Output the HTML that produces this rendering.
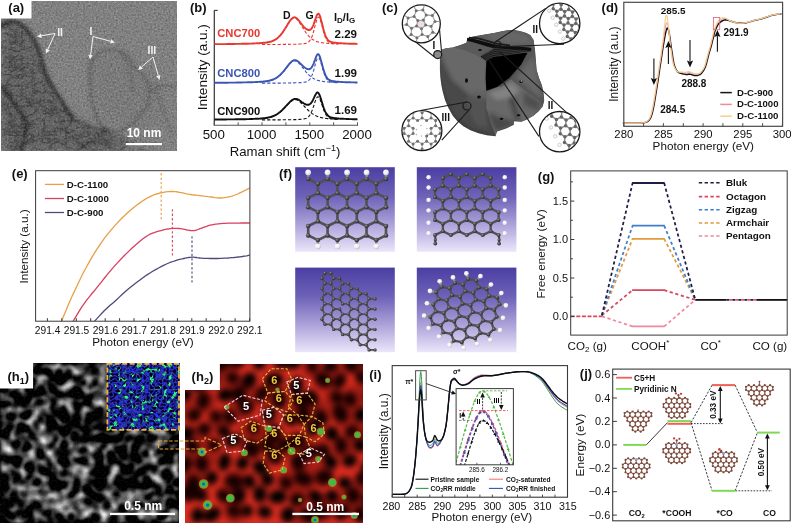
<!DOCTYPE html>
<html lang="en"><head><meta charset="utf-8"><title>Figure</title>
<style>
html,body{margin:0;padding:0;background:#fff;}
body{width:792px;height:525px;overflow:hidden;}
svg{display:block;font-family:"Liberation Sans",Arial,sans-serif;}
</style></head><body>
<svg width="792" height="525" viewBox="0 0 792 525">
<rect width="792" height="525" fill="#fff"/>
<g id="a"><defs><clipPath id="ca"><rect x="1" y="1" width="176" height="150"/></clipPath><filter id="na" x="0" y="0" width="100%" height="100%"><feTurbulence type="fractalNoise" baseFrequency="0.55" numOctaves="2" seed="3" result="t"/><feColorMatrix in="t" type="matrix" values="0 0 0 0 0  0 0 0 0 0  0 0 0 0 0  0.5 0 0 0 -0.17"/></filter><filter id="nw" x="0" y="0" width="100%" height="100%"><feTurbulence type="fractalNoise" baseFrequency="0.55" numOctaves="2" seed="11" result="t"/><feColorMatrix in="t" type="matrix" values="0 0 0 0 1  0 0 0 0 1  0 0 0 0 1  0.42 0 0 0 -0.15"/></filter><filter id="ba" x="-20%" y="-20%" width="140%" height="140%"><feGaussianBlur stdDeviation="1.6"/></filter><filter id="ba2" x="-20%" y="-20%" width="140%" height="140%"><feGaussianBlur stdDeviation="4"/></filter><filter id="ba3" x="-20%" y="-20%" width="140%" height="140%"><feGaussianBlur stdDeviation="0.8"/></filter><filter id="nsw" x="0" y="0" width="100%" height="100%"><feTurbulence type="turbulence" baseFrequency="0.09 0.14" numOctaves="2" seed="8" result="t"/><feColorMatrix in="t" type="matrix" values="0 0 0 0 0  0 0 0 0 0  0 0 0 0 0  -2.2 0 0 0 0.62"/></filter><mask id="msw"><path d="M1,20 L12,20 L26,30 L36,48 L45,76 L60,102 L72,116 L95,128 L112,134 L140,138 L160,151 L1,151 Z" fill="#fff" filter="url(#ba2)"/></mask></defs>
<g clip-path="url(#ca)">
<rect x="1" y="1" width="176" height="150" fill="#848484"/>
<path d="M1,18 L12,20 L26,30 L36,48 L45,76 L60,102 L72,116 L95,128 L108,133 L125,140 L135,151 L1,151 Z" fill="#5c5c5c" opacity="0.8" filter="url(#ba2)"/>
<path d="M88,60 L100,50 L128,52 L140,70 L160,72 L170,95 L165,125 L120,130 L95,115 Z" fill="#7a7a7a" opacity="0.6" filter="url(#ba2)"/>
<circle cx="105" cy="131" r="3.5" fill="#333" opacity="0.6" filter="url(#ba)"/>
<polyline points="1.5,26 2.1,25.7 2.9,25.1 3.8,24.6 4.9,24 6,23.4 7,23 8.1,22.7 9.2,22.4 10.3,22.2 11.5,22 12.6,21.9 13.7,22 14.8,22.2 15.8,22.5 16.9,22.9 17.9,23.4 19,23.9 20,24.5 21,25.1 22,25.7 23.1,26.4 24,27.2 25,28.1 26,29 27,30.1 27.9,31.2 28.8,32.5 29.7,33.8 30.6,35.1 31.5,36.5 32.4,37.9 33.3,39.4 34.2,41 35,42.6 35.9,44.1 36.6,45.7 37.3,47.2 37.9,48.7 38.5,50.3 39,51.8 39.5,53.4 40,55 40.5,56.7 40.9,58.4 41.4,60.2 41.8,62 42.2,63.8 42.7,65.5 43.2,67.1 43.7,68.8 44.2,70.4 44.8,71.9 45.4,73.5 46,75 46.6,76.5 47.3,78 48,79.4 48.8,80.9 49.5,82.3 50.3,83.8 51.1,85.3 52,86.7 52.8,88.2 53.7,89.6 54.6,91.1 55.5,92.5 56.4,93.9 57.3,95.2 58.3,96.6 59.2,97.9 60.1,99.2 61,100.6 61.9,102 62.7,103.4 63.5,104.8 64.3,106.2 65.1,107.6 66,109 67,110.5 68,112.1 69.1,113.7 70.1,115.2 71,116.5 71.6,117.4" fill="none" stroke="#3a3a3a" stroke-width="5" opacity="0.75" stroke-linecap="round" stroke-linejoin="round" filter="url(#ba)"/>
<polyline points="1.5,26 2.1,25.7 2.9,25.1 3.8,24.6 4.9,24 6,23.4 7,23 8.1,22.7 9.2,22.4 10.3,22.2 11.5,22 12.6,21.9 13.7,22 14.8,22.2 15.8,22.5 16.9,22.9 17.9,23.4 19,23.9 20,24.5 21,25.1 22,25.7 23.1,26.4 24,27.2 25,28.1 26,29 27,30.1 27.9,31.2 28.8,32.5 29.7,33.8 30.6,35.1 31.5,36.5 32.4,37.9 33.3,39.4 34.2,41 35,42.6 35.9,44.1 36.6,45.7 37.3,47.2 37.9,48.7 38.5,50.3 39,51.8 39.5,53.4 40,55 40.5,56.7 40.9,58.4 41.4,60.2 41.8,62 42.2,63.8 42.7,65.5 43.2,67.1 43.7,68.8 44.2,70.4 44.8,71.9 45.4,73.5 46,75 46.6,76.5 47.3,78 48,79.4 48.8,80.9 49.5,82.3 50.3,83.8 51.1,85.3 52,86.7 52.8,88.2 53.7,89.6 54.6,91.1 55.5,92.5 56.4,93.9 57.3,95.2 58.3,96.6 59.2,97.9 60.1,99.2 61,100.6 61.9,102 62.7,103.4 63.5,104.8 64.3,106.2 65.1,107.6 66,109 67,110.5 68,112.1 69.1,113.7 70.1,115.2 71,116.5 71.6,117.4" fill="none" stroke="#2a2a2a" stroke-width="1.6" opacity="0.75" stroke-linecap="round" stroke-linejoin="round" filter="url(#ba3)"/>
<polyline points="71.6,117.4 72.5,118 73.6,118.9 75,119.9 76.6,121 78.3,122 80,123 81.8,123.9 83.7,124.8 85.7,125.7 87.8,126.5 89.9,127.3 92,128 94.3,128.7 96.8,129.3 99.3,129.8 101.7,130.3 103.8,130.7 105.2,131" fill="none" stroke="#404040" stroke-width="3.2" opacity="0.65" stroke-linecap="round" stroke-linejoin="round" filter="url(#ba)"/>
<polyline points="1.5,87 2.7,88.5 4.3,90.5 6.2,92.8 8.2,95.4 10.3,98.1 12.2,100.6 14.1,103.1 16.1,105.6 18,108.2 19.9,110.8 21.6,113.3 22.9,115.9 23.9,118.4 24.8,120.8 25.4,123.3 25.7,125.7 25.9,128.3 25.9,131 25.5,134.1 24.8,137.6 23.8,141.1 22.8,144.5 21.9,147.4 21.3,149.4" fill="none" stroke="#353535" stroke-width="5" opacity="0.8" stroke-linecap="round" stroke-linejoin="round" filter="url(#ba)"/>
<polyline points="1,100 1.9,101.3 3.1,103 4.6,105.1 6.2,107.4 7.7,109.7 9,112 10.2,114.2 11.3,116.5 12.4,118.9 13.4,121.3 14.3,123.6 15,126 15.6,128.4 16.1,130.8 16.6,133.2 16.9,135.6 17,137.8 17,140 16.8,142.1 16.3,144.3 15.6,146.4 15,148.3 14.4,149.8 14,151" fill="none" stroke="#404040" stroke-width="3.5" opacity="0.6" stroke-linecap="round" stroke-linejoin="round" filter="url(#ba)"/>
<polyline points="29,105 30.1,104.4 31.7,103.5 33.5,102.5 35.6,101.6 37.6,100.9 39.6,100.6 41.6,100.7 43.7,101.1 45.8,101.8 47.9,102.6 49.9,103.7 51.8,105 53.6,106.6 55.3,108.5 56.9,110.6 58.4,112.9 59.8,115.2 61,117.4 61.9,119.6 62.4,121.8 62.8,124.1 63.3,126.4 64.1,128.7 65.5,131 67.6,133.4 70.4,135.9 73.4,138.5 76.6,140.9 79.6,143 82.3,144.8 84.7,146.2 87.2,147.2 89.4,148 91.5,148.5 93.2,149 94.5,149.4" fill="none" stroke="#454545" stroke-width="2.8" opacity="0.6" stroke-linecap="round" stroke-linejoin="round" filter="url(#ba)"/>
<polyline points="18,30 17.1,31.5 15.9,33.6 14.4,36 12.9,38.7 11.7,41.4 11,44 10.7,46.6 10.7,49.4 11,52.2 11.5,55 12.2,57.7 13,60 14.1,62.1 15.4,64.1 16.9,65.9 18.6,67.5 20.3,68.9 22,70 23.8,70.9 25.7,71.6 27.6,72.1 29.6,72.4 31.4,72.3 33,72 34.5,71.2 35.9,69.8 37.2,68.1 38.3,66.4 39.3,65 40,64" fill="none" stroke="#505050" stroke-width="2.8" opacity="0.5" stroke-linecap="round" stroke-linejoin="round" filter="url(#ba)"/>
<polyline points="91.5,61 91.3,63 91,65.6 90.7,68.8 90.3,72.3 90.1,75.9 90,79.3 90,82.7 90.1,86.3 90.3,89.9 90.5,93.6 90.9,97.2 91.5,100.6 92.2,103.9 93.1,107.2 94.2,110.3 95.3,113.4 96.4,116.2 97.6,118.9 98.9,121.4 100.3,123.8 101.8,126.1 103.2,128.1 104.4,129.8 105.2,131" fill="none" stroke="#484848" stroke-width="3.4" opacity="0.45" stroke-linecap="round" stroke-linejoin="round" filter="url(#ba)"/>
<polyline points="91.5,61 92.4,59.9 93.6,58.3 95.1,56.5 96.8,54.6 98.6,53 100.6,51.8 102.8,51 105.4,50.4 108.1,50.1 110.8,50 113.5,50 115.9,50.3 118.2,50.8 120.4,51.6 122.5,52.6 124.5,53.8 126.4,55 128,56.4 129.4,58 130.7,60 131.8,62.1 132.7,64.1 133.4,65.8 134,67" fill="none" stroke="#4c4c4c" stroke-width="3.4" opacity="0.4" stroke-linecap="round" stroke-linejoin="round" filter="url(#ba)"/>
<polyline points="134,67 135,67.9 136.5,69.2 138.3,70.6 140.1,72.3 141.8,74.2 143.3,76.2 144.6,78.4 145.9,80.9 147.1,83.5 148.2,86.2 149,88.9 149.4,91.5 149.5,94 149.4,96.6 149,99.1 148.4,101.6 147.5,104.2 146.3,106.7 144.8,109.3 143,112 140.9,114.7 138.6,117.4 136.3,119.8 134,122 131.6,124 129.1,125.8 126.5,127.5 123.9,128.9 121.4,130.1 118.9,131 116.4,131.5 113.7,131.7 111.1,131.6 108.7,131.3 106.7,131.1 105.2,131" fill="none" stroke="#484848" stroke-width="3.2" opacity="0.42" stroke-linecap="round" stroke-linejoin="round" filter="url(#ba)"/>
<polyline points="120,52 120.8,53 121.9,54.4 123.2,56.1 124.6,58 125.9,60 127,62 127.9,64.1 128.6,66.3 129.3,68.6 129.9,71 130.5,73.5 131,76 131.5,78.7 131.9,81.8 132.2,84.9 132.6,87.8 132.8,90.2 133,92" fill="none" stroke="#555" stroke-width="2.6" opacity="0.45" stroke-linecap="round" stroke-linejoin="round" filter="url(#ba)"/>
<polyline points="149.4,91.5 150.7,90.7 152.5,89.6 154.6,88.4 157,87.1 159.3,86 161.6,85.4 164,85.2 166.6,85.4 169.2,85.8 171.7,86.2 173.8,86.6 175.3,86.9" fill="none" stroke="#505050" stroke-width="2.4" opacity="0.5" stroke-linecap="round" stroke-linejoin="round" filter="url(#ba)"/>
<polyline points="157,87 157.3,88.4 157.7,90.2 158.1,92.4 158.7,94.8 159.3,97.4 160,100 160.8,102.7 161.8,105.7 162.8,108.8 163.9,111.9 165,115 166,118 167.1,121.1 168.2,124.4 169.4,127.6 170.4,130.6 171.3,133.2 172,135" fill="none" stroke="#555" stroke-width="2.2" opacity="0.4" stroke-linecap="round" stroke-linejoin="round" filter="url(#ba)"/>
<polyline points="105.2,131 103.7,132 101.6,133.4 99.1,135 96.5,136.8 93.9,138.6 91.5,140.2 89.2,141.8 86.9,143.6 84.5,145.4 82.4,147 80.6,148.4 79.3,149.4" fill="none" stroke="#3c3c3c" stroke-width="3.2" opacity="0.7" stroke-linecap="round" stroke-linejoin="round" filter="url(#ba)"/>
<polyline points="105.2,131 106,132 107.1,133.3 108.4,134.8 109.7,136.5 111,138.3 112,140 112.9,141.8 113.7,143.9 114.4,146.1 115.1,148.1 115.6,149.8 116,151" fill="none" stroke="#4a4a4a" stroke-width="2.4" opacity="0.5" stroke-linecap="round" stroke-linejoin="round" filter="url(#ba)"/>
<g mask="url(#msw)"><rect x="1" y="1" width="176" height="150" fill="#2a2a2a" filter="url(#nsw)" opacity="0.55"/></g>
<rect x="1" y="1" width="176" height="150" fill="#000" filter="url(#na)"/>
<rect x="1" y="1" width="176" height="150" filter="url(#nw)" opacity="0.9"/>
</g>
<rect x="0" y="0" width="31.5" height="18.5" fill="#fff"/>
<text x="8.3" y="11.7" font-size="13" font-weight="bold" text-anchor="start" fill="#111" >(a)</text>
<line x1="55" y1="33.5" x2="41.4" y2="35.8" stroke="#f2f2f2" stroke-width="1" /><polygon points="37,36.5 41.1,33.6 41.8,37.9" fill="#f2f2f2"/>
<line x1="55" y1="33.5" x2="47.8" y2="49.4" stroke="#f2f2f2" stroke-width="1" /><polygon points="46,53.5 45.8,48.5 49.9,50.3" fill="#f2f2f2"/>
<text x="57.2" y="35.9" font-size="10.5" font-weight="bold" text-anchor="start" fill="#f2f2f2" >II</text>
<line x1="93" y1="36.5" x2="110.7" y2="41.3" stroke="#f2f2f2" stroke-width="1" /><polygon points="115,42.5 110.1,43.4 111.2,39.2" fill="#f2f2f2"/>
<line x1="93" y1="36.5" x2="90.6" y2="55" stroke="#f2f2f2" stroke-width="1" /><polygon points="90,59.5 88.4,54.8 92.8,55.3" fill="#f2f2f2"/>
<text x="89.5" y="35" font-size="10.5" font-weight="bold" text-anchor="start" fill="#f2f2f2" >I</text>
<line x1="153" y1="57" x2="141.4" y2="67.1" stroke="#f2f2f2" stroke-width="1" /><polygon points="138,70 140,65.4 142.8,68.7" fill="#f2f2f2"/>
<line x1="153" y1="57" x2="158.3" y2="75.7" stroke="#f2f2f2" stroke-width="1" /><polygon points="159.5,80 156.2,76.3 160.4,75.1" fill="#f2f2f2"/>
<text x="147.5" y="54" font-size="10.5" font-weight="bold" text-anchor="start" fill="#f2f2f2" >III</text>
<rect x="125.8" y="143" width="36.2" height="2.2" fill="#fff"/>
<text x="144" y="136.8" font-size="12" font-weight="bold" text-anchor="middle" fill="#fff" >10 nm</text></g>
<g id="b"><line x1="214.3" y1="10.3" x2="214.3" y2="125.3" stroke="#333" stroke-width="1.2" />
<line x1="213.7" y1="125.3" x2="358" y2="125.3" stroke="#555" stroke-width="1.1" />
<line x1="214.3" y1="10.4" x2="217.7" y2="10.4" stroke="#333" stroke-width="1.1" />
<line x1="214.3" y1="125.3" x2="214.3" y2="122.3" stroke="#555" stroke-width="1.0" />
<line x1="238.2" y1="125.3" x2="238.2" y2="122.3" stroke="#555" stroke-width="1.0" />
<line x1="262" y1="125.3" x2="262" y2="122.3" stroke="#555" stroke-width="1.0" />
<line x1="285.9" y1="125.3" x2="285.9" y2="122.3" stroke="#555" stroke-width="1.0" />
<line x1="309.8" y1="125.3" x2="309.8" y2="122.3" stroke="#555" stroke-width="1.0" />
<line x1="333.6" y1="125.3" x2="333.6" y2="122.3" stroke="#555" stroke-width="1.0" />
<line x1="357.5" y1="125.3" x2="357.5" y2="122.3" stroke="#555" stroke-width="1.0" />
<text x="213.8" y="139.4" font-size="13.3" text-anchor="middle" fill="#111" >500</text>
<text x="261.5" y="139.4" font-size="13.3" text-anchor="middle" fill="#111" >1000</text>
<text x="309.3" y="139.4" font-size="13.3" text-anchor="middle" fill="#111" >1500</text>
<text x="357" y="139.4" font-size="13.3" text-anchor="middle" fill="#111" >2000</text>
<text x="285.1" y="156.2" font-size="13.2" text-anchor="middle" fill="#111" >Raman shift (cm<tspan font-size="9" dy="-4.8">−1</tspan><tspan dy="4.8">)</tspan></text>
<text transform="translate(206.6,67.2) rotate(-90)" font-size="13.6" text-anchor="middle" fill="#111">Intensity (a.u.)</text>
<polyline points="260.1,43.4 260.6,43.4 261.1,43.3 261.6,43.3 262,43.3 262.5,43.2 263,43.2 263.5,43.1 263.9,43.1 264.4,43 264.9,43 265.4,42.9 265.9,42.9 266.3,42.8 266.8,42.7 267.3,42.6 267.8,42.6 268.2,42.5 268.7,42.4 269.2,42.3 269.7,42.2 270.1,42 270.6,41.9 271.1,41.8 271.6,41.6 272.1,41.4 272.5,41.3 273,41.1 273.5,40.9 274,40.6 274.4,40.4 274.9,40.1 275.4,39.9 275.9,39.6 276.4,39.2 276.8,38.9 277.3,38.5 277.8,38.1 278.3,37.7 278.7,37.3 279.2,36.8 279.7,36.3 280.2,35.8 280.6,35.2 281.1,34.7 281.6,34.1 282.1,33.5 282.6,32.8 283,32.1 283.5,31.4 284,30.7 284.5,30 284.9,29.2 285.4,28.5 285.9,27.7 286.4,26.9 286.9,26.1 287.3,25.4 287.8,24.6 288.3,23.8 288.8,23.1 289.2,22.3 289.7,21.7 290.2,21 290.7,20.4 291.2,19.8 291.6,19.3 292.1,18.9 292.6,18.6 293.1,18.3 293.5,18.1 294,18 294.5,18 295,18.1 295.4,18.3 295.9,18.5 296.4,18.8 296.9,19.3 297.4,19.7 297.8,20.3 298.3,20.9 298.8,21.5 299.3,22.2 299.7,22.9 300.2,23.7 300.7,24.4 301.2,25.2 301.7,26 302.1,26.8 302.6,27.6 303.1,28.3 303.6,29.1 304,29.8 304.5,30.6 305,31.3 305.5,32 305.9,32.7 306.4,33.3 306.9,34 307.4,34.6 307.9,35.1 308.3,35.7 308.8,36.2 309.3,36.7 309.8,37.2 310.2,37.6 310.7,38 311.2,38.4 311.7,38.8 312.2,39.2 312.6,39.5 313.1,39.8 313.6,40.1 314.1,40.3 314.5,40.6 315,40.8 315.5,41 316,41.2 316.4,41.4 316.9,41.6 317.4,41.7 317.9,41.9 318.4,42 318.8,42.1 319.3,42.2 319.8,42.4 320.3,42.4 320.7,42.5 321.2,42.6 321.7,42.7 322.2,42.8 322.7,42.8 323.1,42.9 323.6,43 324.1,43 324.6,43.1 325,43.1 325.5,43.2 326,43.2 326.5,43.3 327,43.3 327.4,43.3 327.9,43.4 328.4,43.4 328.9,43.4 329.3,43.5 329.8,43.5 330.3,43.5 330.8,43.5 331.2,43.6 331.7,43.6 332.2,43.6 332.7,43.6 333.2,43.7 333.6,43.7 334.1,43.7 334.6,43.7 335.1,43.7 335.5,43.8 336,43.8 336.5,43.8 337,43.8 337.5,43.8 337.9,43.8 338.4,43.9" fill="none" stroke="#e8382f" stroke-width="1.1" stroke-dasharray="3.2 2" />
<polyline points="262,44.5 262.5,44.5 263,44.5 263.5,44.5 263.9,44.5 264.4,44.5 264.9,44.5 265.4,44.5 265.9,44.5 266.3,44.5 266.8,44.5 267.3,44.5 267.8,44.5 268.2,44.5 268.7,44.5 269.2,44.5 269.7,44.5 270.1,44.5 270.6,44.5 271.1,44.5 271.6,44.5 272.1,44.5 272.5,44.5 273,44.5 273.5,44.5 274,44.5 274.4,44.5 274.9,44.5 275.4,44.5 275.9,44.5 276.4,44.5 276.8,44.5 277.3,44.5 277.8,44.5 278.3,44.5 278.7,44.5 279.2,44.5 279.7,44.5 280.2,44.5 280.6,44.4 281.1,44.4 281.6,44.4 282.1,44.4 282.6,44.4 283,44.4 283.5,44.4 284,44.4 284.5,44.4 284.9,44.4 285.4,44.4 285.9,44.4 286.4,44.4 286.9,44.4 287.3,44.4 287.8,44.4 288.3,44.4 288.8,44.4 289.2,44.4 289.7,44.3 290.2,44.3 290.7,44.3 291.2,44.3 291.6,44.3 292.1,44.3 292.6,44.3 293.1,44.3 293.5,44.3 294,44.2 294.5,44.2 295,44.2 295.4,44.2 295.9,44.2 296.4,44.2 296.9,44.2 297.4,44.1 297.8,44.1 298.3,44.1 298.8,44.1 299.3,44 299.7,44 300.2,44 300.7,44 301.2,43.9 301.7,43.9 302.1,43.8 302.6,43.8 303.1,43.8 303.6,43.7 304,43.6 304.5,43.6 305,43.5 305.5,43.4 305.9,43.2 306.4,43.1 306.9,42.9 307.4,42.7 307.9,42.4 308.3,42.1 308.8,41.7 309.3,41.3 309.8,40.7 310.2,40 310.7,39.2 311.2,38.3 311.7,37.2 312.2,36 312.6,34.6 313.1,33.2 313.6,31.5 314.1,29.8 314.5,28 315,26.2 315.5,24.3 316,22.5 316.4,20.9 316.9,19.5 317.4,18.3 317.9,17.5 318.4,17.1 318.8,17.2 319.3,17.7 319.8,18.5 320.3,19.7 320.7,21.2 321.2,22.9 321.7,24.7 322.2,26.5 322.7,28.4 323.1,30.2 323.6,31.9 324.1,33.5 324.6,34.9 325,36.3 325.5,37.4 326,38.5 326.5,39.4 327,40.2 327.4,40.8 327.9,41.4 328.4,41.8 328.9,42.2 329.3,42.5 329.8,42.8 330.3,43 330.8,43.1 331.2,43.3 331.7,43.4 332.2,43.5 332.7,43.6 333.2,43.6 333.6,43.7 334.1,43.8 334.6,43.8 335.1,43.9 335.5,43.9 336,43.9 336.5,44 337,44 337.5,44 337.9,44 338.4,44.1" fill="none" stroke="#e8382f" stroke-width="1.1" stroke-dasharray="3.2 2" />
<polyline points="214.3,44.1 214.8,44.1 215.3,44.1 215.7,44.1 216.2,44.1 216.7,44.1 217.2,44.1 217.6,44.1 218.1,44.1 218.6,44.1 219.1,44.1 219.6,44.1 220,44.1 220.5,44.1 221,44.1 221.5,44.1 221.9,44.1 222.4,44.1 222.9,44.1 223.4,44.1 223.8,44.1 224.3,44.1 224.8,44.1 225.3,44.1 225.8,44.1 226.2,44.1 226.7,44 227.2,44 227.7,44 228.1,44 228.6,44 229.1,44 229.6,44 230.1,44 230.5,44 231,44 231.5,44 232,44 232.4,44 232.9,44 233.4,44 233.9,44 234.3,44 234.8,43.9 235.3,43.9 235.8,43.9 236.3,43.9 236.7,43.9 237.2,43.9 237.7,43.9 238.2,43.9 238.6,43.9 239.1,43.9 239.6,43.9 240.1,43.9 240.6,43.9 241,43.8 241.5,43.8 242,43.8 242.5,43.8 242.9,43.8 243.4,43.8 243.9,43.8 244.4,43.8 244.8,43.8 245.3,43.7 245.8,43.7 246.3,43.7 246.8,43.7 247.2,43.7 247.7,43.7 248.2,43.7 248.7,43.7 249.1,43.6 249.6,43.6 250.1,43.6 250.6,43.6 251.1,43.6 251.5,43.6 252,43.5 252.5,43.5 253,43.5 253.4,43.5 253.9,43.5 254.4,43.4 254.9,43.4 255.4,43.4 255.8,43.4 256.3,43.4 256.8,43.3 257.3,43.3 257.7,43.3 258.2,43.3 258.7,43.2 259.2,43.2 259.6,43.2 260.1,43.1 260.6,43.1 261.1,43.1 261.6,43 262,43 262.5,42.9 263,42.9 263.5,42.8 263.9,42.8 264.4,42.7 264.9,42.7 265.4,42.6 265.9,42.6 266.3,42.5 266.8,42.4 267.3,42.3 267.8,42.3 268.2,42.2 268.7,42.1 269.2,42 269.7,41.9 270.1,41.7 270.6,41.6 271.1,41.5 271.6,41.3 272.1,41.1 272.5,40.9 273,40.7 273.5,40.5 274,40.3 274.4,40.1 274.9,39.8 275.4,39.5 275.9,39.2 276.4,38.9 276.8,38.5 277.3,38.2 277.8,37.8 278.3,37.4 278.7,36.9 279.2,36.4 279.7,35.9 280.2,35.4 280.6,34.9 281.1,34.3 281.6,33.7 282.1,33.1 282.6,32.4 283,31.7 283.5,31 284,30.3 284.5,29.6 284.9,28.8 285.4,28.1 285.9,27.3 286.4,26.5 286.9,25.7 287.3,24.9 287.8,24.1 288.3,23.3 288.8,22.6 289.2,21.9 289.7,21.1 290.2,20.5 290.7,19.9 291.2,19.3 291.6,18.8 292.1,18.4 292.6,18 293.1,17.7 293.5,17.5 294,17.4 294.5,17.3 295,17.4 295.4,17.5 295.9,17.8 296.4,18.1 296.9,18.4 297.4,18.9 297.8,19.3 298.3,19.9 298.8,20.5 299.3,21.1 299.7,21.7 300.2,22.3 300.7,23 301.2,23.6 301.7,24.2 302.1,24.8 302.6,25.4 303.1,26 303.6,26.6 304,27.1 304.5,27.6 305,28 305.5,28.4 305.9,28.8 306.4,29.1 306.9,29.4 307.4,29.7 307.9,29.8 308.3,30 308.8,30 309.3,30 309.8,29.9 310.2,29.7 310.7,29.3 311.2,28.9 311.7,28.3 312.2,27.6 312.6,26.7 313.1,25.7 313.6,24.5 314.1,23.2 314.5,21.8 315,20.4 315.5,18.9 316,17.5 316.4,16.2 316.9,15.1 317.4,14.3 317.9,13.8 318.4,13.6 318.8,13.9 319.3,14.6 319.8,15.6 320.3,17 320.7,18.6 321.2,20.4 321.7,22.3 322.2,24.3 322.7,26.2 323.1,28.1 323.6,29.9 324.1,31.6 324.6,33.1 325,34.5 325.5,35.7 326,36.8 326.5,37.8 327,38.6 327.4,39.3 327.9,39.9 328.4,40.4 328.9,40.8 329.3,41.1 329.8,41.4 330.3,41.6 330.8,41.8 331.2,42 331.7,42.1 332.2,42.3 332.7,42.4 333.2,42.5 333.6,42.6 334.1,42.6 334.6,42.7 335.1,42.8 335.5,42.8 336,42.9 336.5,42.9 337,43 337.5,43 337.9,43.1 338.4,43.1 338.9,43.2 339.4,43.2 339.8,43.2 340.3,43.3 340.8,43.3 341.3,43.3 341.7,43.3 342.2,43.4 342.7,43.4 343.2,43.4 343.7,43.5 344.1,43.5 344.6,43.5 345.1,43.5 345.6,43.5 346,43.6 346.5,43.6 347,43.6 347.5,43.6 348,43.6 348.4,43.6 348.9,43.7 349.4,43.7 349.9,43.7 350.3,43.7 350.8,43.7 351.3,43.7 351.8,43.7 352.2,43.8 352.7,43.8 353.2,43.8 353.7,43.8 354.2,43.8 354.6,43.8 355.1,43.8 355.6,43.8 356.1,43.9 356.5,43.9 357,43.9 357.5,43.9" fill="none" stroke="#e8382f" stroke-width="1.9" stroke-linejoin="round"/>
<text x="217.2" y="36.9" font-size="10.5" font-weight="bold" text-anchor="start" fill="#e8382f" textLength="43" lengthAdjust="spacingAndGlyphs">CNC700</text>
<text x="334.5" y="37.8" font-size="11" font-weight="bold" text-anchor="start" fill="#111" textLength="22.5" lengthAdjust="spacingAndGlyphs">2.29</text>
<polyline points="260.1,82.1 260.6,82 261.1,82 261.6,82 262,81.9 262.5,81.9 263,81.9 263.5,81.8 263.9,81.8 264.4,81.7 264.9,81.7 265.4,81.6 265.9,81.5 266.3,81.5 266.8,81.4 267.3,81.3 267.8,81.2 268.2,81.2 268.7,81.1 269.2,81 269.7,80.8 270.1,80.7 270.6,80.6 271.1,80.5 271.6,80.3 272.1,80.2 272.5,80 273,79.8 273.5,79.6 274,79.4 274.4,79.2 274.9,79 275.4,78.7 275.9,78.4 276.4,78.2 276.8,77.9 277.3,77.5 277.8,77.2 278.3,76.8 278.7,76.5 279.2,76.1 279.7,75.7 280.2,75.2 280.6,74.8 281.1,74.3 281.6,73.8 282.1,73.3 282.6,72.8 283,72.2 283.5,71.7 284,71.1 284.5,70.5 284.9,69.9 285.4,69.3 285.9,68.7 286.4,68.1 286.9,67.5 287.3,66.8 287.8,66.2 288.3,65.6 288.8,65.1 289.2,64.5 289.7,63.9 290.2,63.4 290.7,62.9 291.2,62.5 291.6,62.1 292.1,61.7 292.6,61.4 293.1,61.2 293.5,61 294,60.9 294.5,60.8 295,60.8 295.4,60.9 295.9,61 296.4,61.2 296.9,61.5 297.4,61.8 297.8,62.2 298.3,62.6 298.8,63 299.3,63.5 299.7,64 300.2,64.6 300.7,65.2 301.2,65.8 301.7,66.4 302.1,67 302.6,67.6 303.1,68.2 303.6,68.8 304,69.4 304.5,70 305,70.6 305.5,71.2 305.9,71.8 306.4,72.3 306.9,72.9 307.4,73.4 307.9,73.9 308.3,74.4 308.8,74.9 309.3,75.3 309.8,75.7 310.2,76.1 310.7,76.5 311.2,76.9 311.7,77.3 312.2,77.6 312.6,77.9 313.1,78.2 313.6,78.5 314.1,78.8 314.5,79 315,79.2 315.5,79.5 316,79.7 316.4,79.9 316.9,80 317.4,80.2 317.9,80.4 318.4,80.5 318.8,80.6 319.3,80.8 319.8,80.9 320.3,81 320.7,81.1 321.2,81.2 321.7,81.3 322.2,81.3 322.7,81.4 323.1,81.5 323.6,81.5 324.1,81.6 324.6,81.7 325,81.7 325.5,81.8 326,81.8 326.5,81.9 327,81.9 327.4,81.9 327.9,82 328.4,82 328.9,82 329.3,82.1 329.8,82.1 330.3,82.1 330.8,82.2 331.2,82.2 331.7,82.2 332.2,82.2 332.7,82.3 333.2,82.3 333.6,82.3 334.1,82.3 334.6,82.3 335.1,82.4 335.5,82.4 336,82.4 336.5,82.4 337,82.4 337.5,82.4 337.9,82.5 338.4,82.5" fill="none" stroke="#3b55b5" stroke-width="1.1" stroke-dasharray="3.2 2" />
<polyline points="262,83.1 262.5,83.1 263,83.1 263.5,83.1 263.9,83.1 264.4,83.1 264.9,83.1 265.4,83.1 265.9,83.1 266.3,83.1 266.8,83.1 267.3,83.1 267.8,83.1 268.2,83.1 268.7,83.1 269.2,83.1 269.7,83.1 270.1,83.1 270.6,83.1 271.1,83.1 271.6,83.1 272.1,83.1 272.5,83.1 273,83.1 273.5,83.1 274,83.1 274.4,83.1 274.9,83.1 275.4,83.1 275.9,83.1 276.4,83.1 276.8,83.1 277.3,83.1 277.8,83.1 278.3,83.1 278.7,83.1 279.2,83.1 279.7,83.1 280.2,83.1 280.6,83.1 281.1,83.1 281.6,83.1 282.1,83 282.6,83 283,83 283.5,83 284,83 284.5,83 284.9,83 285.4,83 285.9,83 286.4,83 286.9,83 287.3,83 287.8,83 288.3,83 288.8,83 289.2,83 289.7,83 290.2,83 290.7,82.9 291.2,82.9 291.6,82.9 292.1,82.9 292.6,82.9 293.1,82.9 293.5,82.9 294,82.9 294.5,82.9 295,82.8 295.4,82.8 295.9,82.8 296.4,82.8 296.9,82.8 297.4,82.8 297.8,82.7 298.3,82.7 298.8,82.7 299.3,82.7 299.7,82.6 300.2,82.6 300.7,82.6 301.2,82.6 301.7,82.5 302.1,82.5 302.6,82.4 303.1,82.4 303.6,82.3 304,82.3 304.5,82.2 305,82.1 305.5,82 305.9,81.9 306.4,81.8 306.9,81.6 307.4,81.4 307.9,81.1 308.3,80.8 308.8,80.4 309.3,79.9 309.8,79.3 310.2,78.7 310.7,77.9 311.2,77 311.7,75.9 312.2,74.7 312.6,73.4 313.1,72 313.6,70.5 314.1,68.8 314.5,67.1 315,65.4 315.5,63.7 316,62.1 316.4,60.7 316.9,59.4 317.4,58.5 317.9,57.9 318.4,57.7 318.8,57.9 319.3,58.5 319.8,59.4 320.3,60.7 320.7,62.1 321.2,63.7 321.7,65.4 322.2,67.1 322.7,68.8 323.1,70.5 323.6,72 324.1,73.4 324.6,74.7 325,75.9 325.5,77 326,77.9 326.5,78.7 327,79.3 327.4,79.9 327.9,80.4 328.4,80.8 328.9,81.1 329.3,81.4 329.8,81.6 330.3,81.8 330.8,81.9 331.2,82 331.7,82.1 332.2,82.2 332.7,82.3 333.2,82.3 333.6,82.4 334.1,82.4 334.6,82.5 335.1,82.5 335.5,82.6 336,82.6 336.5,82.6 337,82.6 337.5,82.7 337.9,82.7 338.4,82.7" fill="none" stroke="#3b55b5" stroke-width="1.1" stroke-dasharray="3.2 2" />
<polyline points="214.3,82.8 214.8,82.8 215.3,82.8 215.7,82.7 216.2,82.7 216.7,82.7 217.2,82.7 217.6,82.7 218.1,82.7 218.6,82.7 219.1,82.7 219.6,82.7 220,82.7 220.5,82.7 221,82.7 221.5,82.7 221.9,82.7 222.4,82.7 222.9,82.7 223.4,82.7 223.8,82.7 224.3,82.7 224.8,82.7 225.3,82.7 225.8,82.7 226.2,82.7 226.7,82.7 227.2,82.7 227.7,82.7 228.1,82.7 228.6,82.6 229.1,82.6 229.6,82.6 230.1,82.6 230.5,82.6 231,82.6 231.5,82.6 232,82.6 232.4,82.6 232.9,82.6 233.4,82.6 233.9,82.6 234.3,82.6 234.8,82.6 235.3,82.6 235.8,82.6 236.3,82.6 236.7,82.5 237.2,82.5 237.7,82.5 238.2,82.5 238.6,82.5 239.1,82.5 239.6,82.5 240.1,82.5 240.6,82.5 241,82.5 241.5,82.5 242,82.5 242.5,82.4 242.9,82.4 243.4,82.4 243.9,82.4 244.4,82.4 244.8,82.4 245.3,82.4 245.8,82.4 246.3,82.4 246.8,82.4 247.2,82.3 247.7,82.3 248.2,82.3 248.7,82.3 249.1,82.3 249.6,82.3 250.1,82.3 250.6,82.2 251.1,82.2 251.5,82.2 252,82.2 252.5,82.2 253,82.2 253.4,82.1 253.9,82.1 254.4,82.1 254.9,82.1 255.4,82.1 255.8,82 256.3,82 256.8,82 257.3,82 257.7,81.9 258.2,81.9 258.7,81.9 259.2,81.9 259.6,81.8 260.1,81.8 260.6,81.8 261.1,81.7 261.6,81.7 262,81.7 262.5,81.6 263,81.6 263.5,81.5 263.9,81.5 264.4,81.4 264.9,81.4 265.4,81.3 265.9,81.3 266.3,81.2 266.8,81.1 267.3,81 267.8,81 268.2,80.9 268.7,80.8 269.2,80.7 269.7,80.6 270.1,80.4 270.6,80.3 271.1,80.2 271.6,80 272.1,79.9 272.5,79.7 273,79.5 273.5,79.3 274,79.1 274.4,78.9 274.9,78.6 275.4,78.4 275.9,78.1 276.4,77.8 276.8,77.5 277.3,77.2 277.8,76.9 278.3,76.5 278.7,76.1 279.2,75.7 279.7,75.3 280.2,74.9 280.6,74.4 281.1,73.9 281.6,73.4 282.1,72.9 282.6,72.4 283,71.8 283.5,71.3 284,70.7 284.5,70.1 284.9,69.5 285.4,68.9 285.9,68.3 286.4,67.7 286.9,67 287.3,66.4 287.8,65.8 288.3,65.2 288.8,64.6 289.2,64 289.7,63.5 290.2,62.9 290.7,62.4 291.2,62 291.6,61.6 292.1,61.2 292.6,60.9 293.1,60.6 293.5,60.4 294,60.3 294.5,60.2 295,60.2 295.4,60.2 295.9,60.3 296.4,60.5 296.9,60.7 297.4,61 297.8,61.3 298.3,61.7 298.8,62 299.3,62.5 299.7,62.9 300.2,63.4 300.7,63.8 301.2,64.3 301.7,64.8 302.1,65.2 302.6,65.7 303.1,66.1 303.6,66.6 304,67 304.5,67.3 305,67.7 305.5,68 305.9,68.3 306.4,68.6 306.9,68.8 307.4,69 307.9,69.1 308.3,69.2 308.8,69.2 309.3,69.1 309.8,69 310.2,68.7 310.7,68.4 311.2,67.9 311.7,67.3 312.2,66.6 312.6,65.7 313.1,64.7 313.6,63.6 314.1,62.4 314.5,61.1 315,59.8 315.5,58.4 316,57.2 316.4,56.1 316.9,55.1 317.4,54.5 317.9,54.1 318.4,54.2 318.8,54.6 319.3,55.4 319.8,56.5 320.3,57.9 320.7,59.5 321.2,61.3 321.7,63.1 322.2,64.9 322.7,66.7 323.1,68.4 323.6,70 324.1,71.5 324.6,72.9 325,74.2 325.5,75.3 326,76.2 326.5,77.1 327,77.8 327.4,78.4 327.9,78.9 328.4,79.3 328.9,79.7 329.3,80 329.8,80.2 330.3,80.4 330.8,80.6 331.2,80.8 331.7,80.9 332.2,81 332.7,81.1 333.2,81.2 333.6,81.3 334.1,81.3 334.6,81.4 335.1,81.5 335.5,81.5 336,81.6 336.5,81.6 337,81.7 337.5,81.7 337.9,81.7 338.4,81.8 338.9,81.8 339.4,81.9 339.8,81.9 340.3,81.9 340.8,81.9 341.3,82 341.7,82 342.2,82 342.7,82.1 343.2,82.1 343.7,82.1 344.1,82.1 344.6,82.1 345.1,82.2 345.6,82.2 346,82.2 346.5,82.2 347,82.2 347.5,82.3 348,82.3 348.4,82.3 348.9,82.3 349.4,82.3 349.9,82.3 350.3,82.3 350.8,82.4 351.3,82.4 351.8,82.4 352.2,82.4 352.7,82.4 353.2,82.4 353.7,82.4 354.2,82.4 354.6,82.4 355.1,82.5 355.6,82.5 356.1,82.5 356.5,82.5 357,82.5 357.5,82.5" fill="none" stroke="#3b55b5" stroke-width="1.9" stroke-linejoin="round"/>
<text x="217.2" y="77" font-size="10.5" font-weight="bold" text-anchor="start" fill="#3b55b5" textLength="43" lengthAdjust="spacingAndGlyphs">CNC800</text>
<text x="334.5" y="76.9" font-size="11" font-weight="bold" text-anchor="start" fill="#111" textLength="22.5" lengthAdjust="spacingAndGlyphs">1.99</text>
<polyline points="260.1,118.8 260.6,118.8 261.1,118.8 261.6,118.7 262,118.7 262.5,118.6 263,118.6 263.5,118.5 263.9,118.5 264.4,118.4 264.9,118.4 265.4,118.3 265.9,118.2 266.3,118.2 266.8,118.1 267.3,118 267.8,117.9 268.2,117.8 268.7,117.7 269.2,117.6 269.7,117.5 270.1,117.4 270.6,117.3 271.1,117.1 271.6,117 272.1,116.8 272.5,116.7 273,116.5 273.5,116.3 274,116.1 274.4,115.9 274.9,115.6 275.4,115.4 275.9,115.2 276.4,114.9 276.8,114.6 277.3,114.3 277.8,114 278.3,113.7 278.7,113.3 279.2,113 279.7,112.6 280.2,112.2 280.6,111.8 281.1,111.4 281.6,111 282.1,110.5 282.6,110.1 283,109.6 283.5,109.1 284,108.6 284.5,108.1 284.9,107.6 285.4,107.1 285.9,106.6 286.4,106.1 286.9,105.6 287.3,105.1 287.8,104.6 288.3,104 288.8,103.6 289.2,103.1 289.7,102.6 290.2,102.2 290.7,101.7 291.2,101.4 291.6,101 292.1,100.7 292.6,100.4 293.1,100.1 293.5,99.9 294,99.8 294.5,99.7 295,99.6 295.4,99.6 295.9,99.6 296.4,99.7 296.9,99.9 297.4,100.1 297.8,100.3 298.3,100.6 298.8,100.9 299.3,101.3 299.7,101.7 300.2,102.1 300.7,102.5 301.2,103 301.7,103.5 302.1,103.9 302.6,104.5 303.1,105 303.6,105.5 304,106 304.5,106.5 305,107 305.5,107.5 305.9,108 306.4,108.5 306.9,109 307.4,109.5 307.9,110 308.3,110.4 308.8,110.9 309.3,111.3 309.8,111.7 310.2,112.1 310.7,112.5 311.2,112.9 311.7,113.3 312.2,113.6 312.6,113.9 313.1,114.2 313.6,114.5 314.1,114.8 314.5,115.1 315,115.4 315.5,115.6 316,115.8 316.4,116 316.9,116.2 317.4,116.4 317.9,116.6 318.4,116.8 318.8,117 319.3,117.1 319.8,117.2 320.3,117.4 320.7,117.5 321.2,117.6 321.7,117.7 322.2,117.8 322.7,117.9 323.1,118 323.6,118.1 324.1,118.2 324.6,118.2 325,118.3 325.5,118.4 326,118.4 326.5,118.5 327,118.5 327.4,118.6 327.9,118.6 328.4,118.7 328.9,118.7 329.3,118.8 329.8,118.8 330.3,118.8 330.8,118.9 331.2,118.9 331.7,118.9 332.2,118.9 332.7,119 333.2,119 333.6,119 334.1,119 334.6,119.1 335.1,119.1 335.5,119.1 336,119.1 336.5,119.1 337,119.2 337.5,119.2 337.9,119.2 338.4,119.2" fill="none" stroke="#111111" stroke-width="1.1" stroke-dasharray="3.2 2" />
<polyline points="262,119.9 262.5,119.9 263,119.9 263.5,119.9 263.9,119.9 264.4,119.9 264.9,119.9 265.4,119.9 265.9,119.9 266.3,119.9 266.8,119.9 267.3,119.9 267.8,119.9 268.2,119.9 268.7,119.9 269.2,119.9 269.7,119.9 270.1,119.9 270.6,119.9 271.1,119.9 271.6,119.9 272.1,119.9 272.5,119.9 273,119.9 273.5,119.9 274,119.9 274.4,119.9 274.9,119.9 275.4,119.9 275.9,119.9 276.4,119.9 276.8,119.9 277.3,119.9 277.8,119.9 278.3,119.9 278.7,119.9 279.2,119.9 279.7,119.9 280.2,119.9 280.6,119.8 281.1,119.8 281.6,119.8 282.1,119.8 282.6,119.8 283,119.8 283.5,119.8 284,119.8 284.5,119.8 284.9,119.8 285.4,119.8 285.9,119.8 286.4,119.8 286.9,119.8 287.3,119.8 287.8,119.8 288.3,119.8 288.8,119.8 289.2,119.7 289.7,119.7 290.2,119.7 290.7,119.7 291.2,119.7 291.6,119.7 292.1,119.7 292.6,119.7 293.1,119.7 293.5,119.7 294,119.6 294.5,119.6 295,119.6 295.4,119.6 295.9,119.6 296.4,119.6 296.9,119.5 297.4,119.5 297.8,119.5 298.3,119.5 298.8,119.5 299.3,119.4 299.7,119.4 300.2,119.4 300.7,119.3 301.2,119.3 301.7,119.2 302.1,119.2 302.6,119.1 303.1,119.1 303.6,119 304,118.9 304.5,118.8 305,118.7 305.5,118.6 305.9,118.4 306.4,118.2 306.9,117.9 307.4,117.6 307.9,117.3 308.3,116.9 308.8,116.4 309.3,115.8 309.8,115.1 310.2,114.3 310.7,113.5 311.2,112.5 311.7,111.4 312.2,110.2 312.6,108.9 313.1,107.6 313.6,106.2 314.1,104.7 314.5,103.3 315,101.9 315.5,100.6 316,99.4 316.4,98.3 316.9,97.6 317.4,97 317.9,96.8 318.4,96.9 318.8,97.3 319.3,98 319.8,98.9 320.3,100.1 320.7,101.4 321.2,102.7 321.7,104.2 322.2,105.6 322.7,107 323.1,108.4 323.6,109.7 324.1,110.9 324.6,112.1 325,113.1 325.5,114 326,114.8 326.5,115.5 327,116.1 327.4,116.7 327.9,117.1 328.4,117.5 328.9,117.8 329.3,118.1 329.8,118.3 330.3,118.5 330.8,118.7 331.2,118.8 331.7,118.9 332.2,119 332.7,119.1 333.2,119.1 333.6,119.2 334.1,119.2 334.6,119.3 335.1,119.3 335.5,119.4 336,119.4 336.5,119.4 337,119.4 337.5,119.5 337.9,119.5 338.4,119.5" fill="none" stroke="#111111" stroke-width="1.1" stroke-dasharray="3.2 2" />
<polyline points="214.3,119.5 214.8,119.5 215.3,119.5 215.7,119.5 216.2,119.5 216.7,119.5 217.2,119.5 217.6,119.5 218.1,119.5 218.6,119.5 219.1,119.5 219.6,119.5 220,119.5 220.5,119.5 221,119.5 221.5,119.5 221.9,119.5 222.4,119.5 222.9,119.5 223.4,119.5 223.8,119.5 224.3,119.5 224.8,119.5 225.3,119.5 225.8,119.5 226.2,119.5 226.7,119.4 227.2,119.4 227.7,119.4 228.1,119.4 228.6,119.4 229.1,119.4 229.6,119.4 230.1,119.4 230.5,119.4 231,119.4 231.5,119.4 232,119.4 232.4,119.4 232.9,119.4 233.4,119.4 233.9,119.4 234.3,119.4 234.8,119.4 235.3,119.3 235.8,119.3 236.3,119.3 236.7,119.3 237.2,119.3 237.7,119.3 238.2,119.3 238.6,119.3 239.1,119.3 239.6,119.3 240.1,119.3 240.6,119.3 241,119.3 241.5,119.2 242,119.2 242.5,119.2 242.9,119.2 243.4,119.2 243.9,119.2 244.4,119.2 244.8,119.2 245.3,119.2 245.8,119.2 246.3,119.1 246.8,119.1 247.2,119.1 247.7,119.1 248.2,119.1 248.7,119.1 249.1,119.1 249.6,119 250.1,119 250.6,119 251.1,119 251.5,119 252,119 252.5,119 253,118.9 253.4,118.9 253.9,118.9 254.4,118.9 254.9,118.9 255.4,118.8 255.8,118.8 256.3,118.8 256.8,118.8 257.3,118.7 257.7,118.7 258.2,118.7 258.7,118.7 259.2,118.6 259.6,118.6 260.1,118.6 260.6,118.5 261.1,118.5 261.6,118.4 262,118.4 262.5,118.4 263,118.3 263.5,118.3 263.9,118.2 264.4,118.2 264.9,118.1 265.4,118 265.9,118 266.3,117.9 266.8,117.8 267.3,117.7 267.8,117.6 268.2,117.5 268.7,117.4 269.2,117.3 269.7,117.2 270.1,117.1 270.6,117 271.1,116.8 271.6,116.7 272.1,116.5 272.5,116.3 273,116.2 273.5,116 274,115.8 274.4,115.5 274.9,115.3 275.4,115.1 275.9,114.8 276.4,114.5 276.8,114.3 277.3,114 277.8,113.6 278.3,113.3 278.7,113 279.2,112.6 279.7,112.2 280.2,111.9 280.6,111.4 281.1,111 281.6,110.6 282.1,110.1 282.6,109.7 283,109.2 283.5,108.7 284,108.2 284.5,107.7 284.9,107.2 285.4,106.7 285.9,106.2 286.4,105.7 286.9,105.1 287.3,104.6 287.8,104.1 288.3,103.6 288.8,103.1 289.2,102.6 289.7,102.1 290.2,101.7 290.7,101.2 291.2,100.8 291.6,100.4 292.1,100.1 292.6,99.8 293.1,99.5 293.5,99.3 294,99.1 294.5,99 295,98.9 295.4,98.9 295.9,98.9 296.4,99 296.9,99.1 297.4,99.2 297.8,99.4 298.3,99.7 298.8,99.9 299.3,100.2 299.7,100.5 300.2,100.8 300.7,101.2 301.2,101.5 301.7,101.9 302.1,102.2 302.6,102.5 303.1,102.9 303.6,103.2 304,103.5 304.5,103.8 305,104 305.5,104.3 305.9,104.5 306.4,104.6 306.9,104.7 307.4,104.8 307.9,104.8 308.3,104.8 308.8,104.7 309.3,104.5 309.8,104.2 310.2,103.8 310.7,103.4 311.2,102.8 311.7,102.2 312.2,101.5 312.6,100.6 313.1,99.7 313.6,98.7 314.1,97.7 314.5,96.7 315,95.7 315.5,94.7 316,93.9 316.4,93.2 316.9,92.7 317.4,92.5 317.9,92.6 318.4,92.9 318.8,93.6 319.3,94.5 319.8,95.6 320.3,96.9 320.7,98.4 321.2,99.9 321.7,101.5 322.2,103.1 322.7,104.6 323.1,106.1 323.6,107.5 324.1,108.8 324.6,110 325,111.1 325.5,112.1 326,113 326.5,113.7 327,114.4 327.4,115 327.9,115.5 328.4,115.9 328.9,116.3 329.3,116.6 329.8,116.9 330.3,117.1 330.8,117.3 331.2,117.4 331.7,117.6 332.2,117.7 332.7,117.8 333.2,117.9 333.6,118 334.1,118 334.6,118.1 335.1,118.2 335.5,118.2 336,118.3 336.5,118.3 337,118.4 337.5,118.4 337.9,118.5 338.4,118.5 338.9,118.6 339.4,118.6 339.8,118.6 340.3,118.7 340.8,118.7 341.3,118.7 341.7,118.7 342.2,118.8 342.7,118.8 343.2,118.8 343.7,118.8 344.1,118.9 344.6,118.9 345.1,118.9 345.6,118.9 346,118.9 346.5,119 347,119 347.5,119 348,119 348.4,119 348.9,119.1 349.4,119.1 349.9,119.1 350.3,119.1 350.8,119.1 351.3,119.1 351.8,119.1 352.2,119.1 352.7,119.2 353.2,119.2 353.7,119.2 354.2,119.2 354.6,119.2 355.1,119.2 355.6,119.2 356.1,119.2 356.5,119.2 357,119.3 357.5,119.3" fill="none" stroke="#111111" stroke-width="1.9" stroke-linejoin="round"/>
<text x="217.2" y="114.5" font-size="10.5" font-weight="bold" text-anchor="start" fill="#111111" textLength="43" lengthAdjust="spacingAndGlyphs">CNC900</text>
<text x="334.5" y="114.3" font-size="11" font-weight="bold" text-anchor="start" fill="#111" textLength="22.5" lengthAdjust="spacingAndGlyphs">1.69</text>
<text x="283" y="18.6" font-size="10.5" font-weight="bold" text-anchor="start" fill="#111" >D</text>
<text x="305.5" y="18.6" font-size="10.5" font-weight="bold" text-anchor="start" fill="#111" >G</text>
<text x="334" y="20.8" font-size="11" font-weight="bold" text-anchor="start" fill="#111" >I<tspan font-size="8" dy="2.6">D</tspan><tspan dy="-2.6">/I</tspan><tspan font-size="8" dy="2.6">G</tspan></text>
<text x="190" y="11.8" font-size="13" font-weight="bold" text-anchor="start" fill="#111" >(b)</text></g>
<g id="c"><defs><linearGradient id="cg1" x1="0" y1="0" x2="1" y2="1"><stop offset="0" stop-color="#6e6e6e"/><stop offset="0.35" stop-color="#555"/><stop offset="1" stop-color="#2e2e2e"/></linearGradient><linearGradient id="cg2" x1="0" y1="0" x2="1" y2="0"><stop offset="0" stop-color="#4a4a4a"/><stop offset="1" stop-color="#6a6a6a"/></linearGradient><linearGradient id="cg3" x1="0" y1="0" x2="0" y2="1"><stop offset="0" stop-color="#5c5c5c"/><stop offset="1" stop-color="#3a3a3a"/></linearGradient><filter id="bc" x="-10%" y="-10%" width="120%" height="120%"><feGaussianBlur stdDeviation="0.5"/></filter><filter id="bc2" x="-10%" y="-10%" width="120%" height="120%"><feGaussianBlur stdDeviation="2.2"/></filter></defs>
<text x="382" y="11.8" font-size="13" font-weight="bold" text-anchor="start" fill="#111" >(c)</text>
<g filter="url(#bc)">
<polygon points="441.4,49.7 446,48.3 452.8,47.4 460,45.3 466.5,42.8 467.3,38.3 473,36.6 480.3,35.2 494,32.9 502,31.2 509.2,29.9 516,30.2 521.4,31.4 526.5,33 530.5,35.2 533.5,39.8 535,49.7 535.8,60 536.6,70 539,78 541.9,85.2 543.6,93 544.2,100.5 542.7,106.5 538.5,111.5 533.5,115.7 527,119.5 521.4,121.8 514,121.2 513.8,124.8 506,128.5 497,131.5 495.5,136.2 487,135.2 478.7,133.2 470.5,130.2 463.5,126.3 457.5,121.2 452.8,115.7 448.5,108 445.2,100.5 442.8,92 441.4,85.2 440.3,77 439.9,70 439.9,60 440.3,54" fill="#484848"/>
<clipPath id="cbody"><polygon points="441.4,49.7 446,48.3 452.8,47.4 460,45.3 466.5,42.8 467.3,38.3 473,36.6 480.3,35.2 494,32.9 502,31.2 509.2,29.9 516,30.2 521.4,31.4 526.5,33 530.5,35.2 533.5,39.8 535,49.7 535.8,60 536.6,70 539,78 541.9,85.2 543.6,93 544.2,100.5 542.7,106.5 538.5,111.5 533.5,115.7 527,119.5 521.4,121.8 514,121.2 513.8,124.8 506,128.5 497,131.5 495.5,136.2 487,135.2 478.7,133.2 470.5,130.2 463.5,126.3 457.5,121.2 452.8,115.7 448.5,108 445.2,100.5 442.8,92 441.4,85.2 440.3,77 439.9,70 439.9,60 440.3,54"/></clipPath>
<g clip-path="url(#cbody)">
<path d="M436,45 L470,40 L488,60 L488,100 L470,96 L452,80 L444,64 Z" fill="#707070" opacity="0.8" filter="url(#bc2)"/>
<path d="M436,70 L442,95 L452,116 L470,131 L496,138 L496,142 L430,142 Z" fill="#262626" opacity="0.8" filter="url(#bc2)"/>
<path d="M464,100 L476,92 L486,96 L488,128 L476,126 Z" fill="#5c5c5c" opacity="0.6" filter="url(#bc2)"/>
<polygon points="452.8,47.4 466.5,42.8 467.3,38.3 480.3,35.2 494,32.9 509.2,29.9 521.4,31.4 530.5,35.2 534,41 534.5,50 527.5,52.7 494,56.5 486.3,61.1 476,55 464,50" fill="#5a5a5a"/>
<path d="M484,34 L509,30 L528,34 L532,44 L510,45 L492,41 Z" fill="#6a6a6a" opacity="0.8" filter="url(#bc2)"/>
<polygon points="527.5,52.7 534.8,48 536.6,70 541.9,85.2 544.2,100.5 542.7,106.5 539.6,100.5 524.4,89.8 510.7,79 521.4,64.2" fill="#555"/>
<path d="M524,66 L534,56 L540,84 L542,100 L528,88 L516,78 Z" fill="#6c6c6c" opacity="0.8" filter="url(#bc2)"/>
<polygon points="486.3,92 497,87 501.6,86.8 510.7,79 524.4,89.8 539.6,100.5 542.7,106.5 533.5,115.7 521.4,121.8 513.8,120.3 513.8,124.8 497,130.9 495.5,135.5 490.9,123.3 486.3,108" fill="#676767"/>
<path d="M488,93 L503,88 L511,82 L520,90 L512,98 L496,100 Z" fill="#868686" opacity="0.9" filter="url(#bc2)"/>
<path d="M509,98 L516,120 L520,121 L513,97 Z" fill="#2e2e2e" opacity="0.7" filter="url(#bc2)"/>
<path d="M524,92 L541,103 L538,111 L524,104 Z" fill="#444" opacity="0.7" filter="url(#bc2)"/>
<path d="M488,112 L494,128 L497,131 L514,125 L514,121 L500,118 Z" fill="#3c3c3c" opacity="0.7" filter="url(#bc2)"/>
</g>
<polygon points="486.3,61.1 494,56.5 510,54 527.5,52.7 521.4,64.2 509.2,77.9 497,87 486.3,90.8 485.6,77.9" fill="#050505"/>
<path d="M467.3,38.6 C474,38.5 485,42 494,44.4 C505,47 520,47.2 531.5,48.6 L531,51.5 C520,53 505,54 494,56.5 L486.3,61.1 L480.3,56.5 C488,52 492,50 494,48.5 C486,46.5 476,43 467.3,40.5 Z" fill="#1c1c1c"/>
<polyline points="481.5,55 482.4,54.4 483.6,53.5 485.1,52.5 486.6,51.5 488,50.7 489.3,50.1 490.5,49.7 491.7,49.3 493.2,49 495,48.7 497.2,48.4 499.7,48.2 502.4,48.1 505.2,47.9 508,47.7 510.8,47.5 513.8,47.3 516.7,47.1 519.5,46.9 522,46.7 524.2,46.5 526.2,46.4 528,46.3 529.4,46.2 530.5,46.1" fill="none" stroke="#4a4a4a" stroke-width="0.6" />
<polyline points="482.6,56.5 483.3,55.9 484.3,55.1 485.5,54.2 486.7,53.3 488,52.6 489.2,52.1 490.4,51.6 491.7,51.2 493.2,50.9 495,50.6 497.2,50.3 499.7,50.1 502.4,49.9 505.2,49.7 508,49.5 510.8,49.2 513.8,48.9 516.7,48.7 519.5,48.4 522,48.2 524.2,48 526.2,47.8 528,47.6 529.4,47.4 530.5,47.3" fill="none" stroke="#4a4a4a" stroke-width="0.6" />
<polyline points="483.7,58 484.2,57.5 485,56.8 485.9,56 486.9,55.2 488,54.5 489.1,54 490.3,53.6 491.6,53.2 493.2,52.8 495,52.5 497.2,52.2 499.7,51.9 502.4,51.7 505.2,51.5 508,51.2 510.8,50.9 513.8,50.6 516.7,50.3 519.5,50 522,49.7 524.2,49.4 526.2,49.1 528,48.9 529.4,48.7 530.5,48.5" fill="none" stroke="#4a4a4a" stroke-width="0.6" />
<polyline points="484.8,59.5 485.2,59.1 485.7,58.4 486.3,57.7 487.1,57 488,56.4 489.1,55.9 490.2,55.5 491.6,55.1 493.2,54.7 495,54.4 497.2,54.1 499.7,53.8 502.4,53.5 505.2,53.3 508,53 510.8,52.6 513.8,52.3 516.7,51.9 519.5,51.5 522,51.2 524.2,50.9 526.2,50.5 528,50.2 529.4,49.9 530.5,49.7" fill="none" stroke="#4a4a4a" stroke-width="0.6" />
<polyline points="485.9,61 486.1,60.6 486.4,60.1 486.7,59.5 487.2,58.8 488,58.3 489,57.8 490.2,57.4 491.5,57 493.1,56.7 495,56.3 497.2,56 499.7,55.7 502.4,55.3 505.2,55 508,54.7 510.8,54.3 513.8,53.9 516.7,53.5 519.5,53.1 522,52.7 524.2,52.3 526.2,51.9 528,51.5 529.4,51.1 530.5,50.9" fill="none" stroke="#4a4a4a" stroke-width="0.6" />
<polyline points="467.3,39.3 468.5,39.5 470.1,39.9 472,40.3 474,40.7 476,41.2 477.9,41.7 480,42.3 482.1,42.9 484.1,43.5 486,44 487.6,44.5 489.1,44.9 490.5,45.3 492,45.6 494,46 496.4,46.4 499.2,46.7 502.2,47.1 505.2,47.4 508,47.6 510.7,47.8 513.4,47.9 516.1,48 518.6,48.1 521,48.2 523.4,48.4 525.7,48.7 527.9,49 529.7,49.3 531,49.5" fill="none" stroke="#0e0e0e" stroke-width="3.0" />
<polyline points="469,37.6 470.2,37.7 471.9,37.8 473.9,37.9 476,38.1 478,38.4 480,38.8 482,39.4 484,40 486,40.6 488,41.2 489.8,41.7 491.5,42.2 493.2,42.7 495,43.2 497,43.6 499.6,44 502.5,44.4 505.5,44.8 508.2,45.2 510,45.4" fill="none" stroke="#1a1a1a" stroke-width="1.8" />
</g>
<ellipse cx="480" cy="50" rx="1.8" ry="0.9" fill="#0c0c0c"/>
<ellipse cx="466.5" cy="80.5" rx="1.5" ry="2.2" fill="#0c0c0c"/>
<ellipse cx="479" cy="97" rx="1.9" ry="1.6" fill="#0c0c0c"/>
<ellipse cx="501.5" cy="118.8" rx="1.9" ry="1.1" fill="#0c0c0c"/>
<ellipse cx="518.5" cy="115.2" rx="1.8" ry="1" fill="#0c0c0c"/>
<ellipse cx="521" cy="81.5" rx="1.6" ry="1.5" fill="#0c0c0c"/>
<circle cx="521.3" cy="81" r="0.8" fill="#d0d0d0"/>
<line x1="404.5" y1="33" x2="434.5" y2="57" stroke="#1a1a1a" stroke-width="1.1" />
<line x1="439.5" y1="29" x2="441.5" y2="51.5" stroke="#1a1a1a" stroke-width="1.1" />
<line x1="496" y1="41.5" x2="545.7" y2="8.4" stroke="#1a1a1a" stroke-width="1.1" />
<line x1="499" y1="46.8" x2="564" y2="44.2" stroke="#1a1a1a" stroke-width="1.1" />
<line x1="420.5" y1="110.5" x2="467" y2="102" stroke="#1a1a1a" stroke-width="1.1" />
<line x1="441.8" y1="140.2" x2="469" y2="110" stroke="#1a1a1a" stroke-width="1.1" />
<line x1="489" y1="60" x2="538.9" y2="136.4" stroke="#1a1a1a" stroke-width="1.1" />
<line x1="500" y1="52" x2="567" y2="112.8" stroke="#1a1a1a" stroke-width="1.1" />
<circle cx="437.7" cy="54.6" r="4" fill="#8a8a8a" stroke="#1a1a1a" stroke-width="1.2"/>
<circle cx="497.5" cy="44" r="3" fill="none" stroke="#1a1a1a" stroke-width="1.1"/>
<circle cx="467" cy="106" r="4" fill="none" stroke="#1a1a1a" stroke-width="1.2"/>
<clipPath id="cc0"><circle cx="421.3" cy="23.8" r="18.3"/></clipPath>
<circle cx="421.3" cy="23.8" r="19" fill="#fff" stroke="#1a1a1a" stroke-width="1.3"/>
<g clip-path="url(#cc0)">
<polygon points="423.4,20 425.7,25.1 421.5,28.8 416.6,26 417.8,20.6" fill="#ecdede"/>
<line x1="423.4" y1="20" x2="425.7" y2="25.1" stroke="#9a9a9a" stroke-width="1.1" />
<line x1="423.4" y1="20" x2="426.2" y2="15.1" stroke="#9a9a9a" stroke-width="1.1" />
<line x1="426.2" y1="15.1" x2="432.3" y2="15.4" stroke="#9a9a9a" stroke-width="1.1" />
<line x1="432.3" y1="15.4" x2="435" y2="21.5" stroke="#9a9a9a" stroke-width="1.1" />
<line x1="435" y1="21.5" x2="431.1" y2="26.3" stroke="#9a9a9a" stroke-width="1.1" />
<line x1="432.3" y1="15.4" x2="440.2" y2="6.8" stroke="#9a9a9a" stroke-width="1.1" />
<line x1="435" y1="21.5" x2="446.7" y2="21.4" stroke="#9a9a9a" stroke-width="1.1" />
<line x1="425.7" y1="25.1" x2="421.5" y2="28.8" stroke="#9a9a9a" stroke-width="1.1" />
<line x1="425.7" y1="25.1" x2="431.1" y2="26.3" stroke="#9a9a9a" stroke-width="1.1" />
<line x1="431.1" y1="26.3" x2="432.8" y2="32.2" stroke="#9a9a9a" stroke-width="1.1" />
<line x1="432.8" y1="32.2" x2="427.8" y2="36.6" stroke="#9a9a9a" stroke-width="1.1" />
<line x1="427.8" y1="36.6" x2="422.1" y2="34.4" stroke="#9a9a9a" stroke-width="1.1" />
<line x1="432.8" y1="32.2" x2="443.4" y2="37" stroke="#9a9a9a" stroke-width="1.1" />
<line x1="427.8" y1="36.6" x2="431.5" y2="47.7" stroke="#9a9a9a" stroke-width="1.1" />
<line x1="421.5" y1="28.8" x2="416.6" y2="26" stroke="#9a9a9a" stroke-width="1.1" />
<line x1="421.5" y1="28.8" x2="422.1" y2="34.4" stroke="#9a9a9a" stroke-width="1.1" />
<line x1="422.1" y1="34.4" x2="416.9" y2="37.8" stroke="#9a9a9a" stroke-width="1.1" />
<line x1="416.9" y1="37.8" x2="411.2" y2="34.4" stroke="#9a9a9a" stroke-width="1.1" />
<line x1="411.2" y1="34.4" x2="411.5" y2="28.3" stroke="#9a9a9a" stroke-width="1.1" />
<line x1="416.9" y1="37.8" x2="415.6" y2="49.4" stroke="#9a9a9a" stroke-width="1.1" />
<line x1="411.2" y1="34.4" x2="401.8" y2="41.4" stroke="#9a9a9a" stroke-width="1.1" />
<line x1="416.6" y1="26" x2="417.8" y2="20.6" stroke="#9a9a9a" stroke-width="1.1" />
<line x1="416.6" y1="26" x2="411.5" y2="28.3" stroke="#9a9a9a" stroke-width="1.1" />
<line x1="411.5" y1="28.3" x2="406.7" y2="24.5" stroke="#9a9a9a" stroke-width="1.1" />
<line x1="406.7" y1="24.5" x2="408.1" y2="18" stroke="#9a9a9a" stroke-width="1.1" />
<line x1="408.1" y1="18" x2="414.1" y2="16.4" stroke="#9a9a9a" stroke-width="1.1" />
<line x1="406.7" y1="24.5" x2="395.3" y2="26.8" stroke="#9a9a9a" stroke-width="1.1" />
<line x1="408.1" y1="18" x2="398.6" y2="11.2" stroke="#9a9a9a" stroke-width="1.1" />
<line x1="417.8" y1="20.6" x2="423.4" y2="20" stroke="#9a9a9a" stroke-width="1.1" />
<line x1="417.8" y1="20.6" x2="414.1" y2="16.4" stroke="#9a9a9a" stroke-width="1.1" />
<line x1="414.1" y1="16.4" x2="416.2" y2="10.7" stroke="#9a9a9a" stroke-width="1.1" />
<line x1="416.2" y1="10.7" x2="422.9" y2="10" stroke="#9a9a9a" stroke-width="1.1" />
<line x1="422.9" y1="10" x2="426.2" y2="15.1" stroke="#9a9a9a" stroke-width="1.1" />
<line x1="416.2" y1="10.7" x2="410.5" y2="0.5" stroke="#9a9a9a" stroke-width="1.1" />
<line x1="422.9" y1="10" x2="426.4" y2="-1.2" stroke="#9a9a9a" stroke-width="1.1" />
<circle cx="423.4" cy="20" r="1.5" fill="#707070"/>
<circle cx="425.7" cy="25.1" r="1.5" fill="#707070"/>
<circle cx="421.5" cy="28.8" r="1.5" fill="#707070"/>
<circle cx="416.6" cy="26" r="1.5" fill="#707070"/>
<circle cx="417.8" cy="20.6" r="1.5" fill="#707070"/>
<circle cx="426.2" cy="15.1" r="1.5" fill="#707070"/>
<circle cx="431.1" cy="26.3" r="1.5" fill="#707070"/>
<circle cx="422.1" cy="34.4" r="1.5" fill="#707070"/>
<circle cx="411.5" cy="28.3" r="1.5" fill="#707070"/>
<circle cx="414.1" cy="16.4" r="1.5" fill="#707070"/>
<circle cx="432.3" cy="15.4" r="1.5" fill="#707070"/>
<circle cx="432.8" cy="32.2" r="1.5" fill="#707070"/>
<circle cx="416.9" cy="37.8" r="1.5" fill="#707070"/>
<circle cx="406.7" cy="24.5" r="1.5" fill="#707070"/>
<circle cx="416.2" cy="10.7" r="1.5" fill="#707070"/>
<circle cx="435" cy="21.5" r="1.5" fill="#707070"/>
<circle cx="427.8" cy="36.6" r="1.5" fill="#707070"/>
<circle cx="411.2" cy="34.4" r="1.5" fill="#707070"/>
<circle cx="408.1" cy="18" r="1.5" fill="#707070"/>
<circle cx="422.9" cy="10" r="1.5" fill="#707070"/>
</g>
<clipPath id="cc1"><circle cx="559.7" cy="23.4" r="19.5"/></clipPath>
<circle cx="559.7" cy="23.4" r="20.2" fill="#fff" stroke="#1a1a1a" stroke-width="1.3"/>
<g clip-path="url(#cc1)">
<line x1="567.6" y1="32" x2="571.6" y2="30" stroke="#8c8c8c" stroke-width="1.5" />
<line x1="572.5" y1="12" x2="568.7" y2="9.6" stroke="#8c8c8c" stroke-width="1.5" />
<line x1="560.5" y1="18.2" x2="564.5" y2="16.1" stroke="#8c8c8c" stroke-width="1.5" />
<line x1="561.2" y1="4.7" x2="565.2" y2="2.6" stroke="#8c8c8c" stroke-width="1.5" />
<line x1="564.7" y1="11.6" x2="568.7" y2="9.6" stroke="#8c8c8c" stroke-width="1.5" />
<line x1="580.3" y1="12.4" x2="580.1" y2="16.9" stroke="#8c8c8c" stroke-width="1.5" />
<line x1="571.1" y1="39" x2="570.9" y2="43.5" stroke="#8c8c8c" stroke-width="1.5" />
<line x1="575.3" y1="32.4" x2="579.3" y2="30.4" stroke="#8c8c8c" stroke-width="1.5" />
<line x1="553.4" y1="4.3" x2="553.2" y2="8.8" stroke="#8c8c8c" stroke-width="1.5" />
<line x1="576.7" y1="5.5" x2="573" y2="3" stroke="#8c8c8c" stroke-width="1.5" />
<line x1="561.2" y1="4.7" x2="557.4" y2="2.2" stroke="#8c8c8c" stroke-width="1.5" />
<line x1="560.5" y1="18.2" x2="560.2" y2="22.6" stroke="#8c8c8c" stroke-width="1.5" />
<line x1="567.6" y1="32" x2="567.3" y2="36.5" stroke="#8c8c8c" stroke-width="1.5" />
<line x1="569" y1="5.1" x2="565.2" y2="2.6" stroke="#8c8c8c" stroke-width="1.5" />
<line x1="553.4" y1="4.3" x2="549.6" y2="1.8" stroke="#8c8c8c" stroke-width="1.5" />
<line x1="576.7" y1="5.5" x2="576.5" y2="10" stroke="#8c8c8c" stroke-width="1.5" />
<line x1="572.5" y1="12" x2="576.5" y2="10" stroke="#8c8c8c" stroke-width="1.5" />
<line x1="575.3" y1="32.4" x2="571.6" y2="30" stroke="#8c8c8c" stroke-width="1.5" />
<line x1="556.9" y1="11.2" x2="556.7" y2="15.7" stroke="#8c8c8c" stroke-width="1.5" />
<line x1="564" y1="25.1" x2="568" y2="23.1" stroke="#8c8c8c" stroke-width="1.5" />
<line x1="568.3" y1="18.6" x2="568" y2="23.1" stroke="#8c8c8c" stroke-width="1.5" />
<line x1="564.7" y1="11.6" x2="560.9" y2="9.2" stroke="#8c8c8c" stroke-width="1.5" />
<line x1="567.6" y1="32" x2="563.8" y2="29.6" stroke="#8c8c8c" stroke-width="1.5" />
<line x1="569" y1="5.1" x2="568.7" y2="9.6" stroke="#8c8c8c" stroke-width="1.5" />
<line x1="560.5" y1="18.2" x2="556.7" y2="15.7" stroke="#8c8c8c" stroke-width="1.5" />
<line x1="571.8" y1="25.5" x2="575.8" y2="23.5" stroke="#8c8c8c" stroke-width="1.5" />
<line x1="579.6" y1="25.9" x2="575.8" y2="23.5" stroke="#8c8c8c" stroke-width="1.5" />
<line x1="564.7" y1="11.6" x2="564.5" y2="16.1" stroke="#8c8c8c" stroke-width="1.5" />
<line x1="564" y1="25.1" x2="560.2" y2="22.6" stroke="#8c8c8c" stroke-width="1.5" />
<line x1="561.2" y1="4.7" x2="560.9" y2="9.2" stroke="#8c8c8c" stroke-width="1.5" />
<line x1="576" y1="19" x2="580.1" y2="16.9" stroke="#8c8c8c" stroke-width="1.5" />
<line x1="553.4" y1="4.3" x2="557.4" y2="2.2" stroke="#8c8c8c" stroke-width="1.5" />
<line x1="583.8" y1="19.4" x2="583.6" y2="23.9" stroke="#8c8c8c" stroke-width="1.5" />
<line x1="579.6" y1="25.9" x2="579.3" y2="30.4" stroke="#8c8c8c" stroke-width="1.5" />
<line x1="575.3" y1="32.4" x2="575.1" y2="36.9" stroke="#8c8c8c" stroke-width="1.5" />
<line x1="571.8" y1="25.5" x2="568" y2="23.1" stroke="#8c8c8c" stroke-width="1.5" />
<line x1="564" y1="25.1" x2="563.8" y2="29.6" stroke="#8c8c8c" stroke-width="1.5" />
<line x1="571.1" y1="39" x2="575.1" y2="36.9" stroke="#8c8c8c" stroke-width="1.5" />
<line x1="571.8" y1="25.5" x2="571.6" y2="30" stroke="#8c8c8c" stroke-width="1.5" />
<line x1="568.3" y1="18.6" x2="572.3" y2="16.5" stroke="#8c8c8c" stroke-width="1.5" />
<line x1="576" y1="19" x2="575.8" y2="23.5" stroke="#8c8c8c" stroke-width="1.5" />
<line x1="576" y1="19" x2="572.3" y2="16.5" stroke="#8c8c8c" stroke-width="1.5" />
<line x1="583.8" y1="19.4" x2="580.1" y2="16.9" stroke="#8c8c8c" stroke-width="1.5" />
<line x1="569" y1="5.1" x2="573" y2="3" stroke="#8c8c8c" stroke-width="1.5" />
<line x1="579.6" y1="25.9" x2="583.6" y2="23.9" stroke="#8c8c8c" stroke-width="1.5" />
<line x1="572.5" y1="12" x2="572.3" y2="16.5" stroke="#8c8c8c" stroke-width="1.5" />
<line x1="580.3" y1="12.4" x2="576.5" y2="10" stroke="#8c8c8c" stroke-width="1.5" />
<line x1="556.9" y1="11.2" x2="560.9" y2="9.2" stroke="#8c8c8c" stroke-width="1.5" />
<line x1="571.1" y1="39" x2="567.3" y2="36.5" stroke="#8c8c8c" stroke-width="1.5" />
<line x1="568.3" y1="18.6" x2="564.5" y2="16.1" stroke="#8c8c8c" stroke-width="1.5" />
<line x1="578.9" y1="39.4" x2="575.1" y2="36.9" stroke="#8c8c8c" stroke-width="1.5" />
<line x1="556.9" y1="11.2" x2="553.2" y2="8.8" stroke="#8c8c8c" stroke-width="1.5" />
<circle cx="549.6" cy="1.8" r="1.75" fill="#666"/>
<circle cx="545.6" cy="3.9" r="1.7" fill="#fbfbfb" stroke="#c4c4c4" stroke-width="0.8"/>
<circle cx="557.4" cy="2.2" r="1.75" fill="#666"/>
<circle cx="565.2" cy="2.6" r="1.75" fill="#666"/>
<circle cx="573" cy="3" r="1.75" fill="#666"/>
<circle cx="553.4" cy="4.3" r="1.75" fill="#666"/>
<circle cx="553.2" cy="8.8" r="1.75" fill="#666"/>
<circle cx="549.2" cy="10.8" r="1.7" fill="#fbfbfb" stroke="#c4c4c4" stroke-width="0.8"/>
<circle cx="561.2" cy="4.7" r="1.75" fill="#666"/>
<circle cx="560.9" cy="9.2" r="1.75" fill="#666"/>
<circle cx="569" cy="5.1" r="1.75" fill="#666"/>
<circle cx="568.7" cy="9.6" r="1.75" fill="#666"/>
<circle cx="576.7" cy="5.5" r="1.75" fill="#666"/>
<circle cx="576.5" cy="10" r="1.75" fill="#666"/>
<circle cx="556.9" cy="11.2" r="1.75" fill="#666"/>
<circle cx="556.7" cy="15.7" r="1.75" fill="#666"/>
<circle cx="552.7" cy="17.7" r="1.7" fill="#fbfbfb" stroke="#c4c4c4" stroke-width="0.8"/>
<circle cx="564.7" cy="11.6" r="1.75" fill="#666"/>
<circle cx="564.5" cy="16.1" r="1.75" fill="#666"/>
<circle cx="572.5" cy="12" r="1.75" fill="#666"/>
<circle cx="572.3" cy="16.5" r="1.75" fill="#666"/>
<circle cx="580.3" cy="12.4" r="1.75" fill="#666"/>
<circle cx="580.1" cy="16.9" r="1.75" fill="#666"/>
<circle cx="560.5" cy="18.2" r="1.75" fill="#666"/>
<circle cx="560.2" cy="22.6" r="1.75" fill="#666"/>
<circle cx="556.2" cy="24.7" r="1.7" fill="#fbfbfb" stroke="#c4c4c4" stroke-width="0.8"/>
<circle cx="568.3" cy="18.6" r="1.75" fill="#666"/>
<circle cx="568" cy="23.1" r="1.75" fill="#666"/>
<circle cx="576" cy="19" r="1.75" fill="#666"/>
<circle cx="575.8" cy="23.5" r="1.75" fill="#666"/>
<circle cx="583.8" cy="19.4" r="1.75" fill="#666"/>
<circle cx="583.6" cy="23.9" r="1.75" fill="#666"/>
<circle cx="564" cy="25.1" r="1.75" fill="#666"/>
<circle cx="563.8" cy="29.6" r="1.75" fill="#666"/>
<circle cx="559.8" cy="31.6" r="1.7" fill="#fbfbfb" stroke="#c4c4c4" stroke-width="0.8"/>
<circle cx="571.8" cy="25.5" r="1.75" fill="#666"/>
<circle cx="571.6" cy="30" r="1.75" fill="#666"/>
<circle cx="579.6" cy="25.9" r="1.75" fill="#666"/>
<circle cx="579.3" cy="30.4" r="1.75" fill="#666"/>
<circle cx="567.6" cy="32" r="1.75" fill="#666"/>
<circle cx="567.3" cy="36.5" r="1.75" fill="#666"/>
<circle cx="563.3" cy="38.6" r="1.7" fill="#fbfbfb" stroke="#c4c4c4" stroke-width="0.8"/>
<circle cx="575.3" cy="32.4" r="1.75" fill="#666"/>
<circle cx="575.1" cy="36.9" r="1.75" fill="#666"/>
<circle cx="571.1" cy="39" r="1.75" fill="#666"/>
<circle cx="570.9" cy="43.5" r="1.75" fill="#666"/>
<circle cx="566.8" cy="45.5" r="1.7" fill="#fbfbfb" stroke="#c4c4c4" stroke-width="0.8"/>
<circle cx="578.9" cy="39.4" r="1.75" fill="#666"/>
</g>
<clipPath id="cc2"><circle cx="421.9" cy="130.6" r="19.3"/></clipPath>
<circle cx="421.9" cy="130.6" r="20" fill="#fff" stroke="#1a1a1a" stroke-width="1.3"/>
<g clip-path="url(#cc2)">
<line x1="404.1" y1="128.3" x2="404.1" y2="133.5" stroke="#9a9a9a" stroke-width="1.0" />
<line x1="408.6" y1="136.1" x2="408.6" y2="141.3" stroke="#9a9a9a" stroke-width="1.0" />
<line x1="426.6" y1="136.1" x2="431.1" y2="133.5" stroke="#9a9a9a" stroke-width="1.0" />
<line x1="426.6" y1="151.7" x2="431.1" y2="149.1" stroke="#9a9a9a" stroke-width="1.0" />
<line x1="422.1" y1="112.7" x2="422.1" y2="117.9" stroke="#9a9a9a" stroke-width="1.0" />
<line x1="426.6" y1="151.7" x2="422.1" y2="149.1" stroke="#9a9a9a" stroke-width="1.0" />
<line x1="440.1" y1="143.9" x2="435.6" y2="141.3" stroke="#9a9a9a" stroke-width="1.0" />
<line x1="435.6" y1="136.1" x2="435.6" y2="141.3" stroke="#9a9a9a" stroke-width="1.0" />
<line x1="404.1" y1="128.3" x2="399.6" y2="125.7" stroke="#9a9a9a" stroke-width="1.0" />
<line x1="413.1" y1="143.9" x2="417.6" y2="141.3" stroke="#9a9a9a" stroke-width="1.0" />
<line x1="426.6" y1="136.1" x2="426.6" y2="141.3" stroke="#9a9a9a" stroke-width="1.0" />
<line x1="413.1" y1="128.3" x2="413.1" y2="133.5" stroke="#9a9a9a" stroke-width="1.0" />
<line x1="435.6" y1="120.5" x2="440.1" y2="117.9" stroke="#9a9a9a" stroke-width="1.0" />
<line x1="408.6" y1="120.5" x2="408.6" y2="125.7" stroke="#9a9a9a" stroke-width="1.0" />
<line x1="431.1" y1="143.9" x2="435.6" y2="141.3" stroke="#9a9a9a" stroke-width="1.0" />
<line x1="444.6" y1="136.1" x2="440.1" y2="133.5" stroke="#9a9a9a" stroke-width="1.0" />
<line x1="426.6" y1="120.5" x2="431.1" y2="117.9" stroke="#9a9a9a" stroke-width="1.0" />
<line x1="417.6" y1="151.7" x2="422.1" y2="149.1" stroke="#9a9a9a" stroke-width="1.0" />
<line x1="417.6" y1="120.5" x2="413.1" y2="117.9" stroke="#9a9a9a" stroke-width="1.0" />
<line x1="435.6" y1="120.5" x2="431.1" y2="117.9" stroke="#9a9a9a" stroke-width="1.0" />
<line x1="417.6" y1="120.5" x2="422.1" y2="117.9" stroke="#9a9a9a" stroke-width="1.0" />
<line x1="435.6" y1="120.5" x2="435.6" y2="125.7" stroke="#9a9a9a" stroke-width="1.0" />
<line x1="426.6" y1="120.5" x2="422.1" y2="117.9" stroke="#9a9a9a" stroke-width="1.0" />
<line x1="422.1" y1="112.7" x2="417.6" y2="110.1" stroke="#9a9a9a" stroke-width="1.0" />
<line x1="413.1" y1="128.3" x2="408.6" y2="125.7" stroke="#9a9a9a" stroke-width="1.0" />
<line x1="422.1" y1="112.7" x2="426.6" y2="110.1" stroke="#9a9a9a" stroke-width="1.0" />
<line x1="422.1" y1="143.9" x2="422.1" y2="149.1" stroke="#9a9a9a" stroke-width="1.0" />
<line x1="408.6" y1="120.5" x2="404.1" y2="117.9" stroke="#9a9a9a" stroke-width="1.0" />
<line x1="408.6" y1="120.5" x2="413.1" y2="117.9" stroke="#9a9a9a" stroke-width="1.0" />
<line x1="431.1" y1="112.7" x2="426.6" y2="110.1" stroke="#9a9a9a" stroke-width="1.0" />
<line x1="404.1" y1="128.3" x2="408.6" y2="125.7" stroke="#9a9a9a" stroke-width="1.0" />
<line x1="435.6" y1="136.1" x2="440.1" y2="133.5" stroke="#9a9a9a" stroke-width="1.0" />
<line x1="431.1" y1="112.7" x2="431.1" y2="117.9" stroke="#9a9a9a" stroke-width="1.0" />
<line x1="422.1" y1="143.9" x2="417.6" y2="141.3" stroke="#9a9a9a" stroke-width="1.0" />
<line x1="431.1" y1="128.3" x2="431.1" y2="133.5" stroke="#9a9a9a" stroke-width="1.0" />
<line x1="431.1" y1="143.9" x2="426.6" y2="141.3" stroke="#9a9a9a" stroke-width="1.0" />
<line x1="431.1" y1="143.9" x2="431.1" y2="149.1" stroke="#9a9a9a" stroke-width="1.0" />
<line x1="440.1" y1="128.3" x2="440.1" y2="133.5" stroke="#9a9a9a" stroke-width="1.0" />
<line x1="413.1" y1="143.9" x2="408.6" y2="141.3" stroke="#9a9a9a" stroke-width="1.0" />
<line x1="435.6" y1="136.1" x2="431.1" y2="133.5" stroke="#9a9a9a" stroke-width="1.0" />
<line x1="413.1" y1="112.7" x2="417.6" y2="110.1" stroke="#9a9a9a" stroke-width="1.0" />
<line x1="440.1" y1="128.3" x2="435.6" y2="125.7" stroke="#9a9a9a" stroke-width="1.0" />
<line x1="399.6" y1="136.1" x2="404.1" y2="133.5" stroke="#9a9a9a" stroke-width="1.0" />
<line x1="422.1" y1="143.9" x2="426.6" y2="141.3" stroke="#9a9a9a" stroke-width="1.0" />
<line x1="417.6" y1="151.7" x2="413.1" y2="149.1" stroke="#9a9a9a" stroke-width="1.0" />
<line x1="413.1" y1="143.9" x2="413.1" y2="149.1" stroke="#9a9a9a" stroke-width="1.0" />
<line x1="440.1" y1="128.3" x2="444.6" y2="125.7" stroke="#9a9a9a" stroke-width="1.0" />
<line x1="404.1" y1="143.9" x2="408.6" y2="141.3" stroke="#9a9a9a" stroke-width="1.0" />
<line x1="413.1" y1="112.7" x2="413.1" y2="117.9" stroke="#9a9a9a" stroke-width="1.0" />
<line x1="408.6" y1="136.1" x2="413.1" y2="133.5" stroke="#9a9a9a" stroke-width="1.0" />
<line x1="408.6" y1="136.1" x2="404.1" y2="133.5" stroke="#9a9a9a" stroke-width="1.0" />
<line x1="431.1" y1="128.3" x2="435.6" y2="125.7" stroke="#9a9a9a" stroke-width="1.0" />
<circle cx="399.6" cy="125.7" r="1.5" fill="#707070"/>
<circle cx="399.6" cy="136.1" r="1.5" fill="#707070"/>
<circle cx="404.1" cy="133.5" r="1.5" fill="#707070"/>
<circle cx="404.1" cy="143.9" r="1.5" fill="#707070"/>
<circle cx="408.6" cy="141.3" r="1.5" fill="#707070"/>
<circle cx="413.1" cy="149.1" r="1.5" fill="#707070"/>
<circle cx="404.1" cy="117.9" r="1.5" fill="#707070"/>
<circle cx="404.1" cy="128.3" r="1.5" fill="#707070"/>
<circle cx="408.6" cy="125.7" r="1.5" fill="#707070"/>
<circle cx="408.6" cy="136.1" r="1.5" fill="#707070"/>
<circle cx="413.1" cy="133.5" r="1.5" fill="#707070"/>
<circle cx="413.1" cy="143.9" r="1.5" fill="#707070"/>
<circle cx="417.6" cy="141.3" r="1.5" fill="#707070"/>
<circle cx="417.6" cy="151.7" r="1.5" fill="#707070"/>
<circle cx="422.1" cy="149.1" r="1.5" fill="#707070"/>
<circle cx="408.6" cy="120.5" r="1.5" fill="#707070"/>
<circle cx="413.1" cy="117.9" r="1.5" fill="#707070"/>
<circle cx="413.1" cy="128.3" r="1.5" fill="#707070"/>
<circle cx="422.1" cy="143.9" r="1.5" fill="#707070"/>
<circle cx="426.6" cy="141.3" r="1.5" fill="#707070"/>
<circle cx="426.6" cy="151.7" r="1.5" fill="#707070"/>
<circle cx="431.1" cy="149.1" r="1.5" fill="#707070"/>
<circle cx="413.1" cy="112.7" r="1.5" fill="#707070"/>
<circle cx="417.6" cy="110.1" r="1.5" fill="#707070"/>
<circle cx="417.6" cy="120.5" r="1.5" fill="#707070"/>
<circle cx="422.1" cy="117.9" r="1.5" fill="#707070"/>
<circle cx="426.6" cy="136.1" r="1.5" fill="#707070"/>
<circle cx="431.1" cy="133.5" r="1.5" fill="#707070"/>
<circle cx="431.1" cy="143.9" r="1.5" fill="#707070"/>
<circle cx="435.6" cy="141.3" r="1.5" fill="#707070"/>
<circle cx="422.1" cy="112.7" r="1.5" fill="#707070"/>
<circle cx="426.6" cy="110.1" r="1.5" fill="#707070"/>
<circle cx="426.6" cy="120.5" r="1.5" fill="#707070"/>
<circle cx="431.1" cy="117.9" r="1.5" fill="#707070"/>
<circle cx="431.1" cy="128.3" r="1.5" fill="#707070"/>
<circle cx="435.6" cy="125.7" r="1.5" fill="#707070"/>
<circle cx="435.6" cy="136.1" r="1.5" fill="#707070"/>
<circle cx="440.1" cy="133.5" r="1.5" fill="#707070"/>
<circle cx="440.1" cy="143.9" r="1.5" fill="#707070"/>
<circle cx="431.1" cy="112.7" r="1.5" fill="#707070"/>
<circle cx="435.6" cy="120.5" r="1.5" fill="#707070"/>
<circle cx="440.1" cy="117.9" r="1.5" fill="#707070"/>
<circle cx="440.1" cy="128.3" r="1.5" fill="#707070"/>
<circle cx="444.6" cy="125.7" r="1.5" fill="#707070"/>
<circle cx="444.6" cy="136.1" r="1.5" fill="#707070"/>
<circle cx="416.4" cy="129.6" r="0.8" fill="#b5b5b5"/>
<circle cx="420.9" cy="125.6" r="0.8" fill="#b5b5b5"/>
<circle cx="426.9" cy="128.6" r="0.8" fill="#b5b5b5"/>
<circle cx="427.4" cy="134.1" r="0.8" fill="#b5b5b5"/>
<circle cx="421.4" cy="136.1" r="0.8" fill="#b5b5b5"/>
<circle cx="416.4" cy="134.6" r="0.8" fill="#b5b5b5"/>
</g>
<clipPath id="cc3"><circle cx="559.7" cy="131.7" r="19.5"/></clipPath>
<circle cx="559.7" cy="131.7" r="20.2" fill="#fff" stroke="#1a1a1a" stroke-width="1.3"/>
<g clip-path="url(#cc3)">
<line x1="571.5" y1="112" x2="566.8" y2="108.9" stroke="#8c8c8c" stroke-width="1.5" />
<line x1="560.6" y1="128.1" x2="556" y2="125" stroke="#8c8c8c" stroke-width="1.5" />
<line x1="575.7" y1="120.8" x2="580.8" y2="118.3" stroke="#8c8c8c" stroke-width="1.5" />
<line x1="575.7" y1="120.8" x2="575.4" y2="126.4" stroke="#8c8c8c" stroke-width="1.5" />
<line x1="569.1" y1="145.6" x2="568.8" y2="151.2" stroke="#8c8c8c" stroke-width="1.5" />
<line x1="564.9" y1="136.8" x2="564.5" y2="142.4" stroke="#8c8c8c" stroke-width="1.5" />
<line x1="575.7" y1="120.8" x2="571.1" y2="117.6" stroke="#8c8c8c" stroke-width="1.5" />
<line x1="574.6" y1="137.5" x2="569.9" y2="134.4" stroke="#8c8c8c" stroke-width="1.5" />
<line x1="569.1" y1="145.6" x2="564.5" y2="142.4" stroke="#8c8c8c" stroke-width="1.5" />
<line x1="552.1" y1="110.7" x2="557.2" y2="108.2" stroke="#8c8c8c" stroke-width="1.5" />
<line x1="561.8" y1="111.4" x2="561.4" y2="117" stroke="#8c8c8c" stroke-width="1.5" />
<line x1="578.8" y1="146.2" x2="574.2" y2="143.1" stroke="#8c8c8c" stroke-width="1.5" />
<line x1="556.4" y1="119.4" x2="561.4" y2="117" stroke="#8c8c8c" stroke-width="1.5" />
<line x1="560.6" y1="128.1" x2="565.7" y2="125.7" stroke="#8c8c8c" stroke-width="1.5" />
<line x1="566.1" y1="120.1" x2="571.1" y2="117.6" stroke="#8c8c8c" stroke-width="1.5" />
<line x1="570.3" y1="128.8" x2="565.7" y2="125.7" stroke="#8c8c8c" stroke-width="1.5" />
<line x1="552.1" y1="110.7" x2="551.7" y2="116.3" stroke="#8c8c8c" stroke-width="1.5" />
<line x1="564.9" y1="136.8" x2="569.9" y2="134.4" stroke="#8c8c8c" stroke-width="1.5" />
<line x1="574.6" y1="137.5" x2="574.2" y2="143.1" stroke="#8c8c8c" stroke-width="1.5" />
<line x1="574.6" y1="137.5" x2="579.6" y2="135.1" stroke="#8c8c8c" stroke-width="1.5" />
<line x1="580" y1="129.5" x2="575.4" y2="126.4" stroke="#8c8c8c" stroke-width="1.5" />
<line x1="580" y1="129.5" x2="579.6" y2="135.1" stroke="#8c8c8c" stroke-width="1.5" />
<line x1="570.3" y1="128.8" x2="575.4" y2="126.4" stroke="#8c8c8c" stroke-width="1.5" />
<line x1="569.1" y1="145.6" x2="574.2" y2="143.1" stroke="#8c8c8c" stroke-width="1.5" />
<line x1="566.1" y1="120.1" x2="561.4" y2="117" stroke="#8c8c8c" stroke-width="1.5" />
<line x1="571.5" y1="112" x2="571.1" y2="117.6" stroke="#8c8c8c" stroke-width="1.5" />
<line x1="564.9" y1="136.8" x2="560.3" y2="133.7" stroke="#8c8c8c" stroke-width="1.5" />
<line x1="561.8" y1="111.4" x2="566.8" y2="108.9" stroke="#8c8c8c" stroke-width="1.5" />
<line x1="560.6" y1="128.1" x2="560.3" y2="133.7" stroke="#8c8c8c" stroke-width="1.5" />
<line x1="561.8" y1="111.4" x2="557.2" y2="108.2" stroke="#8c8c8c" stroke-width="1.5" />
<line x1="556.4" y1="119.4" x2="556" y2="125" stroke="#8c8c8c" stroke-width="1.5" />
<line x1="566.1" y1="120.1" x2="565.7" y2="125.7" stroke="#8c8c8c" stroke-width="1.5" />
<line x1="556.4" y1="119.4" x2="551.7" y2="116.3" stroke="#8c8c8c" stroke-width="1.5" />
<line x1="570.3" y1="128.8" x2="569.9" y2="134.4" stroke="#8c8c8c" stroke-width="1.5" />
<circle cx="557.2" cy="108.2" r="1.75" fill="#666"/>
<circle cx="566.8" cy="108.9" r="1.75" fill="#666"/>
<circle cx="552.1" cy="110.7" r="1.75" fill="#666"/>
<circle cx="551.7" cy="116.3" r="1.75" fill="#666"/>
<circle cx="546.7" cy="118.7" r="1.7" fill="#fbfbfb" stroke="#c4c4c4" stroke-width="0.8"/>
<circle cx="561.8" cy="111.4" r="1.75" fill="#666"/>
<circle cx="561.4" cy="117" r="1.75" fill="#666"/>
<circle cx="571.5" cy="112" r="1.75" fill="#666"/>
<circle cx="571.1" cy="117.6" r="1.75" fill="#666"/>
<circle cx="580.8" cy="118.3" r="1.75" fill="#666"/>
<circle cx="556.4" cy="119.4" r="1.75" fill="#666"/>
<circle cx="556" cy="125" r="1.75" fill="#666"/>
<circle cx="551" cy="127.5" r="1.7" fill="#fbfbfb" stroke="#c4c4c4" stroke-width="0.8"/>
<circle cx="566.1" cy="120.1" r="1.75" fill="#666"/>
<circle cx="565.7" cy="125.7" r="1.75" fill="#666"/>
<circle cx="575.7" cy="120.8" r="1.75" fill="#666"/>
<circle cx="575.4" cy="126.4" r="1.75" fill="#666"/>
<circle cx="560.6" cy="128.1" r="1.75" fill="#666"/>
<circle cx="560.3" cy="133.7" r="1.75" fill="#666"/>
<circle cx="555.2" cy="136.2" r="1.7" fill="#fbfbfb" stroke="#c4c4c4" stroke-width="0.8"/>
<circle cx="570.3" cy="128.8" r="1.75" fill="#666"/>
<circle cx="569.9" cy="134.4" r="1.75" fill="#666"/>
<circle cx="580" cy="129.5" r="1.75" fill="#666"/>
<circle cx="579.6" cy="135.1" r="1.75" fill="#666"/>
<circle cx="564.9" cy="136.8" r="1.75" fill="#666"/>
<circle cx="564.5" cy="142.4" r="1.75" fill="#666"/>
<circle cx="559.5" cy="144.9" r="1.7" fill="#fbfbfb" stroke="#c4c4c4" stroke-width="0.8"/>
<circle cx="574.6" cy="137.5" r="1.75" fill="#666"/>
<circle cx="574.2" cy="143.1" r="1.75" fill="#666"/>
<circle cx="569.1" cy="145.6" r="1.75" fill="#666"/>
<circle cx="568.8" cy="151.2" r="1.75" fill="#666"/>
<circle cx="563.7" cy="153.6" r="1.7" fill="#fbfbfb" stroke="#c4c4c4" stroke-width="0.8"/>
<circle cx="578.8" cy="146.2" r="1.75" fill="#666"/>
</g>
<text x="432.6" y="48.8" font-size="10" font-weight="bold" text-anchor="start" fill="#111" >I</text>
<text x="532.6" y="32.8" font-size="10" font-weight="bold" text-anchor="start" fill="#111" >II</text>
<text x="441.6" y="120.6" font-size="10" font-weight="bold" text-anchor="start" fill="#111" >III</text>
<text x="547.8" y="108.8" font-size="10" font-weight="bold" text-anchor="start" fill="#111" >II</text></g>
<g id="d"><polyline points="623,123.3 624.9,123.3 627.6,123.3 630.5,123.3 633,123.3 635,123.3 636.8,123.3 638.5,123.3 640,123.2 641.4,123.1 642.8,123 643.9,122.8 645,122.6 645.9,122.3 646.7,122 647.4,121.7 648,121.2 648.6,120.7 649.2,120.1 649.7,119.4 650.2,118.6 650.7,117.7 651.1,116.7 651.5,115.5 652,114 652.5,112.1 653,110 653.5,107.6 654,105 654.5,102.2 655,99.2 655.5,96.1 656,93 656.5,89.9 657,86.8 657.5,83.7 658,80.5 658.5,77.2 659,73.8 659.5,70.4 660,67 660.5,63.7 661,60.4 661.5,57.2 662,54 662.5,50.7 663,47.5 663.5,44.3 664,41.5 664.4,39 664.9,36.7 665.2,34.7 665.6,33 665.9,31.6 666.2,30.5 666.5,29.7 666.7,29 666.9,28.5 667.2,28.2 667.4,28.1 667.6,28.2 667.8,28.4 668,28.7 668.3,29.3 668.5,30 668.7,30.8 668.9,31.7 669.2,33 669.5,35 670,38.1 670.5,42.1 671.1,46.3 671.7,50.3 672.3,54 672.8,57.7 673.4,61.1 674,64 674.7,66.3 675.5,68.2 676.2,69.7 677,70.9 677.7,71.8 678.5,72.3 679.2,72.7 680,73 680.8,73.3 681.5,73.5 682.4,73.7 683.2,73.9 684.1,74.1 685.2,74.3 686.1,74.5 687,74.6 687.7,74.5 688.2,74.3 688.7,74.2 689.3,74.1 689.9,74.2 690.6,74.4 691.3,74.6 692,74.8 692.8,75 693.6,75.2 694.5,75.4 695.4,75.5 696.3,75.5 697.3,75.4 698.2,75.2 699,74.9 699.7,74.7 700.2,74.4 700.8,74 701.5,73.2 702.4,72.1 703.3,70.8 704.3,69.2 705.3,67 706.3,64 707.2,60.3 708.2,56.6 709,53.4 709.7,51.1 710.2,49.3 710.8,47.6 711.3,45.7 711.9,43.3 712.5,40.7 713.2,38.2 713.7,36 714.1,34.3 714.4,33 714.7,31.8 715.2,30.5 715.8,29 716.6,27.3 717.4,25.7 718.2,24.4 719.1,23.3 720.1,22.4 721,21.6 722,21 722.9,20.5 723.8,20.1 724.7,19.9 725.8,19.8 727,20 728.4,20.4 729.8,20.9 731.2,21.3 732.6,21.7 734.1,22.2 735.7,22.6 737.3,22.9 739.1,23.1 740.9,23.1 742.9,23.1 744.9,22.9 747.1,22.5 749.4,21.9 751.7,21.2 754,20.6 756.3,20 758.6,19.5 760.9,18.9 763.2,18.3 765.5,17.5 767.8,16.7 770,15.9 772.3,15.2 774.8,14.7 777.5,14.3 779.8,13.9 781.5,13.7" fill="none" stroke="#141414" stroke-width="1.5" />
<polyline points="622.5,123.3 624.4,123.3 627.1,123.3 630,123.3 632.5,123.3 634.5,123.3 636.3,123.3 638,123.3 639.5,123.2 640.9,123.1 642.2,123 643.4,122.8 644.5,122.6 645.4,122.3 646.2,122 646.9,121.7 647.5,121.2 648.1,120.7 648.7,120.1 649.2,119.4 649.7,118.6 650.2,117.7 650.6,116.7 651,115.5 651.5,114 652,112.1 652.5,110 653,107.6 653.5,105 654,102.2 654.5,99.2 655,96.1 655.5,93 656,89.9 656.5,86.8 657,83.7 657.5,80.5 658,77.2 658.5,73.8 659,70.4 659.5,67 660,63.7 660.5,60.5 661,57.2 661.5,53.9 662,50.5 662.5,47 663,43.6 663.5,40.4 663.9,37.3 664.4,34.4 664.7,31.7 665.1,29.4 665.4,27.5 665.7,26 666,24.7 666.2,23.8 666.4,23.1 666.7,22.7 666.9,22.6 667.1,22.7 667.3,23.1 667.5,23.6 667.8,24.5 668,25.5 668.2,26.7 668.4,28 668.7,29.7 669,32.3 669.5,36 670,40.6 670.6,45.5 671.2,49.9 671.8,53.8 672.3,57.5 672.9,60.9 673.5,63.8 674.2,66.1 675,67.9 675.7,69.3 676.5,70.5 677.2,71.3 678,71.7 678.7,72 679.5,72.2 680.3,72.4 681,72.5 681.9,72.6 682.7,72.7 683.6,72.8 684.7,72.9 685.6,72.9 686.5,72.9 687.2,72.8 687.7,72.6 688.2,72.4 688.8,72.3 689.4,72.4 690.1,72.6 690.8,72.8 691.5,73.1 692.3,73.3 693.1,73.6 694,73.9 694.9,74.1 695.8,74.2 696.8,74.2 697.7,74.1 698.5,74 699.2,73.8 699.7,73.6 700.3,73.3 701,72.6 701.9,71.6 702.8,70.4 703.8,68.8 704.8,66.7 705.8,63.8 706.7,60.1 707.7,56.4 708.5,53.3 709.2,51 709.7,49.1 710.3,47.4 710.8,45.5 711.4,43.1 712,40.4 712.7,37.8 713.2,35.5 713.6,33.8 713.9,32.5 714.2,31.2 714.7,29.8 715.3,28.1 716.1,26.3 716.9,24.6 717.7,23.1 718.6,21.8 719.6,20.8 720.5,19.9 721.5,19.2 722.4,18.7 723.3,18.4 724.2,18.3 725.3,18.5 726.5,18.9 727.9,19.6 729.3,20.3 730.7,21 732.1,21.5 733.6,22.1 735.2,22.6 736.8,22.9 738.6,23.1 740.4,23.2 742.4,23.1 744.4,22.9 746.6,22.5 748.9,21.9 751.2,21.2 753.5,20.6 755.8,20 758.1,19.5 760.4,18.9 762.7,18.3 765,17.5 767.3,16.7 769.5,15.9 771.8,15.2 774.3,14.7 777,14.3 779.3,13.9 781,13.7" fill="none" stroke="#e98d98" stroke-width="1.0" />
<polyline points="622.1,123.3 624,123.3 626.7,123.3 629.6,123.3 632.1,123.3 634.1,123.3 635.9,123.3 637.6,123.3 639.1,123.2 640.5,123.1 641.9,123 643,122.8 644.1,122.6 645,122.3 645.8,122 646.5,121.7 647.1,121.2 647.7,120.7 648.3,120.1 648.8,119.4 649.3,118.6 649.8,117.7 650.2,116.7 650.6,115.5 651.1,114 651.6,112.1 652.1,110 652.6,107.6 653.1,105 653.6,102.2 654.1,99.2 654.6,96.1 655.1,93 655.6,89.9 656.1,86.8 656.6,83.7 657.1,80.5 657.6,77.2 658.1,73.8 658.6,70.4 659.1,67 659.6,63.7 660.1,60.5 660.6,57.2 661.1,53.8 661.6,50.2 662.1,46.4 662.6,42.6 663.1,38.9 663.5,35.1 664,31.3 664.3,27.6 664.7,24.5 665,21.9 665.3,19.8 665.6,18 665.8,16.6 666,15.7 666.3,15.2 666.5,15.1 666.7,15.3 666.9,15.9 667.1,16.7 667.4,17.9 667.6,19.4 667.8,21.1 668,23 668.3,25.3 668.6,28.6 669.1,33.1 669.6,38.7 670.2,44.4 670.8,49.4 671.4,53.6 671.9,57.4 672.5,60.8 673.1,63.7 673.8,66 674.6,67.8 675.3,69.1 676.1,70.3 676.8,71 677.6,71.5 678.3,71.7 679.1,71.9 679.9,72 680.7,72.1 681.5,72.1 682.3,72.1 683.2,72.2 684.3,72.2 685.2,72.2 686.1,72.2 686.8,72 687.3,71.8 687.8,71.6 688.4,71.5 689,71.6 689.7,71.8 690.4,72 691.1,72.3 691.9,72.6 692.7,72.9 693.6,73.2 694.5,73.5 695.4,73.6 696.4,73.7 697.3,73.7 698.1,73.6 698.8,73.5 699.3,73.3 699.9,73 700.6,72.3 701.5,71.4 702.4,70.2 703.4,68.7 704.4,66.6 705.4,63.7 706.3,60 707.3,56.3 708.1,53.2 708.8,50.9 709.3,49.1 709.9,47.4 710.4,45.4 711,42.9 711.7,40.2 712.3,37.6 712.8,35.3 713.2,33.6 713.5,32.2 713.8,30.9 714.3,29.5 714.9,27.7 715.7,25.9 716.5,24 717.3,22.5 718.2,21.2 719.1,20 720.1,19.1 721.1,18.4 722,17.9 722.9,17.7 723.8,17.7 724.9,17.9 726.1,18.4 727.5,19.2 728.9,20.1 730.3,20.8 731.7,21.5 733.2,22 734.8,22.5 736.4,22.9 738.2,23.1 740,23.2 742,23.1 744,22.9 746.2,22.5 748.5,21.9 750.8,21.2 753.1,20.6 755.4,20 757.7,19.5 760,18.9 762.3,18.3 764.6,17.5 766.9,16.7 769.1,15.9 771.4,15.2 773.9,14.7 776.6,14.3 778.9,13.9 780.6,13.7" fill="none" stroke="#f6cf8e" stroke-width="1.1" />
<rect x="623.8" y="2.3" width="158.8" height="124" fill="none" stroke="#4a4a4a" stroke-width="1.2"/>
<line x1="623.8" y1="126.3" x2="623.8" y2="123.2" stroke="#4a4a4a" stroke-width="1" />
<line x1="643.6" y1="126.3" x2="643.6" y2="123.2" stroke="#4a4a4a" stroke-width="1" />
<line x1="663.4" y1="126.3" x2="663.4" y2="123.2" stroke="#4a4a4a" stroke-width="1" />
<line x1="683.3" y1="126.3" x2="683.3" y2="123.2" stroke="#4a4a4a" stroke-width="1" />
<line x1="703.1" y1="126.3" x2="703.1" y2="123.2" stroke="#4a4a4a" stroke-width="1" />
<line x1="722.9" y1="126.3" x2="722.9" y2="123.2" stroke="#4a4a4a" stroke-width="1" />
<line x1="742.8" y1="126.3" x2="742.8" y2="123.2" stroke="#4a4a4a" stroke-width="1" />
<line x1="762.6" y1="126.3" x2="762.6" y2="123.2" stroke="#4a4a4a" stroke-width="1" />
<line x1="782.4" y1="126.3" x2="782.4" y2="123.2" stroke="#4a4a4a" stroke-width="1" />
<text x="623.8" y="138.1" font-size="11.3" text-anchor="middle" fill="#111" >280</text>
<text x="663.4" y="138.1" font-size="11.3" text-anchor="middle" fill="#111" >285</text>
<text x="703.1" y="138.1" font-size="11.3" text-anchor="middle" fill="#111" >290</text>
<text x="742.8" y="138.1" font-size="11.3" text-anchor="middle" fill="#111" >295</text>
<text x="782.1" y="138.1" font-size="11.3" text-anchor="middle" fill="#111" >300</text>
<text x="703.3" y="150.2" font-size="11.7" text-anchor="middle" fill="#111" >Photon energy (eV)</text>
<text transform="translate(617.5,64.2) rotate(-90)" font-size="11.85" text-anchor="middle" fill="#111">Intensity (a.u.)</text>
<text x="601.6" y="12.2" font-size="13" font-weight="bold" text-anchor="start" fill="#111" >(d)</text>
<rect x="713.4" y="17.5" width="6.3" height="12.2" fill="none" stroke="#e0707c" stroke-width="0.9"/>
<line x1="653.9" y1="58.5" x2="653.9" y2="79" stroke="#111" stroke-width="1.1" /><polygon points="653.9,85 650.8,78 653.9,79.2 657,78" fill="#111"/>
<line x1="668.4" y1="64" x2="668.4" y2="47" stroke="#111" stroke-width="1.1" /><polygon points="668.4,41 665.3,48 668.4,46.8 671.5,48" fill="#111"/>
<line x1="690" y1="40" x2="690" y2="61.5" stroke="#111" stroke-width="1.1" /><polygon points="690,67.5 686.9,60.5 690,61.7 693.1,60.5" fill="#111"/>
<line x1="717.4" y1="51.8" x2="717.4" y2="36" stroke="#111" stroke-width="1.1" /><polygon points="717.4,30 714.3,37 717.4,35.8 720.5,37" fill="#111"/>
<text x="673.2" y="14.1" font-size="9.9" font-weight="bold" text-anchor="middle" fill="#111" >285.5</text>
<text x="693.9" y="87.4" font-size="10" font-weight="bold" text-anchor="middle" fill="#111" >288.8</text>
<text x="672.7" y="112.6" font-size="10" font-weight="bold" text-anchor="middle" fill="#111" >284.5</text>
<text x="723.5" y="35.5" font-size="10" font-weight="bold" text-anchor="start" fill="#111" >291.9</text>
<line x1="720.3" y1="92.6" x2="731.8" y2="92.6" stroke="#141414" stroke-width="1.5" />
<text x="737" y="95.5" font-size="8.6" font-weight="bold" text-anchor="start" fill="#111" textLength="36.2" lengthAdjust="spacingAndGlyphs">D-C-900</text>
<line x1="720.3" y1="104.4" x2="731.8" y2="104.4" stroke="#e98d98" stroke-width="1.5" />
<text x="737" y="107.3" font-size="8.6" font-weight="bold" text-anchor="start" fill="#111" textLength="41.5" lengthAdjust="spacingAndGlyphs">D-C-1000</text>
<line x1="720.3" y1="116.2" x2="731.8" y2="116.2" stroke="#f6cf8e" stroke-width="1.5" />
<text x="737" y="119.1" font-size="8.6" font-weight="bold" text-anchor="start" fill="#111" textLength="41.5" lengthAdjust="spacingAndGlyphs">D-C-1100</text></g>
<g id="e"><clipPath id="ce"><rect x="35.6" y="170.7" width="214.3" height="150.5"/></clipPath>
<g clip-path="url(#ce)">
<polyline points="57,330 57.6,328.9 58.3,327.5 59.3,325.8 60.4,323.6 61.6,320.9 62.9,317.8 64.4,314.2 66.1,310.2 67.9,305.8 70,301 72.4,295.6 75.2,289.7 78.1,283.4 81.1,277.2 84,271.5 86.9,266.2 89.7,261.1 92.6,256.1 95.5,251.4 98.5,246.8 101.5,242.4 104.5,238.2 107.6,234.2 110.8,230.4 114,226.6 117.4,222.9 120.8,219.3 124.4,215.8 127.9,212.5 131.3,209.5 134.7,206.7 138.1,204.1 141.4,201.7 144.6,199.6 147.7,197.8 150.6,196.3 153.3,195.1 155.9,194.2 158.4,193.5 160.9,192.8 163.4,192.3 165.8,191.9 168.1,191.7 170.3,191.5 172.4,191.5 174.3,191.6 176,191.7 177.6,192 179.3,192.3 181,192.6 182.8,192.9 184.7,193.3 186.6,193.8 188.5,194.2 190.4,194.5 192.3,194.8 194.2,195 196.1,195.2 198.1,195.4 200,195.6 202,195.8 204.1,196.1 206.1,196.3 208.1,196.6 210,196.8 211.8,197 213.5,197.3 215.1,197.6 216.6,197.8 218,197.9 219.2,198 220.1,198 221,198 221.9,197.9 223,197.8 224.3,197.6 225.7,197.4 227.1,197.2 228.6,196.9 230,196.6 231.3,196.3 232.6,195.9 233.9,195.5 235.1,195 236.4,194.5 237.7,194 239,193.4 240.3,192.7 241.7,192.1 243,191.4 244.5,190.7 246.1,189.9 247.6,189.1 249,188.4 249.9,187.9" fill="none" stroke="#e6a046" stroke-width="1.3" />
<polyline points="68,331 68.7,329.7 69.5,328 70.6,325.9 71.9,323.5 73.4,320.9 75.1,317.9 77.1,314.6 79.2,311.1 81.5,307.4 84,303.8 86.6,300.2 89.5,296.6 92.4,293 95.5,289.3 98.5,285.6 101.5,281.8 104.5,278 107.6,274.2 110.8,270.3 114,266.6 117.4,262.9 120.8,259.2 124.4,255.5 127.9,252.1 131.3,248.8 134.7,245.7 138.1,242.8 141.4,240 144.6,237.6 147.7,235.5 150.6,233.9 153.5,232.8 156.2,231.9 158.7,231.2 160.9,230.6 162.7,230.1 164.2,229.7 165.5,229.4 166.7,229.2 168,229 169.2,228.8 170.4,228.6 171.5,228.4 172.7,228.3 174,228.3 175.5,228.3 177.2,228.4 178.8,228.5 180.5,228.7 182,228.9 183.3,229.1 184.6,229.4 185.7,229.7 186.9,230 188,230.2 189.2,230.4 190.4,230.5 191.5,230.6 192.7,230.6 193.7,230.6 194.6,230.5 195.5,230.3 196.3,230.1 197.1,229.8 198,229.5 199,229.1 200,228.7 201,228.3 202.2,227.8 203.5,227.3 205,226.8 206.6,226.3 208.3,225.7 210.1,225.2 212,224.8 214,224.4 216.1,224.1 218.3,223.8 220.6,223.6 223,223.4 225.5,223.3 228,223.2 230.6,223.2 233.3,223.1 236,223.1 238.9,223.1 242.2,223 245.3,223 248,223 249.9,223" fill="none" stroke="#d8415f" stroke-width="1.3" />
<polyline points="85,331 86.4,329.6 88.3,327.7 90.5,325.4 92.8,323.1 94.9,320.9 96.7,318.9 98.5,316.9 100.3,314.9 102.1,313 104,311 106.1,309 108.2,307.1 110.4,305.1 112.7,303.2 114.9,301.2 117.1,299.2 119.3,297.1 121.5,295 123.7,293 126,291 128.3,289 130.7,287.1 133.1,285.2 135.5,283.3 137.9,281.5 140.3,279.7 142.6,278 145,276.3 147.4,274.6 150,273 152.7,271.3 155.6,269.6 158.6,268 161.5,266.4 164.1,265.1 166.5,264 168.8,263 170.9,262.2 173,261.5 175,260.8 176.9,260.2 178.8,259.7 180.6,259.2 182.2,258.9 183.8,258.5 185.2,258.2 186.6,257.9 187.8,257.7 189,257.5 190,257.4 190.9,257.3 191.5,257.2 192.2,257.2 192.8,257.2 193.7,257.2 194.7,257.3 195.9,257.5 197.1,257.7 198.5,257.8 200,258 201.8,258.1 203.7,258.3 205.8,258.4 207.9,258.4 210,258.5 212,258.5 214,258.5 216,258.5 218,258.5 220,258.4 222,258.3 223.9,258.2 225.9,258.1 227.8,258 229.8,257.8 231.8,257.6 233.9,257.5 235.9,257.3 238,257 240,256.8 242.2,256.5 244.5,256.1 246.7,255.8 248.6,255.4 249.9,255.2" fill="none" stroke="#4c4a7c" stroke-width="1.3" />
</g>
<line x1="161.2" y1="173.1" x2="161.2" y2="220.7" stroke="#e6a046" stroke-width="1.1" stroke-dasharray="2.4 2" />
<line x1="172.4" y1="209.2" x2="172.4" y2="255.9" stroke="#d8415f" stroke-width="1.1" stroke-dasharray="2.4 2" />
<line x1="192" y1="236.2" x2="192" y2="283.8" stroke="#4c4a7c" stroke-width="1.1" stroke-dasharray="2.4 2" />
<rect x="35.6" y="170.7" width="214.3" height="150.5" fill="none" stroke="#3a3a3a" stroke-width="1"/>
<line x1="47.4" y1="321.2" x2="47.4" y2="318.2" stroke="#3a3a3a" stroke-width="1" />
<text x="47.6" y="333.5" font-size="10.2" text-anchor="middle" fill="#111" >291.4</text>
<line x1="76.3" y1="321.2" x2="76.3" y2="318.2" stroke="#3a3a3a" stroke-width="1" />
<text x="76.5" y="333.5" font-size="10.2" text-anchor="middle" fill="#111" >291.5</text>
<line x1="105.2" y1="321.2" x2="105.2" y2="318.2" stroke="#3a3a3a" stroke-width="1" />
<text x="105.4" y="333.5" font-size="10.2" text-anchor="middle" fill="#111" >291.6</text>
<line x1="134" y1="321.2" x2="134" y2="318.2" stroke="#3a3a3a" stroke-width="1" />
<text x="134.2" y="333.5" font-size="10.2" text-anchor="middle" fill="#111" >291.7</text>
<line x1="162.9" y1="321.2" x2="162.9" y2="318.2" stroke="#3a3a3a" stroke-width="1" />
<text x="163.1" y="333.5" font-size="10.2" text-anchor="middle" fill="#111" >291.8</text>
<line x1="191.8" y1="321.2" x2="191.8" y2="318.2" stroke="#3a3a3a" stroke-width="1" />
<text x="192" y="333.5" font-size="10.2" text-anchor="middle" fill="#111" >291.9</text>
<line x1="220.7" y1="321.2" x2="220.7" y2="318.2" stroke="#3a3a3a" stroke-width="1" />
<text x="220.9" y="333.5" font-size="10.2" text-anchor="middle" fill="#111" >292.0</text>
<line x1="249.6" y1="321.2" x2="249.6" y2="318.2" stroke="#3a3a3a" stroke-width="1" />
<text x="249.8" y="333.5" font-size="10.2" text-anchor="middle" fill="#111" >292.1</text>
<line x1="61.8" y1="321.2" x2="61.8" y2="318.2" stroke="#3a3a3a" stroke-width="1" />
<line x1="90.7" y1="321.2" x2="90.7" y2="318.2" stroke="#3a3a3a" stroke-width="1" />
<line x1="119.6" y1="321.2" x2="119.6" y2="318.2" stroke="#3a3a3a" stroke-width="1" />
<line x1="148.5" y1="321.2" x2="148.5" y2="318.2" stroke="#3a3a3a" stroke-width="1" />
<line x1="177.4" y1="321.2" x2="177.4" y2="318.2" stroke="#3a3a3a" stroke-width="1" />
<line x1="206.2" y1="321.2" x2="206.2" y2="318.2" stroke="#3a3a3a" stroke-width="1" />
<line x1="235.1" y1="321.2" x2="235.1" y2="318.2" stroke="#3a3a3a" stroke-width="1" />
<text x="143" y="346" font-size="11.7" text-anchor="middle" fill="#111" >Photon energy (eV)</text>
<text transform="translate(28.2,246.4) rotate(-90)" font-size="11.7" text-anchor="middle" fill="#111">Intensity (a.u.)</text>
<text x="11.8" y="177.7" font-size="13" font-weight="bold" text-anchor="start" fill="#111" >(e)</text>
<line x1="44.9" y1="184.4" x2="64" y2="184.4" stroke="#e6a046" stroke-width="1.3" />
<text x="66.8" y="188" font-size="9.7" font-weight="bold" text-anchor="start" fill="#111" >D-C-1100</text>
<line x1="44.9" y1="198.5" x2="64" y2="198.5" stroke="#d8415f" stroke-width="1.3" />
<text x="66.8" y="202.1" font-size="9.7" font-weight="bold" text-anchor="start" fill="#111" >D-C-1000</text>
<line x1="44.9" y1="212.5" x2="64" y2="212.5" stroke="#4c4a7c" stroke-width="1.3" />
<text x="66.8" y="216.1" font-size="9.7" font-weight="bold" text-anchor="start" fill="#111" >D-C-900</text></g>
<g id="f"><defs><linearGradient id="gf" x1="0" y1="0" x2="0" y2="1"><stop offset="0" stop-color="#4a3fa2"/><stop offset="0.35" stop-color="#6e63b8"/><stop offset="0.7" stop-color="#b1a7dc"/><stop offset="1" stop-color="#ebe6fa"/></linearGradient><radialGradient id="gC" cx="0.38" cy="0.35" r="0.7"><stop offset="0" stop-color="#8e8e92"/><stop offset="0.5" stop-color="#4c4c50"/><stop offset="1" stop-color="#26262a"/></radialGradient><radialGradient id="gH" cx="0.4" cy="0.38" r="0.7"><stop offset="0" stop-color="#ffffff"/><stop offset="0.6" stop-color="#ececf0"/><stop offset="1" stop-color="#a9a9b4"/></radialGradient></defs>
<rect x="295.2" y="167.2" width="99.6" height="84.6" fill="url(#gf)"/>
<rect x="416.8" y="167.2" width="99.6" height="84.6" fill="url(#gf)"/>
<rect x="295.2" y="267.6" width="99.6" height="84.6" fill="url(#gf)"/>
<rect x="416.8" y="267.6" width="99.6" height="84.6" fill="url(#gf)"/>
<text x="279" y="177.7" font-size="13" font-weight="bold" text-anchor="start" fill="#111" >(f)</text>
<line x1="308.2" y1="226" x2="308.2" y2="235.4" stroke="#505055" stroke-width="2.6" stroke-linecap="round"/>
<line x1="366.6" y1="197.8" x2="366.5" y2="207.2" stroke="#505055" stroke-width="2.6" stroke-linecap="round"/>
<line x1="337.4" y1="221.3" x2="327.6" y2="226" stroke="#505055" stroke-width="2.6" stroke-linecap="round"/>
<line x1="327.6" y1="235.4" x2="317.9" y2="240.1" stroke="#505055" stroke-width="2.6" stroke-linecap="round"/>
<line x1="386" y1="226" x2="386" y2="235.4" stroke="#505055" stroke-width="2.6" stroke-linecap="round"/>
<line x1="347.1" y1="179" x2="356.8" y2="183.7" stroke="#505055" stroke-width="2.6" stroke-linecap="round"/>
<line x1="327.6" y1="235.4" x2="337.4" y2="240.1" stroke="#505055" stroke-width="2.6" stroke-linecap="round"/>
<line x1="327.6" y1="207.2" x2="317.9" y2="211.9" stroke="#505055" stroke-width="2.6" stroke-linecap="round"/>
<line x1="317.9" y1="221.3" x2="308.2" y2="226" stroke="#505055" stroke-width="2.6" stroke-linecap="round"/>
<line x1="376.3" y1="193.1" x2="386" y2="197.8" stroke="#505055" stroke-width="2.6" stroke-linecap="round"/>
<line x1="327.6" y1="179" x2="337.4" y2="183.7" stroke="#505055" stroke-width="2.6" stroke-linecap="round"/>
<line x1="327.6" y1="207.2" x2="337.4" y2="211.9" stroke="#505055" stroke-width="2.6" stroke-linecap="round"/>
<line x1="376.3" y1="221.3" x2="386" y2="226" stroke="#505055" stroke-width="2.6" stroke-linecap="round"/>
<line x1="317.9" y1="193.1" x2="317.9" y2="183.7" stroke="#505055" stroke-width="2.6" stroke-linecap="round"/>
<line x1="317.9" y1="211.9" x2="317.9" y2="221.3" stroke="#505055" stroke-width="2.6" stroke-linecap="round"/>
<line x1="347.1" y1="226" x2="347.1" y2="235.4" stroke="#505055" stroke-width="2.6" stroke-linecap="round"/>
<line x1="366.5" y1="235.4" x2="356.8" y2="240.1" stroke="#505055" stroke-width="2.6" stroke-linecap="round"/>
<line x1="366.5" y1="207.2" x2="356.8" y2="211.9" stroke="#505055" stroke-width="2.6" stroke-linecap="round"/>
<line x1="347.1" y1="207.2" x2="337.4" y2="211.9" stroke="#505055" stroke-width="2.6" stroke-linecap="round"/>
<line x1="356.8" y1="193.1" x2="366.6" y2="197.8" stroke="#505055" stroke-width="2.6" stroke-linecap="round"/>
<line x1="317.9" y1="240.1" x2="308.2" y2="235.4" stroke="#505055" stroke-width="2.6" stroke-linecap="round"/>
<line x1="337.4" y1="193.1" x2="347.1" y2="197.8" stroke="#505055" stroke-width="2.6" stroke-linecap="round"/>
<line x1="347.1" y1="207.2" x2="356.8" y2="211.9" stroke="#505055" stroke-width="2.6" stroke-linecap="round"/>
<line x1="308.2" y1="197.8" x2="308.2" y2="207.2" stroke="#505055" stroke-width="2.6" stroke-linecap="round"/>
<line x1="376.3" y1="211.9" x2="376.3" y2="221.3" stroke="#505055" stroke-width="2.6" stroke-linecap="round"/>
<line x1="308.2" y1="179" x2="317.9" y2="183.7" stroke="#505055" stroke-width="2.6" stroke-linecap="round"/>
<line x1="327.6" y1="197.8" x2="327.6" y2="207.2" stroke="#505055" stroke-width="2.6" stroke-linecap="round"/>
<line x1="337.4" y1="211.9" x2="337.4" y2="221.3" stroke="#505055" stroke-width="2.6" stroke-linecap="round"/>
<line x1="337.4" y1="221.3" x2="347.1" y2="226" stroke="#505055" stroke-width="2.6" stroke-linecap="round"/>
<line x1="386" y1="235.4" x2="376.3" y2="240.1" stroke="#505055" stroke-width="2.6" stroke-linecap="round"/>
<line x1="376.3" y1="193.1" x2="366.6" y2="197.8" stroke="#505055" stroke-width="2.6" stroke-linecap="round"/>
<line x1="317.9" y1="211.9" x2="308.2" y2="207.2" stroke="#505055" stroke-width="2.6" stroke-linecap="round"/>
<line x1="317.9" y1="193.1" x2="308.2" y2="197.8" stroke="#505055" stroke-width="2.6" stroke-linecap="round"/>
<line x1="317.9" y1="193.1" x2="327.6" y2="197.8" stroke="#505055" stroke-width="2.6" stroke-linecap="round"/>
<line x1="356.8" y1="193.1" x2="347.1" y2="197.8" stroke="#505055" stroke-width="2.6" stroke-linecap="round"/>
<line x1="376.3" y1="183.7" x2="386" y2="179" stroke="#505055" stroke-width="2.6" stroke-linecap="round"/>
<line x1="366.6" y1="226" x2="366.5" y2="235.4" stroke="#505055" stroke-width="2.6" stroke-linecap="round"/>
<line x1="366.5" y1="235.4" x2="376.3" y2="240.1" stroke="#505055" stroke-width="2.6" stroke-linecap="round"/>
<line x1="366.5" y1="207.2" x2="376.3" y2="211.9" stroke="#505055" stroke-width="2.6" stroke-linecap="round"/>
<line x1="356.8" y1="221.3" x2="347.1" y2="226" stroke="#505055" stroke-width="2.6" stroke-linecap="round"/>
<line x1="356.8" y1="183.7" x2="366.6" y2="179" stroke="#505055" stroke-width="2.6" stroke-linecap="round"/>
<line x1="386" y1="197.8" x2="386" y2="207.2" stroke="#505055" stroke-width="2.6" stroke-linecap="round"/>
<line x1="337.4" y1="193.1" x2="327.6" y2="197.8" stroke="#505055" stroke-width="2.6" stroke-linecap="round"/>
<line x1="347.1" y1="197.8" x2="347.1" y2="207.2" stroke="#505055" stroke-width="2.6" stroke-linecap="round"/>
<line x1="347.1" y1="235.4" x2="337.4" y2="240.1" stroke="#505055" stroke-width="2.6" stroke-linecap="round"/>
<line x1="386" y1="207.2" x2="376.3" y2="211.9" stroke="#505055" stroke-width="2.6" stroke-linecap="round"/>
<line x1="317.9" y1="183.7" x2="327.6" y2="179" stroke="#505055" stroke-width="2.6" stroke-linecap="round"/>
<line x1="376.3" y1="193.1" x2="376.3" y2="183.7" stroke="#505055" stroke-width="2.6" stroke-linecap="round"/>
<line x1="376.3" y1="221.3" x2="366.6" y2="226" stroke="#505055" stroke-width="2.6" stroke-linecap="round"/>
<line x1="337.4" y1="183.7" x2="347.1" y2="179" stroke="#505055" stroke-width="2.6" stroke-linecap="round"/>
<line x1="317.9" y1="221.3" x2="327.6" y2="226" stroke="#505055" stroke-width="2.6" stroke-linecap="round"/>
<line x1="356.8" y1="193.1" x2="356.8" y2="183.7" stroke="#505055" stroke-width="2.6" stroke-linecap="round"/>
<line x1="356.8" y1="221.3" x2="366.6" y2="226" stroke="#505055" stroke-width="2.6" stroke-linecap="round"/>
<line x1="356.8" y1="211.9" x2="356.8" y2="221.3" stroke="#505055" stroke-width="2.6" stroke-linecap="round"/>
<line x1="327.6" y1="226" x2="327.6" y2="235.4" stroke="#505055" stroke-width="2.6" stroke-linecap="round"/>
<line x1="337.4" y1="193.1" x2="337.4" y2="183.7" stroke="#505055" stroke-width="2.6" stroke-linecap="round"/>
<line x1="366.6" y1="179" x2="376.3" y2="183.7" stroke="#505055" stroke-width="2.6" stroke-linecap="round"/>
<line x1="347.1" y1="235.4" x2="356.8" y2="240.1" stroke="#505055" stroke-width="2.6" stroke-linecap="round"/>
<line x1="308.2" y1="179" x2="308.2" y2="172.4" stroke="#8c8c92" stroke-width="2.6" stroke-linecap="round"/>
<line x1="327.6" y1="179" x2="327.6" y2="172.4" stroke="#8c8c92" stroke-width="2.6" stroke-linecap="round"/>
<line x1="347.1" y1="179" x2="347.1" y2="172.4" stroke="#8c8c92" stroke-width="2.6" stroke-linecap="round"/>
<line x1="366.6" y1="179" x2="366.6" y2="172.4" stroke="#8c8c92" stroke-width="2.6" stroke-linecap="round"/>
<line x1="386" y1="179" x2="386" y2="172.4" stroke="#8c8c92" stroke-width="2.6" stroke-linecap="round"/>
<line x1="317.9" y1="240.1" x2="317.9" y2="246.3" stroke="#8c8c92" stroke-width="2.6" stroke-linecap="round"/>
<line x1="337.4" y1="240.1" x2="337.4" y2="246.3" stroke="#8c8c92" stroke-width="2.6" stroke-linecap="round"/>
<line x1="356.8" y1="240.1" x2="356.8" y2="246.3" stroke="#8c8c92" stroke-width="2.6" stroke-linecap="round"/>
<line x1="376.3" y1="240.1" x2="376.3" y2="246.3" stroke="#8c8c92" stroke-width="2.6" stroke-linecap="round"/>
<circle cx="317.9" cy="193.1" r="2.25" fill="url(#gC)"/>
<circle cx="308.2" cy="197.8" r="2.25" fill="url(#gC)"/>
<circle cx="308.2" cy="179" r="2.25" fill="url(#gC)"/>
<circle cx="317.9" cy="183.7" r="2.25" fill="url(#gC)"/>
<circle cx="337.4" cy="193.1" r="2.25" fill="url(#gC)"/>
<circle cx="327.6" cy="197.8" r="2.25" fill="url(#gC)"/>
<circle cx="327.6" cy="179" r="2.25" fill="url(#gC)"/>
<circle cx="337.4" cy="183.7" r="2.25" fill="url(#gC)"/>
<circle cx="356.8" cy="193.1" r="2.25" fill="url(#gC)"/>
<circle cx="347.1" cy="197.8" r="2.25" fill="url(#gC)"/>
<circle cx="347.1" cy="179" r="2.25" fill="url(#gC)"/>
<circle cx="356.8" cy="183.7" r="2.25" fill="url(#gC)"/>
<circle cx="376.3" cy="193.1" r="2.25" fill="url(#gC)"/>
<circle cx="366.6" cy="197.8" r="2.25" fill="url(#gC)"/>
<circle cx="366.6" cy="179" r="2.25" fill="url(#gC)"/>
<circle cx="376.3" cy="183.7" r="2.25" fill="url(#gC)"/>
<circle cx="386" cy="197.8" r="2.25" fill="url(#gC)"/>
<circle cx="386" cy="179" r="2.25" fill="url(#gC)"/>
<circle cx="327.6" cy="207.2" r="2.25" fill="url(#gC)"/>
<circle cx="317.9" cy="211.9" r="2.25" fill="url(#gC)"/>
<circle cx="308.2" cy="207.2" r="2.25" fill="url(#gC)"/>
<circle cx="347.1" cy="207.2" r="2.25" fill="url(#gC)"/>
<circle cx="337.4" cy="211.9" r="2.25" fill="url(#gC)"/>
<circle cx="366.5" cy="207.2" r="2.25" fill="url(#gC)"/>
<circle cx="356.8" cy="211.9" r="2.25" fill="url(#gC)"/>
<circle cx="386" cy="207.2" r="2.25" fill="url(#gC)"/>
<circle cx="376.3" cy="211.9" r="2.25" fill="url(#gC)"/>
<circle cx="317.9" cy="221.3" r="2.25" fill="url(#gC)"/>
<circle cx="308.2" cy="226" r="2.25" fill="url(#gC)"/>
<circle cx="337.4" cy="221.3" r="2.25" fill="url(#gC)"/>
<circle cx="327.6" cy="226" r="2.25" fill="url(#gC)"/>
<circle cx="356.8" cy="221.3" r="2.25" fill="url(#gC)"/>
<circle cx="347.1" cy="226" r="2.25" fill="url(#gC)"/>
<circle cx="376.3" cy="221.3" r="2.25" fill="url(#gC)"/>
<circle cx="366.6" cy="226" r="2.25" fill="url(#gC)"/>
<circle cx="386" cy="226" r="2.25" fill="url(#gC)"/>
<circle cx="327.6" cy="235.4" r="2.25" fill="url(#gC)"/>
<circle cx="317.9" cy="240.1" r="2.25" fill="url(#gC)"/>
<circle cx="308.2" cy="235.4" r="2.25" fill="url(#gC)"/>
<circle cx="347.1" cy="235.4" r="2.25" fill="url(#gC)"/>
<circle cx="337.4" cy="240.1" r="2.25" fill="url(#gC)"/>
<circle cx="366.5" cy="235.4" r="2.25" fill="url(#gC)"/>
<circle cx="356.8" cy="240.1" r="2.25" fill="url(#gC)"/>
<circle cx="386" cy="235.4" r="2.25" fill="url(#gC)"/>
<circle cx="376.3" cy="240.1" r="2.25" fill="url(#gC)"/>
<circle cx="308.2" cy="172.4" r="2.9" fill="url(#gH)"/>
<circle cx="327.6" cy="172.4" r="2.9" fill="url(#gH)"/>
<circle cx="347.1" cy="172.4" r="2.9" fill="url(#gH)"/>
<circle cx="366.6" cy="172.4" r="2.9" fill="url(#gH)"/>
<circle cx="386" cy="172.4" r="2.9" fill="url(#gH)"/>
<circle cx="317.9" cy="246.3" r="2.9" fill="url(#gH)"/>
<circle cx="337.4" cy="246.3" r="2.9" fill="url(#gH)"/>
<circle cx="356.8" cy="246.3" r="2.9" fill="url(#gH)"/>
<circle cx="376.3" cy="246.3" r="2.9" fill="url(#gH)"/>
<line x1="490.7" y1="208.5" x2="498.6" y2="212.3" stroke="#505055" stroke-width="2.3" stroke-linecap="round"/>
<line x1="482.7" y1="219.9" x2="490.7" y2="223.7" stroke="#505055" stroke-width="2.3" stroke-linecap="round"/>
<line x1="458.9" y1="208.5" x2="466.8" y2="212.3" stroke="#505055" stroke-width="2.3" stroke-linecap="round"/>
<line x1="466.8" y1="174.3" x2="474.8" y2="178.1" stroke="#505055" stroke-width="2.3" stroke-linecap="round"/>
<line x1="458.9" y1="185.7" x2="458.9" y2="178.1" stroke="#505055" stroke-width="2.3" stroke-linecap="round"/>
<line x1="474.8" y1="185.7" x2="482.7" y2="189.5" stroke="#505055" stroke-width="2.3" stroke-linecap="round"/>
<line x1="466.8" y1="219.9" x2="458.9" y2="223.7" stroke="#505055" stroke-width="2.3" stroke-linecap="round"/>
<line x1="466.8" y1="197.1" x2="458.9" y2="200.9" stroke="#505055" stroke-width="2.3" stroke-linecap="round"/>
<line x1="450.9" y1="197.1" x2="442.9" y2="200.9" stroke="#505055" stroke-width="2.3" stroke-linecap="round"/>
<line x1="458.9" y1="185.7" x2="466.8" y2="189.5" stroke="#505055" stroke-width="2.3" stroke-linecap="round"/>
<line x1="442.9" y1="200.9" x2="435" y2="197.1" stroke="#505055" stroke-width="2.3" stroke-linecap="round"/>
<line x1="442.9" y1="231.3" x2="435" y2="235.1" stroke="#505055" stroke-width="2.3" stroke-linecap="round"/>
<line x1="442.9" y1="200.9" x2="442.9" y2="208.5" stroke="#505055" stroke-width="2.3" stroke-linecap="round"/>
<line x1="466.8" y1="219.9" x2="474.8" y2="223.7" stroke="#505055" stroke-width="2.3" stroke-linecap="round"/>
<line x1="466.8" y1="197.1" x2="474.8" y2="200.9" stroke="#505055" stroke-width="2.3" stroke-linecap="round"/>
<line x1="450.9" y1="219.9" x2="442.9" y2="223.7" stroke="#505055" stroke-width="2.3" stroke-linecap="round"/>
<line x1="474.8" y1="178.1" x2="482.7" y2="174.3" stroke="#505055" stroke-width="2.3" stroke-linecap="round"/>
<line x1="435" y1="197.1" x2="435" y2="189.5" stroke="#505055" stroke-width="2.3" stroke-linecap="round"/>
<line x1="482.7" y1="174.3" x2="490.7" y2="178.1" stroke="#505055" stroke-width="2.3" stroke-linecap="round"/>
<line x1="498.6" y1="197.1" x2="490.7" y2="200.9" stroke="#505055" stroke-width="2.3" stroke-linecap="round"/>
<line x1="450.9" y1="197.1" x2="458.9" y2="200.9" stroke="#505055" stroke-width="2.3" stroke-linecap="round"/>
<line x1="498.6" y1="219.9" x2="490.7" y2="223.7" stroke="#505055" stroke-width="2.3" stroke-linecap="round"/>
<line x1="490.7" y1="185.7" x2="498.6" y2="189.5" stroke="#505055" stroke-width="2.3" stroke-linecap="round"/>
<line x1="490.7" y1="231.3" x2="482.7" y2="235.1" stroke="#505055" stroke-width="2.3" stroke-linecap="round"/>
<line x1="442.9" y1="231.3" x2="450.9" y2="235.1" stroke="#505055" stroke-width="2.3" stroke-linecap="round"/>
<line x1="458.9" y1="231.3" x2="450.9" y2="235.1" stroke="#505055" stroke-width="2.3" stroke-linecap="round"/>
<line x1="490.7" y1="200.9" x2="490.7" y2="208.5" stroke="#505055" stroke-width="2.3" stroke-linecap="round"/>
<line x1="450.9" y1="189.5" x2="450.9" y2="197.1" stroke="#505055" stroke-width="2.3" stroke-linecap="round"/>
<line x1="458.9" y1="200.9" x2="458.9" y2="208.5" stroke="#505055" stroke-width="2.3" stroke-linecap="round"/>
<line x1="498.6" y1="212.3" x2="498.6" y2="219.9" stroke="#505055" stroke-width="2.3" stroke-linecap="round"/>
<line x1="490.7" y1="231.3" x2="498.6" y2="235.1" stroke="#505055" stroke-width="2.3" stroke-linecap="round"/>
<line x1="450.9" y1="212.3" x2="450.9" y2="219.9" stroke="#505055" stroke-width="2.3" stroke-linecap="round"/>
<line x1="466.8" y1="212.3" x2="466.8" y2="219.9" stroke="#505055" stroke-width="2.3" stroke-linecap="round"/>
<line x1="482.7" y1="197.1" x2="474.8" y2="200.9" stroke="#505055" stroke-width="2.3" stroke-linecap="round"/>
<line x1="458.9" y1="231.3" x2="466.8" y2="235.1" stroke="#505055" stroke-width="2.3" stroke-linecap="round"/>
<line x1="474.8" y1="231.3" x2="466.8" y2="235.1" stroke="#505055" stroke-width="2.3" stroke-linecap="round"/>
<line x1="442.9" y1="208.5" x2="435" y2="212.3" stroke="#505055" stroke-width="2.3" stroke-linecap="round"/>
<line x1="482.7" y1="197.1" x2="490.7" y2="200.9" stroke="#505055" stroke-width="2.3" stroke-linecap="round"/>
<line x1="474.8" y1="208.5" x2="466.8" y2="212.3" stroke="#505055" stroke-width="2.3" stroke-linecap="round"/>
<line x1="474.8" y1="200.9" x2="474.8" y2="208.5" stroke="#505055" stroke-width="2.3" stroke-linecap="round"/>
<line x1="482.7" y1="212.3" x2="482.7" y2="219.9" stroke="#505055" stroke-width="2.3" stroke-linecap="round"/>
<line x1="474.8" y1="231.3" x2="482.7" y2="235.1" stroke="#505055" stroke-width="2.3" stroke-linecap="round"/>
<line x1="482.7" y1="189.5" x2="482.7" y2="197.1" stroke="#505055" stroke-width="2.3" stroke-linecap="round"/>
<line x1="442.9" y1="185.7" x2="435" y2="189.5" stroke="#505055" stroke-width="2.3" stroke-linecap="round"/>
<line x1="474.8" y1="223.7" x2="474.8" y2="231.3" stroke="#505055" stroke-width="2.3" stroke-linecap="round"/>
<line x1="450.9" y1="189.5" x2="442.9" y2="185.7" stroke="#505055" stroke-width="2.3" stroke-linecap="round"/>
<line x1="466.8" y1="189.5" x2="466.8" y2="197.1" stroke="#505055" stroke-width="2.3" stroke-linecap="round"/>
<line x1="458.9" y1="208.5" x2="450.9" y2="212.3" stroke="#505055" stroke-width="2.3" stroke-linecap="round"/>
<line x1="435" y1="212.3" x2="435" y2="219.9" stroke="#505055" stroke-width="2.3" stroke-linecap="round"/>
<line x1="450.9" y1="219.9" x2="458.9" y2="223.7" stroke="#505055" stroke-width="2.3" stroke-linecap="round"/>
<line x1="442.9" y1="185.7" x2="442.9" y2="178.1" stroke="#505055" stroke-width="2.3" stroke-linecap="round"/>
<line x1="442.9" y1="178.1" x2="450.9" y2="174.3" stroke="#505055" stroke-width="2.3" stroke-linecap="round"/>
<line x1="458.9" y1="223.7" x2="458.9" y2="231.3" stroke="#505055" stroke-width="2.3" stroke-linecap="round"/>
<line x1="450.9" y1="174.3" x2="458.9" y2="178.1" stroke="#505055" stroke-width="2.3" stroke-linecap="round"/>
<line x1="458.9" y1="185.7" x2="450.9" y2="189.5" stroke="#505055" stroke-width="2.3" stroke-linecap="round"/>
<line x1="474.8" y1="208.5" x2="482.7" y2="212.3" stroke="#505055" stroke-width="2.3" stroke-linecap="round"/>
<line x1="490.7" y1="185.7" x2="482.7" y2="189.5" stroke="#505055" stroke-width="2.3" stroke-linecap="round"/>
<line x1="442.9" y1="223.7" x2="442.9" y2="231.3" stroke="#505055" stroke-width="2.3" stroke-linecap="round"/>
<line x1="474.8" y1="185.7" x2="466.8" y2="189.5" stroke="#505055" stroke-width="2.3" stroke-linecap="round"/>
<line x1="490.7" y1="208.5" x2="482.7" y2="212.3" stroke="#505055" stroke-width="2.3" stroke-linecap="round"/>
<line x1="442.9" y1="208.5" x2="450.9" y2="212.3" stroke="#505055" stroke-width="2.3" stroke-linecap="round"/>
<line x1="482.7" y1="219.9" x2="474.8" y2="223.7" stroke="#505055" stroke-width="2.3" stroke-linecap="round"/>
<line x1="458.9" y1="178.1" x2="466.8" y2="174.3" stroke="#505055" stroke-width="2.3" stroke-linecap="round"/>
<line x1="498.6" y1="197.1" x2="498.6" y2="189.5" stroke="#505055" stroke-width="2.3" stroke-linecap="round"/>
<line x1="442.9" y1="223.7" x2="435" y2="219.9" stroke="#505055" stroke-width="2.3" stroke-linecap="round"/>
<line x1="490.7" y1="223.7" x2="490.7" y2="231.3" stroke="#505055" stroke-width="2.3" stroke-linecap="round"/>
<line x1="490.7" y1="185.7" x2="490.7" y2="178.1" stroke="#505055" stroke-width="2.3" stroke-linecap="round"/>
<line x1="474.8" y1="185.7" x2="474.8" y2="178.1" stroke="#505055" stroke-width="2.3" stroke-linecap="round"/>
<circle cx="458.9" cy="185.7" r="2.0" fill="url(#gC)"/>
<circle cx="450.9" cy="189.5" r="2.0" fill="url(#gC)"/>
<circle cx="442.9" cy="185.7" r="2.0" fill="url(#gC)"/>
<circle cx="442.9" cy="178.1" r="2.0" fill="url(#gC)"/>
<circle cx="450.9" cy="174.3" r="2.0" fill="url(#gC)"/>
<circle cx="458.9" cy="178.1" r="2.0" fill="url(#gC)"/>
<circle cx="474.8" cy="185.7" r="2.0" fill="url(#gC)"/>
<circle cx="466.8" cy="189.5" r="2.0" fill="url(#gC)"/>
<circle cx="466.8" cy="174.3" r="2.0" fill="url(#gC)"/>
<circle cx="474.8" cy="178.1" r="2.0" fill="url(#gC)"/>
<circle cx="490.7" cy="185.7" r="2.0" fill="url(#gC)"/>
<circle cx="482.7" cy="189.5" r="2.0" fill="url(#gC)"/>
<circle cx="482.7" cy="174.3" r="2.0" fill="url(#gC)"/>
<circle cx="490.7" cy="178.1" r="2.0" fill="url(#gC)"/>
<circle cx="450.9" cy="197.1" r="2.0" fill="url(#gC)"/>
<circle cx="442.9" cy="200.9" r="2.0" fill="url(#gC)"/>
<circle cx="435" cy="197.1" r="2.0" fill="url(#gC)"/>
<circle cx="435" cy="189.5" r="2.0" fill="url(#gC)"/>
<circle cx="466.8" cy="197.1" r="2.0" fill="url(#gC)"/>
<circle cx="458.9" cy="200.9" r="2.0" fill="url(#gC)"/>
<circle cx="482.7" cy="197.1" r="2.0" fill="url(#gC)"/>
<circle cx="474.8" cy="200.9" r="2.0" fill="url(#gC)"/>
<circle cx="498.6" cy="197.1" r="2.0" fill="url(#gC)"/>
<circle cx="490.7" cy="200.9" r="2.0" fill="url(#gC)"/>
<circle cx="498.6" cy="189.5" r="2.0" fill="url(#gC)"/>
<circle cx="442.9" cy="208.5" r="2.0" fill="url(#gC)"/>
<circle cx="435" cy="212.3" r="2.0" fill="url(#gC)"/>
<circle cx="458.9" cy="208.5" r="2.0" fill="url(#gC)"/>
<circle cx="450.9" cy="212.3" r="2.0" fill="url(#gC)"/>
<circle cx="474.8" cy="208.5" r="2.0" fill="url(#gC)"/>
<circle cx="466.8" cy="212.3" r="2.0" fill="url(#gC)"/>
<circle cx="490.7" cy="208.5" r="2.0" fill="url(#gC)"/>
<circle cx="482.7" cy="212.3" r="2.0" fill="url(#gC)"/>
<circle cx="498.6" cy="212.3" r="2.0" fill="url(#gC)"/>
<circle cx="450.9" cy="219.9" r="2.0" fill="url(#gC)"/>
<circle cx="442.9" cy="223.7" r="2.0" fill="url(#gC)"/>
<circle cx="435" cy="219.9" r="2.0" fill="url(#gC)"/>
<circle cx="466.8" cy="219.9" r="2.0" fill="url(#gC)"/>
<circle cx="458.9" cy="223.7" r="2.0" fill="url(#gC)"/>
<circle cx="482.7" cy="219.9" r="2.0" fill="url(#gC)"/>
<circle cx="474.8" cy="223.7" r="2.0" fill="url(#gC)"/>
<circle cx="498.6" cy="219.9" r="2.0" fill="url(#gC)"/>
<circle cx="490.7" cy="223.7" r="2.0" fill="url(#gC)"/>
<circle cx="442.9" cy="231.3" r="2.0" fill="url(#gC)"/>
<circle cx="435" cy="235.1" r="2.0" fill="url(#gC)"/>
<circle cx="458.9" cy="231.3" r="2.0" fill="url(#gC)"/>
<circle cx="450.9" cy="235.1" r="2.0" fill="url(#gC)"/>
<circle cx="474.8" cy="231.3" r="2.0" fill="url(#gC)"/>
<circle cx="466.8" cy="235.1" r="2.0" fill="url(#gC)"/>
<circle cx="490.7" cy="231.3" r="2.0" fill="url(#gC)"/>
<circle cx="482.7" cy="235.1" r="2.0" fill="url(#gC)"/>
<circle cx="498.6" cy="235.1" r="2.0" fill="url(#gC)"/>
<circle cx="428.6" cy="177.2" r="2.3" fill="url(#gH)"/>
<circle cx="504.8" cy="177.2" r="2.3" fill="url(#gH)"/>
<circle cx="428.6" cy="187.6" r="2.3" fill="url(#gH)"/>
<circle cx="504.8" cy="187.6" r="2.3" fill="url(#gH)"/>
<circle cx="428.6" cy="200" r="2.3" fill="url(#gH)"/>
<circle cx="504.8" cy="200" r="2.3" fill="url(#gH)"/>
<circle cx="428.6" cy="210.5" r="2.3" fill="url(#gH)"/>
<circle cx="504.8" cy="210.5" r="2.3" fill="url(#gH)"/>
<circle cx="428.6" cy="222.9" r="2.3" fill="url(#gH)"/>
<circle cx="504.8" cy="222.9" r="2.3" fill="url(#gH)"/>
<circle cx="428.6" cy="233.4" r="2.3" fill="url(#gH)"/>
<circle cx="504.8" cy="233.4" r="2.3" fill="url(#gH)"/>
<line x1="435.3" y1="236.5" x2="435.3" y2="243" stroke="#3c3c40" stroke-width="2" />
<circle cx="435.3" cy="243.6" r="1.9" fill="url(#gC)"/>
<circle cx="435.3" cy="239.8" r="1.6" fill="url(#gC)"/>
<line x1="499.1" y1="236.5" x2="499.1" y2="243" stroke="#3c3c40" stroke-width="2" />
<circle cx="499.1" cy="243.6" r="1.9" fill="url(#gC)"/>
<circle cx="499.1" cy="239.8" r="1.6" fill="url(#gC)"/>
<line x1="321.9" y1="288.6" x2="324.9" y2="283.5" stroke="#505055" stroke-width="1.8" stroke-linecap="round"/>
<line x1="342.6" y1="303.9" x2="348.4" y2="303.9" stroke="#505055" stroke-width="1.8" stroke-linecap="round"/>
<line x1="321.9" y1="309" x2="324.9" y2="314.1" stroke="#505055" stroke-width="1.8" stroke-linecap="round"/>
<line x1="330.8" y1="283.5" x2="333.7" y2="288.6" stroke="#505055" stroke-width="1.8" stroke-linecap="round"/>
<line x1="339.6" y1="278.3" x2="342.6" y2="283.5" stroke="#505055" stroke-width="1.8" stroke-linecap="round"/>
<line x1="366.1" y1="334.5" x2="369.1" y2="329.4" stroke="#505055" stroke-width="1.8" stroke-linecap="round"/>
<line x1="330.8" y1="303.9" x2="333.7" y2="298.8" stroke="#505055" stroke-width="1.8" stroke-linecap="round"/>
<line x1="357.3" y1="339.7" x2="360.2" y2="344.8" stroke="#505055" stroke-width="1.8" stroke-linecap="round"/>
<line x1="339.6" y1="298.8" x2="342.6" y2="293.7" stroke="#505055" stroke-width="1.8" stroke-linecap="round"/>
<line x1="342.6" y1="334.5" x2="348.4" y2="334.5" stroke="#505055" stroke-width="1.8" stroke-linecap="round"/>
<line x1="330.8" y1="314.1" x2="333.7" y2="319.2" stroke="#505055" stroke-width="1.8" stroke-linecap="round"/>
<line x1="360.2" y1="303.9" x2="366.1" y2="303.9" stroke="#505055" stroke-width="1.8" stroke-linecap="round"/>
<line x1="369.1" y1="319.2" x2="375" y2="319.2" stroke="#505055" stroke-width="1.8" stroke-linecap="round"/>
<line x1="339.6" y1="329.4" x2="342.6" y2="324.3" stroke="#505055" stroke-width="1.8" stroke-linecap="round"/>
<line x1="360.2" y1="344.8" x2="366.1" y2="344.8" stroke="#505055" stroke-width="1.8" stroke-linecap="round"/>
<line x1="348.4" y1="303.9" x2="351.4" y2="298.8" stroke="#505055" stroke-width="1.8" stroke-linecap="round"/>
<line x1="357.3" y1="298.8" x2="360.2" y2="293.7" stroke="#505055" stroke-width="1.8" stroke-linecap="round"/>
<line x1="339.6" y1="309" x2="342.6" y2="314.1" stroke="#505055" stroke-width="1.8" stroke-linecap="round"/>
<line x1="348.4" y1="283.5" x2="351.4" y2="288.6" stroke="#505055" stroke-width="1.8" stroke-linecap="round"/>
<line x1="333.7" y1="278.3" x2="339.6" y2="278.3" stroke="#505055" stroke-width="1.8" stroke-linecap="round"/>
<line x1="321.9" y1="298.8" x2="324.9" y2="293.7" stroke="#505055" stroke-width="1.8" stroke-linecap="round"/>
<line x1="357.3" y1="339.7" x2="360.2" y2="334.5" stroke="#505055" stroke-width="1.8" stroke-linecap="round"/>
<line x1="324.9" y1="303.9" x2="330.8" y2="303.9" stroke="#505055" stroke-width="1.8" stroke-linecap="round"/>
<line x1="366.1" y1="314.1" x2="369.1" y2="309" stroke="#505055" stroke-width="1.8" stroke-linecap="round"/>
<line x1="348.4" y1="324.3" x2="351.4" y2="329.4" stroke="#505055" stroke-width="1.8" stroke-linecap="round"/>
<line x1="333.7" y1="319.2" x2="339.6" y2="319.2" stroke="#505055" stroke-width="1.8" stroke-linecap="round"/>
<line x1="321.9" y1="278.3" x2="324.9" y2="283.5" stroke="#505055" stroke-width="1.8" stroke-linecap="round"/>
<line x1="357.3" y1="319.2" x2="360.2" y2="324.3" stroke="#505055" stroke-width="1.8" stroke-linecap="round"/>
<line x1="366.1" y1="293.7" x2="369.1" y2="298.8" stroke="#505055" stroke-width="1.8" stroke-linecap="round"/>
<line x1="351.4" y1="288.6" x2="357.3" y2="288.6" stroke="#505055" stroke-width="1.8" stroke-linecap="round"/>
<line x1="330.8" y1="314.1" x2="333.7" y2="309" stroke="#505055" stroke-width="1.8" stroke-linecap="round"/>
<line x1="321.9" y1="319.2" x2="324.9" y2="324.3" stroke="#505055" stroke-width="1.8" stroke-linecap="round"/>
<line x1="342.6" y1="314.1" x2="348.4" y2="314.1" stroke="#505055" stroke-width="1.8" stroke-linecap="round"/>
<line x1="330.8" y1="293.7" x2="333.7" y2="298.8" stroke="#505055" stroke-width="1.8" stroke-linecap="round"/>
<line x1="369.1" y1="298.8" x2="375" y2="298.8" stroke="#505055" stroke-width="1.8" stroke-linecap="round"/>
<line x1="366.1" y1="324.3" x2="369.1" y2="329.4" stroke="#505055" stroke-width="1.8" stroke-linecap="round"/>
<line x1="351.4" y1="319.2" x2="357.3" y2="319.2" stroke="#505055" stroke-width="1.8" stroke-linecap="round"/>
<line x1="339.6" y1="288.6" x2="342.6" y2="293.7" stroke="#505055" stroke-width="1.8" stroke-linecap="round"/>
<line x1="366.1" y1="344.8" x2="369.1" y2="339.7" stroke="#505055" stroke-width="1.8" stroke-linecap="round"/>
<line x1="348.4" y1="314.1" x2="351.4" y2="309" stroke="#505055" stroke-width="1.8" stroke-linecap="round"/>
<line x1="330.8" y1="324.3" x2="333.7" y2="329.4" stroke="#505055" stroke-width="1.8" stroke-linecap="round"/>
<line x1="339.6" y1="319.2" x2="342.6" y2="324.3" stroke="#505055" stroke-width="1.8" stroke-linecap="round"/>
<line x1="324.9" y1="273.2" x2="330.8" y2="273.2" stroke="#505055" stroke-width="1.8" stroke-linecap="round"/>
<line x1="360.2" y1="314.1" x2="366.1" y2="314.1" stroke="#505055" stroke-width="1.8" stroke-linecap="round"/>
<line x1="348.4" y1="293.7" x2="351.4" y2="298.8" stroke="#505055" stroke-width="1.8" stroke-linecap="round"/>
<line x1="333.7" y1="288.6" x2="339.6" y2="288.6" stroke="#505055" stroke-width="1.8" stroke-linecap="round"/>
<line x1="369.1" y1="329.4" x2="375" y2="329.4" stroke="#505055" stroke-width="1.8" stroke-linecap="round"/>
<line x1="357.3" y1="288.6" x2="360.2" y2="293.7" stroke="#505055" stroke-width="1.8" stroke-linecap="round"/>
<line x1="324.9" y1="314.1" x2="330.8" y2="314.1" stroke="#505055" stroke-width="1.8" stroke-linecap="round"/>
<line x1="357.3" y1="309" x2="360.2" y2="303.9" stroke="#505055" stroke-width="1.8" stroke-linecap="round"/>
<line x1="348.4" y1="334.5" x2="351.4" y2="339.7" stroke="#505055" stroke-width="1.8" stroke-linecap="round"/>
<line x1="333.7" y1="329.4" x2="339.6" y2="329.4" stroke="#505055" stroke-width="1.8" stroke-linecap="round"/>
<line x1="357.3" y1="329.4" x2="360.2" y2="334.5" stroke="#505055" stroke-width="1.8" stroke-linecap="round"/>
<line x1="342.6" y1="283.5" x2="348.4" y2="283.5" stroke="#505055" stroke-width="1.8" stroke-linecap="round"/>
<line x1="351.4" y1="298.8" x2="357.3" y2="298.8" stroke="#505055" stroke-width="1.8" stroke-linecap="round"/>
<line x1="366.1" y1="303.9" x2="369.1" y2="309" stroke="#505055" stroke-width="1.8" stroke-linecap="round"/>
<line x1="321.9" y1="309" x2="324.9" y2="303.9" stroke="#505055" stroke-width="1.8" stroke-linecap="round"/>
<line x1="330.8" y1="283.5" x2="333.7" y2="278.3" stroke="#505055" stroke-width="1.8" stroke-linecap="round"/>
<line x1="321.9" y1="288.6" x2="324.9" y2="293.7" stroke="#505055" stroke-width="1.8" stroke-linecap="round"/>
<line x1="366.1" y1="334.5" x2="369.1" y2="339.7" stroke="#505055" stroke-width="1.8" stroke-linecap="round"/>
<line x1="351.4" y1="329.4" x2="357.3" y2="329.4" stroke="#505055" stroke-width="1.8" stroke-linecap="round"/>
<line x1="339.6" y1="298.8" x2="342.6" y2="303.9" stroke="#505055" stroke-width="1.8" stroke-linecap="round"/>
<line x1="360.2" y1="324.3" x2="366.1" y2="324.3" stroke="#505055" stroke-width="1.8" stroke-linecap="round"/>
<line x1="369.1" y1="339.7" x2="375" y2="339.7" stroke="#505055" stroke-width="1.8" stroke-linecap="round"/>
<line x1="339.6" y1="329.4" x2="342.6" y2="334.5" stroke="#505055" stroke-width="1.8" stroke-linecap="round"/>
<line x1="348.4" y1="303.9" x2="351.4" y2="309" stroke="#505055" stroke-width="1.8" stroke-linecap="round"/>
<line x1="333.7" y1="298.8" x2="339.6" y2="298.8" stroke="#505055" stroke-width="1.8" stroke-linecap="round"/>
<line x1="357.3" y1="298.8" x2="360.2" y2="303.9" stroke="#505055" stroke-width="1.8" stroke-linecap="round"/>
<line x1="348.4" y1="324.3" x2="351.4" y2="319.2" stroke="#505055" stroke-width="1.8" stroke-linecap="round"/>
<line x1="321.9" y1="278.3" x2="324.9" y2="273.2" stroke="#505055" stroke-width="1.8" stroke-linecap="round"/>
<line x1="324.9" y1="324.3" x2="330.8" y2="324.3" stroke="#505055" stroke-width="1.8" stroke-linecap="round"/>
<line x1="357.3" y1="319.2" x2="360.2" y2="314.1" stroke="#505055" stroke-width="1.8" stroke-linecap="round"/>
<line x1="321.9" y1="298.8" x2="324.9" y2="303.9" stroke="#505055" stroke-width="1.8" stroke-linecap="round"/>
<line x1="324.9" y1="283.5" x2="330.8" y2="283.5" stroke="#505055" stroke-width="1.8" stroke-linecap="round"/>
<line x1="342.6" y1="293.7" x2="348.4" y2="293.7" stroke="#505055" stroke-width="1.8" stroke-linecap="round"/>
<line x1="330.8" y1="273.2" x2="333.7" y2="278.3" stroke="#505055" stroke-width="1.8" stroke-linecap="round"/>
<line x1="366.1" y1="314.1" x2="369.1" y2="319.2" stroke="#505055" stroke-width="1.8" stroke-linecap="round"/>
<line x1="351.4" y1="309" x2="357.3" y2="309" stroke="#505055" stroke-width="1.8" stroke-linecap="round"/>
<line x1="321.9" y1="319.2" x2="324.9" y2="314.1" stroke="#505055" stroke-width="1.8" stroke-linecap="round"/>
<line x1="330.8" y1="293.7" x2="333.7" y2="288.6" stroke="#505055" stroke-width="1.8" stroke-linecap="round"/>
<line x1="342.6" y1="324.3" x2="348.4" y2="324.3" stroke="#505055" stroke-width="1.8" stroke-linecap="round"/>
<line x1="366.1" y1="324.3" x2="369.1" y2="319.2" stroke="#505055" stroke-width="1.8" stroke-linecap="round"/>
<line x1="339.6" y1="288.6" x2="342.6" y2="283.5" stroke="#505055" stroke-width="1.8" stroke-linecap="round"/>
<line x1="330.8" y1="324.3" x2="333.7" y2="319.2" stroke="#505055" stroke-width="1.8" stroke-linecap="round"/>
<line x1="339.6" y1="319.2" x2="342.6" y2="314.1" stroke="#505055" stroke-width="1.8" stroke-linecap="round"/>
<line x1="348.4" y1="293.7" x2="351.4" y2="288.6" stroke="#505055" stroke-width="1.8" stroke-linecap="round"/>
<line x1="330.8" y1="303.9" x2="333.7" y2="309" stroke="#505055" stroke-width="1.8" stroke-linecap="round"/>
<line x1="366.1" y1="344.8" x2="369.1" y2="349.9" stroke="#505055" stroke-width="1.8" stroke-linecap="round"/>
<line x1="348.4" y1="314.1" x2="351.4" y2="319.2" stroke="#505055" stroke-width="1.8" stroke-linecap="round"/>
<line x1="351.4" y1="339.7" x2="357.3" y2="339.7" stroke="#505055" stroke-width="1.8" stroke-linecap="round"/>
<line x1="333.7" y1="309" x2="339.6" y2="309" stroke="#505055" stroke-width="1.8" stroke-linecap="round"/>
<line x1="369.1" y1="349.9" x2="375" y2="349.9" stroke="#505055" stroke-width="1.8" stroke-linecap="round"/>
<line x1="360.2" y1="293.7" x2="366.1" y2="293.7" stroke="#505055" stroke-width="1.8" stroke-linecap="round"/>
<line x1="369.1" y1="309" x2="375" y2="309" stroke="#505055" stroke-width="1.8" stroke-linecap="round"/>
<line x1="348.4" y1="334.5" x2="351.4" y2="329.4" stroke="#505055" stroke-width="1.8" stroke-linecap="round"/>
<line x1="357.3" y1="329.4" x2="360.2" y2="324.3" stroke="#505055" stroke-width="1.8" stroke-linecap="round"/>
<line x1="324.9" y1="293.7" x2="330.8" y2="293.7" stroke="#505055" stroke-width="1.8" stroke-linecap="round"/>
<line x1="366.1" y1="303.9" x2="369.1" y2="298.8" stroke="#505055" stroke-width="1.8" stroke-linecap="round"/>
<line x1="360.2" y1="334.5" x2="366.1" y2="334.5" stroke="#505055" stroke-width="1.8" stroke-linecap="round"/>
<line x1="357.3" y1="309" x2="360.2" y2="314.1" stroke="#505055" stroke-width="1.8" stroke-linecap="round"/>
<circle cx="321.9" cy="278.3" r="1.7" fill="url(#gC)"/>
<circle cx="324.9" cy="273.2" r="1.7" fill="url(#gC)"/>
<circle cx="321.9" cy="288.6" r="1.7" fill="url(#gC)"/>
<circle cx="324.9" cy="283.5" r="1.7" fill="url(#gC)"/>
<circle cx="321.9" cy="298.8" r="1.7" fill="url(#gC)"/>
<circle cx="324.9" cy="293.7" r="1.7" fill="url(#gC)"/>
<circle cx="321.9" cy="309" r="1.7" fill="url(#gC)"/>
<circle cx="324.9" cy="303.9" r="1.7" fill="url(#gC)"/>
<circle cx="321.9" cy="319.2" r="1.7" fill="url(#gC)"/>
<circle cx="324.9" cy="314.1" r="1.7" fill="url(#gC)"/>
<circle cx="324.9" cy="324.3" r="1.7" fill="url(#gC)"/>
<circle cx="330.8" cy="273.2" r="1.7" fill="url(#gC)"/>
<circle cx="330.8" cy="283.5" r="1.7" fill="url(#gC)"/>
<circle cx="333.7" cy="278.3" r="1.7" fill="url(#gC)"/>
<circle cx="330.8" cy="293.7" r="1.7" fill="url(#gC)"/>
<circle cx="333.7" cy="288.6" r="1.7" fill="url(#gC)"/>
<circle cx="330.8" cy="303.9" r="1.7" fill="url(#gC)"/>
<circle cx="333.7" cy="298.8" r="1.7" fill="url(#gC)"/>
<circle cx="330.8" cy="314.1" r="1.7" fill="url(#gC)"/>
<circle cx="333.7" cy="309" r="1.7" fill="url(#gC)"/>
<circle cx="330.8" cy="324.3" r="1.7" fill="url(#gC)"/>
<circle cx="333.7" cy="319.2" r="1.7" fill="url(#gC)"/>
<circle cx="333.7" cy="329.4" r="1.7" fill="url(#gC)"/>
<circle cx="339.6" cy="278.3" r="1.7" fill="url(#gC)"/>
<circle cx="339.6" cy="288.6" r="1.7" fill="url(#gC)"/>
<circle cx="342.6" cy="283.5" r="1.7" fill="url(#gC)"/>
<circle cx="339.6" cy="298.8" r="1.7" fill="url(#gC)"/>
<circle cx="342.6" cy="293.7" r="1.7" fill="url(#gC)"/>
<circle cx="339.6" cy="309" r="1.7" fill="url(#gC)"/>
<circle cx="342.6" cy="303.9" r="1.7" fill="url(#gC)"/>
<circle cx="339.6" cy="319.2" r="1.7" fill="url(#gC)"/>
<circle cx="342.6" cy="314.1" r="1.7" fill="url(#gC)"/>
<circle cx="339.6" cy="329.4" r="1.7" fill="url(#gC)"/>
<circle cx="342.6" cy="324.3" r="1.7" fill="url(#gC)"/>
<circle cx="342.6" cy="334.5" r="1.7" fill="url(#gC)"/>
<circle cx="348.4" cy="283.5" r="1.7" fill="url(#gC)"/>
<circle cx="348.4" cy="293.7" r="1.7" fill="url(#gC)"/>
<circle cx="351.4" cy="288.6" r="1.7" fill="url(#gC)"/>
<circle cx="348.4" cy="303.9" r="1.7" fill="url(#gC)"/>
<circle cx="351.4" cy="298.8" r="1.7" fill="url(#gC)"/>
<circle cx="348.4" cy="314.1" r="1.7" fill="url(#gC)"/>
<circle cx="351.4" cy="309" r="1.7" fill="url(#gC)"/>
<circle cx="348.4" cy="324.3" r="1.7" fill="url(#gC)"/>
<circle cx="351.4" cy="319.2" r="1.7" fill="url(#gC)"/>
<circle cx="348.4" cy="334.5" r="1.7" fill="url(#gC)"/>
<circle cx="351.4" cy="329.4" r="1.7" fill="url(#gC)"/>
<circle cx="351.4" cy="339.7" r="1.7" fill="url(#gC)"/>
<circle cx="357.3" cy="288.6" r="1.7" fill="url(#gC)"/>
<circle cx="357.3" cy="298.8" r="1.7" fill="url(#gC)"/>
<circle cx="360.2" cy="293.7" r="1.7" fill="url(#gC)"/>
<circle cx="357.3" cy="309" r="1.7" fill="url(#gC)"/>
<circle cx="360.2" cy="303.9" r="1.7" fill="url(#gC)"/>
<circle cx="357.3" cy="319.2" r="1.7" fill="url(#gC)"/>
<circle cx="360.2" cy="314.1" r="1.7" fill="url(#gC)"/>
<circle cx="357.3" cy="329.4" r="1.7" fill="url(#gC)"/>
<circle cx="360.2" cy="324.3" r="1.7" fill="url(#gC)"/>
<circle cx="357.3" cy="339.7" r="1.7" fill="url(#gC)"/>
<circle cx="360.2" cy="334.5" r="1.7" fill="url(#gC)"/>
<circle cx="360.2" cy="344.8" r="1.7" fill="url(#gC)"/>
<circle cx="366.1" cy="293.7" r="1.7" fill="url(#gC)"/>
<circle cx="366.1" cy="303.9" r="1.7" fill="url(#gC)"/>
<circle cx="369.1" cy="298.8" r="1.7" fill="url(#gC)"/>
<circle cx="366.1" cy="314.1" r="1.7" fill="url(#gC)"/>
<circle cx="369.1" cy="309" r="1.7" fill="url(#gC)"/>
<circle cx="366.1" cy="324.3" r="1.7" fill="url(#gC)"/>
<circle cx="369.1" cy="319.2" r="1.7" fill="url(#gC)"/>
<circle cx="366.1" cy="334.5" r="1.7" fill="url(#gC)"/>
<circle cx="369.1" cy="329.4" r="1.7" fill="url(#gC)"/>
<circle cx="366.1" cy="344.8" r="1.7" fill="url(#gC)"/>
<circle cx="369.1" cy="339.7" r="1.7" fill="url(#gC)"/>
<circle cx="369.1" cy="349.9" r="1.7" fill="url(#gC)"/>
<circle cx="375" cy="298.8" r="1.7" fill="url(#gC)"/>
<circle cx="375" cy="309" r="1.7" fill="url(#gC)"/>
<circle cx="375" cy="319.2" r="1.7" fill="url(#gC)"/>
<circle cx="375" cy="329.4" r="1.7" fill="url(#gC)"/>
<circle cx="375" cy="339.7" r="1.7" fill="url(#gC)"/>
<circle cx="375" cy="349.9" r="1.7" fill="url(#gC)"/>
<line x1="486.3" y1="308.2" x2="494.2" y2="309.7" stroke="#505055" stroke-width="2.3" stroke-linecap="round"/>
<line x1="436.2" y1="292.2" x2="441.6" y2="286.8" stroke="#505055" stroke-width="2.3" stroke-linecap="round"/>
<line x1="483.3" y1="320.6" x2="491.3" y2="322.1" stroke="#505055" stroke-width="2.3" stroke-linecap="round"/>
<line x1="440.8" y1="325.3" x2="432.9" y2="323.8" stroke="#505055" stroke-width="2.3" stroke-linecap="round"/>
<line x1="499.6" y1="304.3" x2="494.2" y2="309.7" stroke="#505055" stroke-width="2.3" stroke-linecap="round"/>
<line x1="475.8" y1="299.8" x2="483.8" y2="301.3" stroke="#505055" stroke-width="2.3" stroke-linecap="round"/>
<line x1="468.3" y1="279" x2="476.3" y2="280.5" stroke="#505055" stroke-width="2.3" stroke-linecap="round"/>
<line x1="489.2" y1="295.9" x2="483.8" y2="301.3" stroke="#505055" stroke-width="2.3" stroke-linecap="round"/>
<line x1="472.9" y1="312.1" x2="467.5" y2="317.5" stroke="#505055" stroke-width="2.3" stroke-linecap="round"/>
<line x1="459.6" y1="316" x2="467.5" y2="317.5" stroke="#505055" stroke-width="2.3" stroke-linecap="round"/>
<line x1="449.2" y1="307.6" x2="457.1" y2="309.1" stroke="#505055" stroke-width="2.3" stroke-linecap="round"/>
<line x1="455" y1="282.9" x2="462.9" y2="284.4" stroke="#505055" stroke-width="2.3" stroke-linecap="round"/>
<line x1="470.4" y1="305.2" x2="472.9" y2="312.1" stroke="#505055" stroke-width="2.3" stroke-linecap="round"/>
<line x1="452.1" y1="295.2" x2="449.6" y2="288.3" stroke="#505055" stroke-width="2.3" stroke-linecap="round"/>
<line x1="432.9" y1="323.8" x2="430.4" y2="316.9" stroke="#505055" stroke-width="2.3" stroke-linecap="round"/>
<line x1="446.2" y1="319.9" x2="440.8" y2="325.3" stroke="#505055" stroke-width="2.3" stroke-linecap="round"/>
<line x1="480.8" y1="313.6" x2="483.3" y2="320.6" stroke="#505055" stroke-width="2.3" stroke-linecap="round"/>
<line x1="473.3" y1="292.8" x2="475.8" y2="299.8" stroke="#505055" stroke-width="2.3" stroke-linecap="round"/>
<line x1="438.7" y1="299.1" x2="433.3" y2="304.5" stroke="#505055" stroke-width="2.3" stroke-linecap="round"/>
<line x1="478.8" y1="287.4" x2="486.7" y2="288.9" stroke="#505055" stroke-width="2.3" stroke-linecap="round"/>
<line x1="496.7" y1="316.7" x2="491.3" y2="322.1" stroke="#505055" stroke-width="2.3" stroke-linecap="round"/>
<line x1="465.4" y1="291.3" x2="473.3" y2="292.8" stroke="#505055" stroke-width="2.3" stroke-linecap="round"/>
<line x1="470" y1="324.5" x2="464.6" y2="329.9" stroke="#505055" stroke-width="2.3" stroke-linecap="round"/>
<line x1="480.4" y1="332.9" x2="475" y2="338.3" stroke="#505055" stroke-width="2.3" stroke-linecap="round"/>
<line x1="462.5" y1="303.7" x2="457.1" y2="309.1" stroke="#505055" stroke-width="2.3" stroke-linecap="round"/>
<line x1="435.8" y1="311.5" x2="430.4" y2="316.9" stroke="#505055" stroke-width="2.3" stroke-linecap="round"/>
<line x1="464.6" y1="329.9" x2="467.1" y2="336.8" stroke="#505055" stroke-width="2.3" stroke-linecap="round"/>
<line x1="441.6" y1="286.8" x2="449.6" y2="288.3" stroke="#505055" stroke-width="2.3" stroke-linecap="round"/>
<line x1="477.9" y1="326" x2="480.4" y2="332.9" stroke="#505055" stroke-width="2.3" stroke-linecap="round"/>
<line x1="449.2" y1="307.6" x2="443.7" y2="313" stroke="#505055" stroke-width="2.3" stroke-linecap="round"/>
<line x1="452.1" y1="295.2" x2="446.7" y2="300.6" stroke="#505055" stroke-width="2.3" stroke-linecap="round"/>
<line x1="452.1" y1="295.2" x2="460" y2="296.7" stroke="#505055" stroke-width="2.3" stroke-linecap="round"/>
<line x1="472.9" y1="312.1" x2="480.8" y2="313.6" stroke="#505055" stroke-width="2.3" stroke-linecap="round"/>
<line x1="446.7" y1="300.6" x2="438.7" y2="299.1" stroke="#505055" stroke-width="2.3" stroke-linecap="round"/>
<line x1="478.8" y1="287.4" x2="473.3" y2="292.8" stroke="#505055" stroke-width="2.3" stroke-linecap="round"/>
<line x1="483.8" y1="301.3" x2="486.3" y2="308.2" stroke="#505055" stroke-width="2.3" stroke-linecap="round"/>
<line x1="489.2" y1="295.9" x2="497.1" y2="297.4" stroke="#505055" stroke-width="2.3" stroke-linecap="round"/>
<line x1="446.7" y1="300.6" x2="449.2" y2="307.6" stroke="#505055" stroke-width="2.3" stroke-linecap="round"/>
<line x1="457.1" y1="309.1" x2="459.6" y2="316" stroke="#505055" stroke-width="2.3" stroke-linecap="round"/>
<line x1="494.2" y1="309.7" x2="496.7" y2="316.7" stroke="#505055" stroke-width="2.3" stroke-linecap="round"/>
<line x1="465.4" y1="291.3" x2="460" y2="296.7" stroke="#505055" stroke-width="2.3" stroke-linecap="round"/>
<line x1="443.7" y1="313" x2="435.8" y2="311.5" stroke="#505055" stroke-width="2.3" stroke-linecap="round"/>
<line x1="467.1" y1="336.8" x2="475" y2="338.3" stroke="#505055" stroke-width="2.3" stroke-linecap="round"/>
<line x1="454.2" y1="321.4" x2="456.7" y2="328.4" stroke="#505055" stroke-width="2.3" stroke-linecap="round"/>
<line x1="467.1" y1="336.8" x2="461.7" y2="342.2" stroke="#505055" stroke-width="2.3" stroke-linecap="round"/>
<line x1="443.7" y1="313" x2="446.2" y2="319.9" stroke="#505055" stroke-width="2.3" stroke-linecap="round"/>
<line x1="470" y1="324.5" x2="477.9" y2="326" stroke="#505055" stroke-width="2.3" stroke-linecap="round"/>
<line x1="486.3" y1="308.2" x2="480.8" y2="313.6" stroke="#505055" stroke-width="2.3" stroke-linecap="round"/>
<line x1="462.5" y1="303.7" x2="470.4" y2="305.2" stroke="#505055" stroke-width="2.3" stroke-linecap="round"/>
<line x1="499.6" y1="304.3" x2="497.1" y2="297.4" stroke="#505055" stroke-width="2.3" stroke-linecap="round"/>
<line x1="446.2" y1="319.9" x2="454.2" y2="321.4" stroke="#505055" stroke-width="2.3" stroke-linecap="round"/>
<line x1="460" y1="296.7" x2="462.5" y2="303.7" stroke="#505055" stroke-width="2.3" stroke-linecap="round"/>
<line x1="483.3" y1="320.6" x2="477.9" y2="326" stroke="#505055" stroke-width="2.3" stroke-linecap="round"/>
<line x1="467.5" y1="317.5" x2="470" y2="324.5" stroke="#505055" stroke-width="2.3" stroke-linecap="round"/>
<line x1="475.8" y1="299.8" x2="470.4" y2="305.2" stroke="#505055" stroke-width="2.3" stroke-linecap="round"/>
<line x1="459.6" y1="316" x2="454.2" y2="321.4" stroke="#505055" stroke-width="2.3" stroke-linecap="round"/>
<line x1="480.4" y1="332.9" x2="488.4" y2="334.4" stroke="#505055" stroke-width="2.3" stroke-linecap="round"/>
<line x1="493.8" y1="329" x2="488.4" y2="334.4" stroke="#505055" stroke-width="2.3" stroke-linecap="round"/>
<line x1="440.8" y1="325.3" x2="443.3" y2="332.3" stroke="#505055" stroke-width="2.3" stroke-linecap="round"/>
<line x1="456.7" y1="328.4" x2="464.6" y2="329.9" stroke="#505055" stroke-width="2.3" stroke-linecap="round"/>
<line x1="456.7" y1="328.4" x2="451.2" y2="333.8" stroke="#505055" stroke-width="2.3" stroke-linecap="round"/>
<line x1="449.6" y1="288.3" x2="455" y2="282.9" stroke="#505055" stroke-width="2.3" stroke-linecap="round"/>
<line x1="489.2" y1="295.9" x2="486.7" y2="288.9" stroke="#505055" stroke-width="2.3" stroke-linecap="round"/>
<line x1="451.2" y1="333.8" x2="443.3" y2="332.3" stroke="#505055" stroke-width="2.3" stroke-linecap="round"/>
<line x1="461.7" y1="342.2" x2="453.7" y2="340.7" stroke="#505055" stroke-width="2.3" stroke-linecap="round"/>
<line x1="462.9" y1="284.4" x2="468.3" y2="279" stroke="#505055" stroke-width="2.3" stroke-linecap="round"/>
<line x1="491.3" y1="322.1" x2="493.8" y2="329" stroke="#505055" stroke-width="2.3" stroke-linecap="round"/>
<line x1="478.8" y1="287.4" x2="476.3" y2="280.5" stroke="#505055" stroke-width="2.3" stroke-linecap="round"/>
<line x1="451.2" y1="333.8" x2="453.7" y2="340.7" stroke="#505055" stroke-width="2.3" stroke-linecap="round"/>
<line x1="438.7" y1="299.1" x2="436.2" y2="292.2" stroke="#505055" stroke-width="2.3" stroke-linecap="round"/>
<line x1="465.4" y1="291.3" x2="462.9" y2="284.4" stroke="#505055" stroke-width="2.3" stroke-linecap="round"/>
<line x1="435.8" y1="311.5" x2="433.3" y2="304.5" stroke="#505055" stroke-width="2.3" stroke-linecap="round"/>
<line x1="436.2" y1="292.2" x2="430" y2="291" stroke="#8c8c92" stroke-width="2.3" stroke-linecap="round"/>
<line x1="441.6" y1="286.8" x2="439.7" y2="281.3" stroke="#8c8c92" stroke-width="2.3" stroke-linecap="round"/>
<line x1="455" y1="282.9" x2="453" y2="277.4" stroke="#8c8c92" stroke-width="2.3" stroke-linecap="round"/>
<line x1="468.3" y1="279" x2="466.4" y2="273.5" stroke="#8c8c92" stroke-width="2.3" stroke-linecap="round"/>
<line x1="476.3" y1="280.5" x2="480.5" y2="276.2" stroke="#8c8c92" stroke-width="2.3" stroke-linecap="round"/>
<line x1="433.3" y1="304.5" x2="427" y2="303.3" stroke="#8c8c92" stroke-width="2.3" stroke-linecap="round"/>
<line x1="486.7" y1="288.9" x2="491" y2="284.6" stroke="#8c8c92" stroke-width="2.3" stroke-linecap="round"/>
<line x1="432.9" y1="323.8" x2="428.6" y2="328.1" stroke="#8c8c92" stroke-width="2.3" stroke-linecap="round"/>
<line x1="430.4" y1="316.9" x2="424.1" y2="315.7" stroke="#8c8c92" stroke-width="2.3" stroke-linecap="round"/>
<line x1="499.6" y1="304.3" x2="505.9" y2="305.5" stroke="#8c8c92" stroke-width="2.3" stroke-linecap="round"/>
<line x1="497.1" y1="297.4" x2="501.4" y2="293.1" stroke="#8c8c92" stroke-width="2.3" stroke-linecap="round"/>
<line x1="443.3" y1="332.3" x2="439" y2="336.6" stroke="#8c8c92" stroke-width="2.3" stroke-linecap="round"/>
<line x1="496.7" y1="316.7" x2="503" y2="317.9" stroke="#8c8c92" stroke-width="2.3" stroke-linecap="round"/>
<line x1="461.7" y1="342.2" x2="463.6" y2="347.7" stroke="#8c8c92" stroke-width="2.3" stroke-linecap="round"/>
<line x1="453.7" y1="340.7" x2="449.5" y2="345" stroke="#8c8c92" stroke-width="2.3" stroke-linecap="round"/>
<line x1="475" y1="338.3" x2="477" y2="343.8" stroke="#8c8c92" stroke-width="2.3" stroke-linecap="round"/>
<line x1="493.8" y1="329" x2="500" y2="330.2" stroke="#8c8c92" stroke-width="2.3" stroke-linecap="round"/>
<line x1="488.4" y1="334.4" x2="490.3" y2="339.9" stroke="#8c8c92" stroke-width="2.3" stroke-linecap="round"/>
<circle cx="452.1" cy="295.2" r="2.0" fill="url(#gC)"/>
<circle cx="446.7" cy="300.6" r="2.0" fill="url(#gC)"/>
<circle cx="438.7" cy="299.1" r="2.0" fill="url(#gC)"/>
<circle cx="436.2" cy="292.2" r="2.0" fill="url(#gC)"/>
<circle cx="441.6" cy="286.8" r="2.0" fill="url(#gC)"/>
<circle cx="449.6" cy="288.3" r="2.0" fill="url(#gC)"/>
<circle cx="465.4" cy="291.3" r="2.0" fill="url(#gC)"/>
<circle cx="460" cy="296.7" r="2.0" fill="url(#gC)"/>
<circle cx="455" cy="282.9" r="2.0" fill="url(#gC)"/>
<circle cx="462.9" cy="284.4" r="2.0" fill="url(#gC)"/>
<circle cx="478.8" cy="287.4" r="2.0" fill="url(#gC)"/>
<circle cx="473.3" cy="292.8" r="2.0" fill="url(#gC)"/>
<circle cx="468.3" cy="279" r="2.0" fill="url(#gC)"/>
<circle cx="476.3" cy="280.5" r="2.0" fill="url(#gC)"/>
<circle cx="449.2" cy="307.6" r="2.0" fill="url(#gC)"/>
<circle cx="443.7" cy="313" r="2.0" fill="url(#gC)"/>
<circle cx="435.8" cy="311.5" r="2.0" fill="url(#gC)"/>
<circle cx="433.3" cy="304.5" r="2.0" fill="url(#gC)"/>
<circle cx="462.5" cy="303.7" r="2.0" fill="url(#gC)"/>
<circle cx="457.1" cy="309.1" r="2.0" fill="url(#gC)"/>
<circle cx="475.8" cy="299.8" r="2.0" fill="url(#gC)"/>
<circle cx="470.4" cy="305.2" r="2.0" fill="url(#gC)"/>
<circle cx="489.2" cy="295.9" r="2.0" fill="url(#gC)"/>
<circle cx="483.8" cy="301.3" r="2.0" fill="url(#gC)"/>
<circle cx="486.7" cy="288.9" r="2.0" fill="url(#gC)"/>
<circle cx="446.2" cy="319.9" r="2.0" fill="url(#gC)"/>
<circle cx="440.8" cy="325.3" r="2.0" fill="url(#gC)"/>
<circle cx="432.9" cy="323.8" r="2.0" fill="url(#gC)"/>
<circle cx="430.4" cy="316.9" r="2.0" fill="url(#gC)"/>
<circle cx="459.6" cy="316" r="2.0" fill="url(#gC)"/>
<circle cx="454.2" cy="321.4" r="2.0" fill="url(#gC)"/>
<circle cx="472.9" cy="312.1" r="2.0" fill="url(#gC)"/>
<circle cx="467.5" cy="317.5" r="2.0" fill="url(#gC)"/>
<circle cx="486.3" cy="308.2" r="2.0" fill="url(#gC)"/>
<circle cx="480.8" cy="313.6" r="2.0" fill="url(#gC)"/>
<circle cx="499.6" cy="304.3" r="2.0" fill="url(#gC)"/>
<circle cx="494.2" cy="309.7" r="2.0" fill="url(#gC)"/>
<circle cx="497.1" cy="297.4" r="2.0" fill="url(#gC)"/>
<circle cx="456.7" cy="328.4" r="2.0" fill="url(#gC)"/>
<circle cx="451.2" cy="333.8" r="2.0" fill="url(#gC)"/>
<circle cx="443.3" cy="332.3" r="2.0" fill="url(#gC)"/>
<circle cx="470" cy="324.5" r="2.0" fill="url(#gC)"/>
<circle cx="464.6" cy="329.9" r="2.0" fill="url(#gC)"/>
<circle cx="483.3" cy="320.6" r="2.0" fill="url(#gC)"/>
<circle cx="477.9" cy="326" r="2.0" fill="url(#gC)"/>
<circle cx="496.7" cy="316.7" r="2.0" fill="url(#gC)"/>
<circle cx="491.3" cy="322.1" r="2.0" fill="url(#gC)"/>
<circle cx="467.1" cy="336.8" r="2.0" fill="url(#gC)"/>
<circle cx="461.7" cy="342.2" r="2.0" fill="url(#gC)"/>
<circle cx="453.7" cy="340.7" r="2.0" fill="url(#gC)"/>
<circle cx="480.4" cy="332.9" r="2.0" fill="url(#gC)"/>
<circle cx="475" cy="338.3" r="2.0" fill="url(#gC)"/>
<circle cx="493.8" cy="329" r="2.0" fill="url(#gC)"/>
<circle cx="488.4" cy="334.4" r="2.0" fill="url(#gC)"/>
<circle cx="430" cy="291" r="2.4" fill="url(#gH)"/>
<circle cx="439.7" cy="281.3" r="2.4" fill="url(#gH)"/>
<circle cx="453" cy="277.4" r="2.4" fill="url(#gH)"/>
<circle cx="466.4" cy="273.5" r="2.4" fill="url(#gH)"/>
<circle cx="480.5" cy="276.2" r="2.4" fill="url(#gH)"/>
<circle cx="427" cy="303.3" r="2.4" fill="url(#gH)"/>
<circle cx="491" cy="284.6" r="2.4" fill="url(#gH)"/>
<circle cx="428.6" cy="328.1" r="2.4" fill="url(#gH)"/>
<circle cx="424.1" cy="315.7" r="2.4" fill="url(#gH)"/>
<circle cx="505.9" cy="305.5" r="2.4" fill="url(#gH)"/>
<circle cx="501.4" cy="293.1" r="2.4" fill="url(#gH)"/>
<circle cx="439" cy="336.6" r="2.4" fill="url(#gH)"/>
<circle cx="503" cy="317.9" r="2.4" fill="url(#gH)"/>
<circle cx="463.6" cy="347.7" r="2.4" fill="url(#gH)"/>
<circle cx="449.5" cy="345" r="2.4" fill="url(#gH)"/>
<circle cx="477" cy="343.8" r="2.4" fill="url(#gH)"/>
<circle cx="500" cy="330.2" r="2.4" fill="url(#gH)"/>
<circle cx="490.3" cy="339.9" r="2.4" fill="url(#gH)"/></g>
<g id="g"><line x1="601.9" y1="316.4" x2="632.6" y2="326.4" stroke="#f0899f" stroke-width="1.75" stroke-dasharray="3.2 2.6" />
<line x1="664.2" y1="326.4" x2="695.3" y2="299.9" stroke="#f0899f" stroke-width="1.75" stroke-dasharray="3.2 2.6" />
<line x1="632.1" y1="326.4" x2="664.7" y2="326.4" stroke="#f0899f" stroke-width="1.8" />
<line x1="601.9" y1="315.4" x2="632.6" y2="290.1" stroke="#d9475d" stroke-width="1.75" stroke-dasharray="3.2 2.6" />
<line x1="664.2" y1="290.1" x2="695.3" y2="299.9" stroke="#d9475d" stroke-width="1.75" stroke-dasharray="3.2 2.6" />
<line x1="632.1" y1="290.1" x2="664.7" y2="290.1" stroke="#d9475d" stroke-width="1.8" />
<line x1="601.9" y1="315.4" x2="632.6" y2="238.8" stroke="#e39a3e" stroke-width="1.75" stroke-dasharray="3.2 2.6" />
<line x1="664.2" y1="238.8" x2="695.3" y2="299.9" stroke="#e39a3e" stroke-width="1.75" stroke-dasharray="3.2 2.6" />
<line x1="632.1" y1="238.8" x2="664.7" y2="238.8" stroke="#e39a3e" stroke-width="1.8" />
<line x1="601.9" y1="315.4" x2="632.6" y2="225.7" stroke="#3f7fca" stroke-width="1.75" stroke-dasharray="3.2 2.6" />
<line x1="664.2" y1="225.7" x2="695.3" y2="299.9" stroke="#3f7fca" stroke-width="1.75" stroke-dasharray="3.2 2.6" />
<line x1="632.1" y1="225.7" x2="664.7" y2="225.7" stroke="#3f7fca" stroke-width="1.8" />
<line x1="601.9" y1="315.4" x2="632.6" y2="183" stroke="#1d1d45" stroke-width="1.75" stroke-dasharray="3.2 2.6" />
<line x1="664.2" y1="183" x2="695.3" y2="299.9" stroke="#1d1d45" stroke-width="1.75" stroke-dasharray="3.2 2.6" />
<line x1="632.1" y1="183" x2="664.7" y2="183" stroke="#1d1d45" stroke-width="1.8" />
<line x1="570.7" y1="316.4" x2="601.9" y2="316.4" stroke="#d9475d" stroke-width="1.8" stroke-dasharray="4 1.6" />
<line x1="695.3" y1="299.9" x2="726.3" y2="299.9" stroke="#111" stroke-width="1.8" /><line x1="756.3" y1="299.9" x2="787.2" y2="299.9" stroke="#111" stroke-width="1.8" />
<line x1="726.3" y1="299.9" x2="756.3" y2="299.9" stroke="#1d1d45" stroke-width="1.8" stroke-dasharray="3 3" /><line x1="729.3" y1="299.9" x2="756.3" y2="299.9" stroke="#e0566a" stroke-width="1.8" stroke-dasharray="3 3" />
<rect x="570.7" y="170.9" width="216.5" height="164.20000000000002" fill="none" stroke="#3a3a3a" stroke-width="1"/>
<line x1="570.7" y1="316.4" x2="574.3" y2="316.4" stroke="#3a3a3a" stroke-width="1" />
<text x="568" y="320.2" font-size="11" text-anchor="end" fill="#111" >0.0</text>
<line x1="570.7" y1="278" x2="574.3" y2="278" stroke="#3a3a3a" stroke-width="1" />
<text x="568" y="281.8" font-size="11" text-anchor="end" fill="#111" >0.5</text>
<line x1="570.7" y1="239.5" x2="574.3" y2="239.5" stroke="#3a3a3a" stroke-width="1" />
<text x="568" y="243.3" font-size="11" text-anchor="end" fill="#111" >1.0</text>
<line x1="570.7" y1="201.1" x2="574.3" y2="201.1" stroke="#3a3a3a" stroke-width="1" />
<text x="568" y="204.9" font-size="11" text-anchor="end" fill="#111" >1.5</text>
<line x1="570.7" y1="297.2" x2="572.9" y2="297.2" stroke="#3a3a3a" stroke-width="1" />
<line x1="570.7" y1="258.8" x2="572.9" y2="258.8" stroke="#3a3a3a" stroke-width="1" />
<line x1="570.7" y1="220.3" x2="572.9" y2="220.3" stroke="#3a3a3a" stroke-width="1" />
<line x1="570.7" y1="181.9" x2="572.9" y2="181.9" stroke="#3a3a3a" stroke-width="1" />
<text transform="translate(545.3,253.8) rotate(-90)" font-size="11.8" text-anchor="middle" fill="#111">Free energy (eV)</text>
<text x="537.8" y="181" font-size="13" font-weight="bold" text-anchor="start" fill="#111" >(g)</text>
<text x="587.2" y="349.8" font-size="11.6" text-anchor="middle" fill="#111" >CO<tspan font-size="8" dy="2.6">2</tspan><tspan dy="-2.6"> (g)</tspan></text>
<text x="650.3" y="349.8" font-size="11.6" text-anchor="middle" fill="#111" >COOH<tspan font-size="8" dy="-4.4">*</tspan></text>
<text x="710.7" y="349.8" font-size="11.6" text-anchor="middle" fill="#111" >CO<tspan font-size="8" dy="-4.4">*</tspan></text>
<text x="769.8" y="349.8" font-size="11.6" text-anchor="middle" fill="#111" >CO (g)</text>
<line x1="698.8" y1="182.8" x2="721.5" y2="182.8" stroke="#1d1d45" stroke-width="1.6" stroke-dasharray="3.4 2.4" />
<text x="726" y="185.9" font-size="9.4" font-weight="bold" text-anchor="start" fill="#111" textLength="21.3" lengthAdjust="spacingAndGlyphs">Bluk</text>
<line x1="698.8" y1="196.6" x2="721.5" y2="196.6" stroke="#d9475d" stroke-width="1.6" stroke-dasharray="3.4 2.4" />
<text x="726" y="199.7" font-size="9.4" font-weight="bold" text-anchor="start" fill="#111" textLength="40.0" lengthAdjust="spacingAndGlyphs">Octagon</text>
<line x1="698.8" y1="209.8" x2="721.5" y2="209.8" stroke="#3f7fca" stroke-width="1.6" stroke-dasharray="3.4 2.4" />
<text x="726" y="212.9" font-size="9.4" font-weight="bold" text-anchor="start" fill="#111" textLength="31.2" lengthAdjust="spacingAndGlyphs">Zigzag</text>
<line x1="698.8" y1="223" x2="721.5" y2="223" stroke="#e39a3e" stroke-width="1.6" stroke-dasharray="3.4 2.4" />
<text x="726" y="226.1" font-size="9.4" font-weight="bold" text-anchor="start" fill="#111" textLength="43.2" lengthAdjust="spacingAndGlyphs">Armchair</text>
<line x1="698.8" y1="236" x2="721.5" y2="236" stroke="#f0899f" stroke-width="1.6" stroke-dasharray="3.4 2.4" />
<text x="726" y="239.1" font-size="9.4" font-weight="bold" text-anchor="start" fill="#111" textLength="44.9" lengthAdjust="spacingAndGlyphs">Pentagon</text></g>
<g id="h"><defs>
<filter id="fh1" x="0" y="0" width="100%" height="100%" color-interpolation-filters="sRGB">
<feTurbulence type="turbulence" baseFrequency="0.085 0.09" numOctaves="1" seed="7" result="t"/>
<feColorMatrix in="t" type="matrix" values="-2.3 0 0 0 0.56  -2.3 0 0 0 0.56  -2.3 0 0 0 0.56  0 0 0 0 1" result="w"/>
<feGaussianBlur in="w" stdDeviation="1.9" result="wb"/>
<feTurbulence type="fractalNoise" baseFrequency="0.11" numOctaves="1" seed="31" result="m0"/>
<feColorMatrix in="m0" type="matrix" values="1 0 0 0 0  1 0 0 0 0  1 0 0 0 0  0 0 0 0 1" result="m"/>
<feComposite in="wb" in2="m" operator="arithmetic" k1="3.3" k2="-0.5" k3="0" k4="0" result="c0"/>
<feComponentTransfer in="c0" result="c"><feFuncR type="linear" slope="1.4" intercept="-0.24"/><feFuncG type="linear" slope="1.4" intercept="-0.24"/><feFuncB type="linear" slope="1.4" intercept="-0.24"/></feComponentTransfer>
<feTurbulence type="fractalNoise" baseFrequency="0.5" numOctaves="1" seed="2" result="n"/>
<feColorMatrix in="n" type="matrix" values="0.4 0 0 0 -0.2  0.4 0 0 0 -0.2  0.4 0 0 0 -0.2  0 0 0 0 1" result="n2"/>
<feComposite in="c" in2="n2" operator="arithmetic" k1="0" k2="1" k3="0.5" k4="0"/>
</filter>
<filter id="fh2" x="0" y="0" width="100%" height="100%" color-interpolation-filters="sRGB">
<feTurbulence type="turbulence" baseFrequency="0.066 0.07" numOctaves="1" seed="23" result="t"/>
<feColorMatrix in="t" type="matrix" values="-3.1 0 0 0 0.96  0 0 0 0 0  0 0 0 0 0  0 0 0 0 1" result="r"/>
<feGaussianBlur in="r" stdDeviation="2.0" result="rb"/>
<feComponentTransfer in="rb"><feFuncR type="table" tableValues="0 0.06 0.2 0.4 0.6 0.74 0.8"/><feFuncG type="table" tableValues="0 0.0 0.02 0.05 0.1 0.15 0.2"/><feFuncB type="table" tableValues="0 0.0 0.01 0.03 0.07 0.1 0.14"/></feComponentTransfer>
</filter>
<filter id="fh3" x="0" y="0" width="100%" height="100%" color-interpolation-filters="sRGB">
<feTurbulence type="turbulence" baseFrequency="0.3" numOctaves="1" seed="5" result="t"/>
<feColorMatrix in="t" type="matrix" values="-0.3 0 0 0 0.15  -2.0 0 0 0 0.72  -1.3 0 0 0 0.72  0 0 0 0 1" result="w"/>
<feGaussianBlur in="w" stdDeviation="0.75" result="wb"/>
<feTurbulence type="fractalNoise" baseFrequency="0.22" numOctaves="1" seed="9" result="m0"/>
<feColorMatrix in="m0" type="matrix" values="0 0 0 0 0.6  8 0 0 0 -4.45  -1.0 0 0 0 1.0  0 0 0 0 1" result="m"/>
<feComposite in="wb" in2="m" operator="arithmetic" k1="1.4" k2="0.32" k3="0" k4="0"/>
</filter>
<filter id="bh" x="-50%" y="-50%" width="200%" height="200%"><feGaussianBlur stdDeviation="0.7"/></filter>
<filter id="bh2" x="-5%" y="-5%" width="110%" height="110%"><feGaussianBlur stdDeviation="3.0"/></filter>
<filter id="bh3" x="-5%" y="-5%" width="110%" height="110%"><feGaussianBlur stdDeviation="3.2"/></filter>
</defs>
<rect x="0.5" y="363.8" width="178.1" height="158.5" fill="#000"/>
<rect x="0.5" y="363.8" width="178.1" height="158.5" filter="url(#fh1)"/>
<rect x="0" y="362" width="33.1" height="26.5" fill="#fff"/>
<text x="7.4" y="380.9" font-size="13" font-weight="bold" text-anchor="start" fill="#111" >(h<tspan font-size="9" dy="2.8">1</tspan><tspan dy="-2.8">)</tspan></text>
<rect x="107" y="363.2" width="72.2" height="66.8" fill="#000"/><rect x="107" y="363.2" width="72.2" height="66.8" filter="url(#fh3)"/>
<rect x="107.4" y="363.8" width="71.6" height="66" fill="none" stroke="#f2b233" stroke-width="1.8" stroke-dasharray="5 2.4"/>
<rect x="109.9" y="512.8" width="65.2" height="2.3" fill="#fff"/>
<text x="143.2" y="510" font-size="12" font-weight="bold" text-anchor="middle" fill="#fff" >0.5 nm</text>
<rect x="185.0" y="364.0" width="177.9" height="158.7" fill="#000"/>
<clipPath id="ch2b"><rect x="185.0" y="364.0" width="177.9" height="158.7"/></clipPath>
<g clip-path="url(#ch2b)"><rect x="180.0" y="359.0" width="187.9" height="168.7" fill="#dc2c1f"/>
<g filter="url(#bh2)">
<ellipse cx="274.2" cy="380" rx="9.6" ry="7.4" fill="#000" transform="rotate(175 274.2 380)"/>
<ellipse cx="278.9" cy="399" rx="9.9" ry="7" fill="#000" transform="rotate(76 278.9 399)"/>
<ellipse cx="299.3" cy="400.5" rx="7.7" ry="7.1" fill="#000" transform="rotate(34 299.3 400.5)"/>
<ellipse cx="289.9" cy="418.5" rx="8.3" ry="6" fill="#000" transform="rotate(58 289.9 418.5)"/>
<ellipse cx="253.8" cy="428" rx="6.8" ry="6.2" fill="#000" transform="rotate(87 253.8 428)"/>
<ellipse cx="274.2" cy="433.5" rx="9.1" ry="7.1" fill="#000" transform="rotate(86 274.2 433.5)"/>
<ellipse cx="313.5" cy="428" rx="8.3" ry="6.9" fill="#000" transform="rotate(124 313.5 428)"/>
<ellipse cx="297.8" cy="441" rx="8.5" ry="7.8" fill="#000" transform="rotate(162 297.8 441)"/>
<ellipse cx="274.2" cy="455.5" rx="8.8" ry="7" fill="#000" transform="rotate(59 274.2 455.5)"/>
<ellipse cx="246" cy="407" rx="8.2" ry="6.8" fill="#000" transform="rotate(144 246 407)"/>
<ellipse cx="268.9" cy="414.5" rx="7.5" ry="7.1" fill="#000" transform="rotate(112 268.9 414.5)"/>
<ellipse cx="296.2" cy="385.5" rx="9.4" ry="6.9" fill="#000" transform="rotate(107 296.2 385.5)"/>
<ellipse cx="233.4" cy="440.5" rx="9.1" ry="6.1" fill="#000" transform="rotate(150 233.4 440.5)"/>
<ellipse cx="308.8" cy="453" rx="8.7" ry="6.5" fill="#000" transform="rotate(140 308.8 453)"/>
<ellipse cx="182.6" cy="366.9" rx="6.3" ry="5.9" fill="#000" transform="rotate(70 182.6 366.9)"/>
<ellipse cx="205.8" cy="360.9" rx="8" ry="6.7" fill="#000" transform="rotate(90 205.8 360.9)"/>
<ellipse cx="220.8" cy="363.3" rx="9.8" ry="7.6" fill="#000" transform="rotate(128 220.8 363.3)"/>
<ellipse cx="237" cy="360.8" rx="9.1" ry="6.8" fill="#000" transform="rotate(159 237 360.8)"/>
<ellipse cx="259.1" cy="361.1" rx="8.7" ry="7" fill="#000" transform="rotate(82 259.1 361.1)"/>
<ellipse cx="280.7" cy="361.2" rx="8.1" ry="6.6" fill="#000" transform="rotate(36 280.7 361.2)"/>
<ellipse cx="293.4" cy="362.7" rx="7.7" ry="6.6" fill="#000" transform="rotate(168 293.4 362.7)"/>
<ellipse cx="312.1" cy="365.4" rx="7.4" ry="5.4" fill="#000" transform="rotate(84 312.1 365.4)"/>
<ellipse cx="330.6" cy="366.3" rx="8.1" ry="6" fill="#000" transform="rotate(171 330.6 366.3)"/>
<ellipse cx="350.9" cy="364.7" rx="8" ry="6.9" fill="#000" transform="rotate(41 350.9 364.7)"/>
<ellipse cx="369.2" cy="360.6" rx="9.3" ry="7.5" fill="#000" transform="rotate(172 369.2 360.6)"/>
<ellipse cx="197.6" cy="384.1" rx="7.8" ry="7.2" fill="#000" transform="rotate(58 197.6 384.1)"/>
<ellipse cx="211.7" cy="379.7" rx="7.8" ry="7.3" fill="#000" transform="rotate(59 211.7 379.7)"/>
<ellipse cx="232.5" cy="377.9" rx="6.7" ry="5.9" fill="#000" transform="rotate(31 232.5 377.9)"/>
<ellipse cx="248.8" cy="380.7" rx="9" ry="7.2" fill="#000" transform="rotate(122 248.8 380.7)"/>
<ellipse cx="323.2" cy="379.8" rx="9.2" ry="6.8" fill="#000" transform="rotate(33 323.2 379.8)"/>
<ellipse cx="339.4" cy="381" rx="8.3" ry="5.9" fill="#000" transform="rotate(119 339.4 381)"/>
<ellipse cx="362.2" cy="377.3" rx="7.3" ry="6" fill="#000" transform="rotate(50 362.2 377.3)"/>
<ellipse cx="378.1" cy="381.6" rx="6.5" ry="5.8" fill="#000" transform="rotate(124 378.1 381.6)"/>
<ellipse cx="184.7" cy="395.2" rx="7.5" ry="6.4" fill="#000" transform="rotate(157 184.7 395.2)"/>
<ellipse cx="203.3" cy="400.6" rx="8.8" ry="6.4" fill="#000" transform="rotate(102 203.3 400.6)"/>
<ellipse cx="225.3" cy="394.9" rx="8.3" ry="6.7" fill="#000" transform="rotate(171 225.3 394.9)"/>
<ellipse cx="239.5" cy="395.1" rx="9.3" ry="6.9" fill="#000" transform="rotate(74 239.5 395.1)"/>
<ellipse cx="262" cy="393.7" rx="8.5" ry="5.8" fill="#000" transform="rotate(133 262 393.7)"/>
<ellipse cx="311.2" cy="398.2" rx="8.7" ry="7.2" fill="#000" transform="rotate(66 311.2 398.2)"/>
<ellipse cx="336.6" cy="397.3" rx="6.9" ry="6.1" fill="#000" transform="rotate(36 336.6 397.3)"/>
<ellipse cx="350.2" cy="399.4" rx="7.4" ry="6.7" fill="#000" transform="rotate(78 350.2 399.4)"/>
<ellipse cx="371" cy="395.4" rx="7.4" ry="6.3" fill="#000" transform="rotate(141 371 395.4)"/>
<ellipse cx="194.1" cy="414.9" rx="7.2" ry="6.2" fill="#000" transform="rotate(153 194.1 414.9)"/>
<ellipse cx="216" cy="416.8" rx="6.4" ry="5.7" fill="#000" transform="rotate(58 216 416.8)"/>
<ellipse cx="229.7" cy="416.6" rx="7.3" ry="6.2" fill="#000" transform="rotate(65 229.7 416.6)"/>
<ellipse cx="303.5" cy="415.3" rx="9.5" ry="6.9" fill="#000" transform="rotate(93 303.5 415.3)"/>
<ellipse cx="321.1" cy="416.7" rx="8.5" ry="6" fill="#000" transform="rotate(53 321.1 416.7)"/>
<ellipse cx="340.4" cy="413.5" rx="9.7" ry="7.4" fill="#000" transform="rotate(61 340.4 413.5)"/>
<ellipse cx="361.2" cy="414.8" rx="8.2" ry="7.3" fill="#000" transform="rotate(113 361.2 414.8)"/>
<ellipse cx="382.6" cy="415.8" rx="6.9" ry="6.6" fill="#000" transform="rotate(47 382.6 415.8)"/>
<ellipse cx="185.6" cy="433.5" rx="9.8" ry="7.1" fill="#000" transform="rotate(164 185.6 433.5)"/>
<ellipse cx="204.1" cy="429.5" rx="6.7" ry="6.1" fill="#000" transform="rotate(126 204.1 429.5)"/>
<ellipse cx="223.7" cy="431.1" rx="6.8" ry="6.1" fill="#000" transform="rotate(21 223.7 431.1)"/>
<ellipse cx="331.6" cy="433.7" rx="7.3" ry="7.4" fill="#000" transform="rotate(133 331.6 433.7)"/>
<ellipse cx="351.8" cy="431.5" rx="7.1" ry="6.2" fill="#000" transform="rotate(140 351.8 431.5)"/>
<ellipse cx="370.2" cy="432" rx="7.5" ry="5.9" fill="#000" transform="rotate(129 370.2 432)"/>
<ellipse cx="192.4" cy="446.6" rx="7.3" ry="6.7" fill="#000" transform="rotate(6 192.4 446.6)"/>
<ellipse cx="214.1" cy="444.7" rx="6.8" ry="5.5" fill="#000" transform="rotate(173 214.1 444.7)"/>
<ellipse cx="251.6" cy="448.4" rx="9.2" ry="7.9" fill="#000" transform="rotate(56 251.6 448.4)"/>
<ellipse cx="267.3" cy="443.9" rx="7.5" ry="6.3" fill="#000" transform="rotate(131 267.3 443.9)"/>
<ellipse cx="286.3" cy="444.9" rx="9" ry="6.9" fill="#000" transform="rotate(173 286.3 444.9)"/>
<ellipse cx="322.5" cy="450.4" rx="7.4" ry="6.1" fill="#000" transform="rotate(166 322.5 450.4)"/>
<ellipse cx="341.2" cy="445.7" rx="8.4" ry="6.3" fill="#000" transform="rotate(88 341.2 445.7)"/>
<ellipse cx="360.3" cy="445.2" rx="7.7" ry="6.8" fill="#000" transform="rotate(10 360.3 445.2)"/>
<ellipse cx="379.3" cy="448.7" rx="6.4" ry="6.3" fill="#000" transform="rotate(16 379.3 448.7)"/>
<ellipse cx="184.7" cy="464.7" rx="9" ry="6.7" fill="#000" transform="rotate(128 184.7 464.7)"/>
<ellipse cx="201.7" cy="463.6" rx="8.8" ry="6.8" fill="#000" transform="rotate(90 201.7 463.6)"/>
<ellipse cx="224.4" cy="461.9" rx="9.3" ry="6.3" fill="#000" transform="rotate(103 224.4 461.9)"/>
<ellipse cx="242.4" cy="463.1" rx="7.1" ry="6.5" fill="#000" transform="rotate(117 242.4 463.1)"/>
<ellipse cx="260.2" cy="467.3" rx="8.3" ry="6.9" fill="#000" transform="rotate(42 260.2 467.3)"/>
<ellipse cx="297.7" cy="462.6" rx="8.8" ry="6.8" fill="#000" transform="rotate(73 297.7 462.6)"/>
<ellipse cx="330.4" cy="461.9" rx="7.9" ry="6.9" fill="#000" transform="rotate(52 330.4 461.9)"/>
<ellipse cx="349.7" cy="460.6" rx="7.7" ry="6.5" fill="#000" transform="rotate(159 349.7 460.6)"/>
<ellipse cx="368.5" cy="467" rx="7.8" ry="6.5" fill="#000" transform="rotate(156 368.5 467)"/>
<ellipse cx="193.5" cy="483.2" rx="8.8" ry="7.1" fill="#000" transform="rotate(83 193.5 483.2)"/>
<ellipse cx="211.5" cy="477.9" rx="7.1" ry="6.6" fill="#000" transform="rotate(135 211.5 477.9)"/>
<ellipse cx="233.7" cy="481.3" rx="8.9" ry="7.1" fill="#000" transform="rotate(2 233.7 481.3)"/>
<ellipse cx="249.1" cy="481.4" rx="7" ry="6.5" fill="#000" transform="rotate(80 249.1 481.4)"/>
<ellipse cx="267.6" cy="479.7" rx="6.9" ry="6.7" fill="#000" transform="rotate(81 267.6 479.7)"/>
<ellipse cx="286" cy="482.8" rx="6.7" ry="6.1" fill="#000" transform="rotate(52 286 482.8)"/>
<ellipse cx="303.1" cy="478.8" rx="10" ry="6.9" fill="#000" transform="rotate(16 303.1 478.8)"/>
<ellipse cx="323.9" cy="477.3" rx="9" ry="7.4" fill="#000" transform="rotate(173 323.9 477.3)"/>
<ellipse cx="344.9" cy="482.9" rx="7.3" ry="6.1" fill="#000" transform="rotate(11 344.9 482.9)"/>
<ellipse cx="362.4" cy="479.1" rx="7.1" ry="6.4" fill="#000" transform="rotate(81 362.4 479.1)"/>
<ellipse cx="381.9" cy="482.9" rx="7" ry="6.2" fill="#000" transform="rotate(80 381.9 482.9)"/>
<ellipse cx="187.7" cy="493.8" rx="8" ry="6.2" fill="#000" transform="rotate(52 187.7 493.8)"/>
<ellipse cx="200" cy="494.8" rx="8.1" ry="6.1" fill="#000" transform="rotate(24 200 494.8)"/>
<ellipse cx="223.6" cy="495.7" rx="7.7" ry="6" fill="#000" transform="rotate(41 223.6 495.7)"/>
<ellipse cx="238.2" cy="495.8" rx="8.8" ry="7.4" fill="#000" transform="rotate(119 238.2 495.8)"/>
<ellipse cx="259.8" cy="494.3" rx="8.5" ry="6.8" fill="#000" transform="rotate(86 259.8 494.3)"/>
<ellipse cx="277.8" cy="496.8" rx="9.3" ry="7" fill="#000" transform="rotate(173 277.8 496.8)"/>
<ellipse cx="297.1" cy="499.4" rx="7.1" ry="6.8" fill="#000" transform="rotate(135 297.1 499.4)"/>
<ellipse cx="315.5" cy="497" rx="8.2" ry="6.7" fill="#000" transform="rotate(39 315.5 497)"/>
<ellipse cx="332.2" cy="496.6" rx="7.1" ry="6.8" fill="#000" transform="rotate(54 332.2 496.6)"/>
<ellipse cx="353" cy="495.6" rx="8" ry="7.4" fill="#000" transform="rotate(83 353 495.6)"/>
<ellipse cx="369.9" cy="499.8" rx="8.3" ry="7.4" fill="#000" transform="rotate(115 369.9 499.8)"/>
<ellipse cx="197.5" cy="515.2" rx="7.9" ry="6.4" fill="#000" transform="rotate(100 197.5 515.2)"/>
<ellipse cx="212.1" cy="514.6" rx="9.6" ry="6.6" fill="#000" transform="rotate(146 212.1 514.6)"/>
<ellipse cx="233.7" cy="511.2" rx="7.4" ry="6" fill="#000" transform="rotate(36 233.7 511.2)"/>
<ellipse cx="246.9" cy="510.9" rx="6.2" ry="6" fill="#000" transform="rotate(83 246.9 510.9)"/>
<ellipse cx="264.7" cy="512" rx="7.5" ry="6.1" fill="#000" transform="rotate(11 264.7 512)"/>
<ellipse cx="288.1" cy="514.7" rx="8.2" ry="7.6" fill="#000" transform="rotate(124 288.1 514.7)"/>
<ellipse cx="308.6" cy="515.6" rx="9.6" ry="6.9" fill="#000" transform="rotate(22 308.6 515.6)"/>
<ellipse cx="320.4" cy="511.9" rx="9.8" ry="7.2" fill="#000" transform="rotate(177 320.4 511.9)"/>
<ellipse cx="342.1" cy="511.7" rx="8.7" ry="6.7" fill="#000" transform="rotate(126 342.1 511.7)"/>
<ellipse cx="360.2" cy="514.2" rx="8.3" ry="6.7" fill="#000" transform="rotate(70 360.2 514.2)"/>
<ellipse cx="377.4" cy="510.9" rx="8.2" ry="6.8" fill="#000" transform="rotate(134 377.4 510.9)"/>
</g>
<g filter="url(#bh3)" opacity="0.35">
<circle cx="274.7" cy="395.6" r="12.2" fill="#3a0503"/>
<circle cx="303.8" cy="404.3" r="12.2" fill="#3a0503"/>
<circle cx="249.2" cy="431.3" r="11.3" fill="#3a0503"/>
<circle cx="271.2" cy="432.9" r="11.8" fill="#3a0503"/>
<circle cx="293.4" cy="445.1" r="12.4" fill="#3a0503"/>
<circle cx="276.5" cy="451.9" r="12.3" fill="#3a0503"/>
<circle cx="243.1" cy="406.4" r="12.1" fill="#3a0503"/>
<circle cx="305.6" cy="451" r="11.9" fill="#3a0503"/>
<circle cx="219.2" cy="367.9" r="12.2" fill="#3a0503"/>
<circle cx="232.8" cy="358.5" r="12.3" fill="#3a0503"/>
<circle cx="282.9" cy="357.4" r="11.5" fill="#3a0503"/>
<circle cx="313" cy="367.8" r="10.8" fill="#3a0503"/>
<circle cx="355.8" cy="363.8" r="11.6" fill="#3a0503"/>
<circle cx="230.2" cy="379.8" r="11.1" fill="#3a0503"/>
<circle cx="325.9" cy="379.6" r="12.1" fill="#3a0503"/>
<circle cx="335.2" cy="376.1" r="11" fill="#3a0503"/>
<circle cx="366.5" cy="379.1" r="11.2" fill="#3a0503"/>
<circle cx="205.3" cy="402.1" r="11.6" fill="#3a0503"/>
<circle cx="243.4" cy="391.6" r="12" fill="#3a0503"/>
<circle cx="263.8" cy="396.2" r="11.2" fill="#3a0503"/>
<circle cx="334.6" cy="399.6" r="10.7" fill="#3a0503"/>
<circle cx="354" cy="397.5" r="12.2" fill="#3a0503"/>
<circle cx="369.1" cy="397.5" r="11.6" fill="#3a0503"/>
<circle cx="190.4" cy="410.5" r="11.2" fill="#3a0503"/>
<circle cx="217.2" cy="421.7" r="11" fill="#3a0503"/>
<circle cx="229.4" cy="415.2" r="11.2" fill="#3a0503"/>
<circle cx="301.9" cy="411.3" r="11.9" fill="#3a0503"/>
<circle cx="318.8" cy="412.3" r="11.5" fill="#3a0503"/>
<circle cx="344.7" cy="415.7" r="12.5" fill="#3a0503"/>
<circle cx="200.2" cy="434.3" r="11.4" fill="#3a0503"/>
<circle cx="354.7" cy="431.8" r="10.9" fill="#3a0503"/>
<circle cx="367.4" cy="436.7" r="11.4" fill="#3a0503"/>
<circle cx="209.9" cy="447.2" r="10.9" fill="#3a0503"/>
<circle cx="251.4" cy="444.8" r="12.4" fill="#3a0503"/>
<circle cx="267.3" cy="443.1" r="11.6" fill="#3a0503"/>
<circle cx="282.9" cy="444.4" r="11.9" fill="#3a0503"/>
<circle cx="318.1" cy="450.2" r="10.7" fill="#3a0503"/>
<circle cx="343.6" cy="448.3" r="11.1" fill="#3a0503"/>
<circle cx="184" cy="463.8" r="12.2" fill="#3a0503"/>
<circle cx="205.3" cy="459" r="12.2" fill="#3a0503"/>
<circle cx="301.6" cy="467.3" r="11.6" fill="#3a0503"/>
<circle cx="197" cy="484" r="12.3" fill="#3a0503"/>
<circle cx="235" cy="482.2" r="12.1" fill="#3a0503"/>
<circle cx="288.2" cy="480.1" r="11" fill="#3a0503"/>
<circle cx="303.4" cy="481.1" r="12.4" fill="#3a0503"/>
<circle cx="320.4" cy="474.2" r="12.2" fill="#3a0503"/>
<circle cx="363" cy="483" r="10.9" fill="#3a0503"/>
<circle cx="379.1" cy="483.9" r="11.1" fill="#3a0503"/>
<circle cx="187.1" cy="490.6" r="11.3" fill="#3a0503"/>
<circle cx="228.4" cy="495.7" r="11" fill="#3a0503"/>
<circle cx="301.4" cy="495.4" r="11.6" fill="#3a0503"/>
<circle cx="355.2" cy="496.2" r="12.4" fill="#3a0503"/>
<circle cx="371.2" cy="499.3" r="11.9" fill="#3a0503"/>
<circle cx="235.1" cy="513.2" r="10.8" fill="#3a0503"/>
<circle cx="305.5" cy="519.6" r="12.4" fill="#3a0503"/>
<circle cx="324.4" cy="508.1" r="12.4" fill="#3a0503"/>
<circle cx="343.3" cy="507" r="12.1" fill="#3a0503"/>
<circle cx="363.2" cy="513" r="11.3" fill="#3a0503"/>
<circle cx="373" cy="515.4" r="11.8" fill="#3a0503"/>
</g></g>
<clipPath id="ch2"><rect x="185.0" y="364.0" width="177.9" height="158.7"/></clipPath>
<g clip-path="url(#ch2)" filter="url(#bh)">
<circle cx="202" cy="452" r="4.4" fill="#c09a20" opacity="0.75"/>
<circle cx="202" cy="452" r="3.4" fill="#3dbb48"/>
<circle cx="202" cy="452" r="1.44" fill="#2458c8"/>
<circle cx="244.4" cy="452.7" r="3.55" fill="#c09a20" opacity="0.75"/>
<circle cx="244.4" cy="452.7" r="2.55" fill="#3dbb48"/>
<circle cx="203.6" cy="484" r="4.824999999999999" fill="#c09a20" opacity="0.75"/>
<circle cx="203.6" cy="484" r="3.8249999999999997" fill="#3dbb48"/>
<circle cx="203.6" cy="484" r="1.6199999999999999" fill="#2458c8"/>
<circle cx="230.3" cy="498.2" r="4.4" fill="#c09a20" opacity="0.75"/>
<circle cx="230.3" cy="498.2" r="3.4" fill="#3dbb48"/>
<circle cx="207.6" cy="505.1" r="4.824999999999999" fill="#c09a20" opacity="0.75"/>
<circle cx="207.6" cy="505.1" r="3.8249999999999997" fill="#3dbb48"/>
<circle cx="207.6" cy="505.1" r="1.6199999999999999" fill="#2458c8"/>
<circle cx="268.9" cy="428.5" r="3.55" fill="#c09a20" opacity="0.75"/>
<circle cx="268.9" cy="428.5" r="2.55" fill="#3dbb48"/>
<circle cx="320.7" cy="431.6" r="3.975" fill="#c09a20" opacity="0.75"/>
<circle cx="320.7" cy="431.6" r="2.975" fill="#3dbb48"/>
<circle cx="291.5" cy="451" r="4.0600000000000005" fill="#c09a20" opacity="0.75"/>
<circle cx="291.5" cy="451" r="3.06" fill="#3dbb48"/>
<circle cx="283.6" cy="470" r="3.55" fill="#c09a20" opacity="0.75"/>
<circle cx="283.6" cy="470" r="2.55" fill="#3dbb48"/>
<circle cx="318.2" cy="459" r="3.125" fill="#c09a20" opacity="0.75"/>
<circle cx="318.2" cy="459" r="2.125" fill="#3dbb48"/>
<circle cx="332.3" cy="482.5" r="4.4" fill="#c09a20" opacity="0.75"/>
<circle cx="332.3" cy="482.5" r="3.4" fill="#3dbb48"/>
<circle cx="357.5" cy="434.7" r="3.55" fill="#c09a20" opacity="0.75"/>
<circle cx="357.5" cy="434.7" r="2.55" fill="#3dbb48"/>
<circle cx="315" cy="520" r="3.975" fill="#c09a20" opacity="0.75"/>
<circle cx="315" cy="520" r="2.975" fill="#3dbb48"/>
<circle cx="315" cy="520" r="1.26" fill="#2458c8"/>
<circle cx="354.3" cy="515.5" r="3.55" fill="#c09a20" opacity="0.75"/>
<circle cx="354.3" cy="515.5" r="2.55" fill="#3dbb48"/>
<circle cx="354.3" cy="515.5" r="1.08" fill="#2458c8"/>
<circle cx="327.6" cy="380.4" r="2.5300000000000002" fill="#c09a20" opacity="0.75"/>
<circle cx="327.6" cy="380.4" r="1.53" fill="#3dbb48"/>
<circle cx="227" cy="407" r="2.5300000000000002" fill="#c09a20" opacity="0.75"/>
<circle cx="227" cy="407" r="1.53" fill="#3dbb48"/>
<circle cx="277.4" cy="389.8" r="2.275" fill="#c09a20" opacity="0.75"/>
<circle cx="277.4" cy="389.8" r="1.275" fill="#3dbb48"/>
<circle cx="344" cy="497" r="2.5300000000000002" fill="#c09a20" opacity="0.75"/>
<circle cx="344" cy="497" r="1.53" fill="#3dbb48"/>
<circle cx="300" cy="500" r="2.275" fill="#c09a20" opacity="0.75"/>
<circle cx="300" cy="500" r="1.275" fill="#3dbb48"/>
</g>
<polygon points="262.3,378.8 271.1,368.8 286.8,368.8 291.5,378.8 285.2,391.4 267.9,393" fill="none" stroke="#e9b63c" stroke-width="1.1" stroke-dasharray="3 1.6"/>
<polygon points="267.9,393 285.2,391.4 293.1,400.8 286.8,411.8 274.2,407.1 264.8,400.8" fill="none" stroke="#e9b63c" stroke-width="1.1" stroke-dasharray="3 1.6"/>
<polygon points="291.5,394.5 307.2,393 315.1,404 311.9,416.5 297.8,415 288.4,407.1" fill="none" stroke="#e9b63c" stroke-width="1.1" stroke-dasharray="3 1.6"/>
<polygon points="283.6,415 297.8,415 304.1,424.4 299.3,435.4 285.2,435.4 278.9,427.5" fill="none" stroke="#e9b63c" stroke-width="1.1" stroke-dasharray="3 1.6"/>
<polygon points="241.2,427.5 250.7,421.2 264.8,426 266.4,436.9 256.9,443.2 244.4,440.1" fill="none" stroke="#e9b63c" stroke-width="1.1" stroke-dasharray="3 1.6"/>
<polygon points="266.4,436.9 278.9,427.5 285.2,435.4 288.4,444.8 277.4,451.1 264.8,446.4" fill="none" stroke="#e9b63c" stroke-width="1.1" stroke-dasharray="3 1.6"/>
<polygon points="304.1,424.4 311.9,416.5 322.9,422.8 324.5,433.8 315.1,441.7 305.6,436.9" fill="none" stroke="#e9b63c" stroke-width="1.1" stroke-dasharray="3 1.6"/>
<polygon points="288.4,444.8 299.3,435.4 305.6,436.9 310.3,447.9 304.1,454.2 291.5,452.7" fill="none" stroke="#e9b63c" stroke-width="1.1" stroke-dasharray="3 1.6"/>
<polygon points="264.8,451.1 277.4,451.1 285.2,457.4 282.1,469.9 269.5,473.1 263.2,463.6" fill="none" stroke="#e9b63c" stroke-width="1.1" stroke-dasharray="3 1.6"/>
<polygon points="286.8,382 297.8,377.3 310.3,380.4 307.2,393 291.5,394.5" fill="none" stroke="#f0d0d8" stroke-width="1.1" stroke-dasharray="3 1.6"/>
<polygon points="224,407.1 242.8,395.2 262.3,400.2 260.1,415 238.1,421.2" fill="none" stroke="#f0d0d8" stroke-width="1.1" stroke-dasharray="3 1.6"/>
<polygon points="262.3,410.3 274.2,407.1 283.6,415 278.9,427.5 264.8,426" fill="none" stroke="#f0d0d8" stroke-width="1.1" stroke-dasharray="3 1.6"/>
<polygon points="222.4,438.5 235,433.8 247.5,440.1 242.8,451.1 227.1,452.7" fill="none" stroke="#f0d0d8" stroke-width="1.1" stroke-dasharray="3 1.6"/>
<polygon points="299.3,454.2 310.3,447.9 324.5,454.2 318.2,462.1 304.1,463.6" fill="none" stroke="#f0d0d8" stroke-width="1.1" stroke-dasharray="3 1.6"/>
<text x="274.2" y="383.6" font-size="11" font-weight="bold" text-anchor="middle" fill="#f1c843" >6</text>
<text x="278.9" y="402.4" font-size="11" font-weight="bold" text-anchor="middle" fill="#f1c843" >6</text>
<text x="299.3" y="404" font-size="11" font-weight="bold" text-anchor="middle" fill="#f1c843" >6</text>
<text x="289.9" y="422.2" font-size="11" font-weight="bold" text-anchor="middle" fill="#f1c843" >6</text>
<text x="253.8" y="431.6" font-size="11" font-weight="bold" text-anchor="middle" fill="#f1c843" >6</text>
<text x="274.2" y="437" font-size="11" font-weight="bold" text-anchor="middle" fill="#f1c843" >6</text>
<text x="313.5" y="431.6" font-size="11" font-weight="bold" text-anchor="middle" fill="#f1c843" >6</text>
<text x="297.8" y="444.8" font-size="11" font-weight="bold" text-anchor="middle" fill="#f1c843" >6</text>
<text x="274.2" y="458.9" font-size="11" font-weight="bold" text-anchor="middle" fill="#f1c843" >6</text>
<text x="246" y="410.3" font-size="11" font-weight="bold" text-anchor="middle" fill="#fff" >5</text>
<text x="268.9" y="418.1" font-size="11" font-weight="bold" text-anchor="middle" fill="#fff" >5</text>
<text x="296.2" y="388.9" font-size="11" font-weight="bold" text-anchor="middle" fill="#fff" >5</text>
<text x="233.4" y="444.2" font-size="11" font-weight="bold" text-anchor="middle" fill="#fff" >5</text>
<text x="308.8" y="456.7" font-size="11" font-weight="bold" text-anchor="middle" fill="#fff" >5</text>
<path d="M158.6,441 L205,441 L205,437.5 L222,445 L205,452.5 L205,449 L158.6,449 Z" fill="none" stroke="#e9a23a" stroke-width="1.1" stroke-dasharray="3.5 1.8"/>
<rect x="184.7" y="363" width="35.2" height="27" fill="#fff"/>
<text x="191.6" y="380.9" font-size="13" font-weight="bold" text-anchor="start" fill="#111" >(h<tspan font-size="9" dy="2.8">2</tspan><tspan dy="-2.8">)</tspan></text>
<rect x="292.4" y="512.8" width="66.6" height="2.3" fill="#fff"/>
<text x="325.2" y="510.5" font-size="12" font-weight="bold" text-anchor="middle" fill="#fff" >0.5 nm</text></g>
<g id="i"><clipPath id="ci"><rect x="392.2" y="365.6" width="175.3" height="131.59999999999997"/></clipPath><g clip-path="url(#ci)">
<polyline points="392.2,494.4 393.7,494.4 395.8,494.4 398.1,494.4 400,494.4 401.5,494.4 402.8,494.3 404,494.2 405,494 405.9,493.7 406.7,493.3 407.4,492.8 408,492.3 408.6,491.7 409.1,491.1 409.5,490.4 410,489.6 410.5,488.7 411,487.7 411.4,486.5 411.9,485 412.3,483.1 412.7,481 413.1,478.6 413.5,476 413.9,473.3 414.2,470.5 414.6,467.3 415,463.7 415.4,459.6 415.8,455 416.2,450.1 416.6,444.9 417,439.4 417.4,433.6 417.7,427.6 418.1,421.7 418.4,415.5 418.7,409.1 419,403 419.3,397.7 419.6,393.3 419.8,389.6 420.1,386.6 420.3,384.4 420.5,383.1 420.7,382.6 420.8,382.8 421,383.6 421.2,384.7 421.4,386.4 421.6,388.9 421.8,392.2 422,396.8 422.3,402.6 422.6,408.7 422.9,414.1 423.2,418.9 423.6,423.3 424,427.3 424.4,430.9 424.8,433.7 425.2,436.1 425.6,438 426,439.8 426.4,441.3 426.7,442.6 427.1,443.7 427.5,444.7 427.9,445.7 428.3,446.6 428.7,447.4 429.1,448 429.6,448.4 430,448.6 430.5,448.7 431,448.6 431.5,448.5 432,448.1 432.5,447.7 432.9,447.1 433.3,446.3 433.6,445.4 433.9,444.5 434.2,443.8 434.4,443.3 434.5,442.9 434.6,442.7 434.8,442.6 435,442.7 435.2,443 435.5,443.4 435.8,443.9 436.1,444.5 436.5,445.3 436.9,446 437.3,446.3 437.8,446.2 438.3,445.7 438.9,445.1 439.5,444.2 440.2,443.1 440.9,441.8 441.6,440.3 442.3,438.8 442.9,437.4 443.5,435.9 444,434.3 444.5,432.5 445,430.5 445.5,428.2 446,425.7 446.4,422.9 446.8,419.6 447.2,415.9 447.6,412 448,408 448.4,403.9 448.8,399.4 449.2,395.2 449.6,391.7 449.9,389 450.2,387 450.4,385.4 450.7,384.1 450.9,383.1 451.2,382.4 451.4,381.9 451.8,381.5 452.3,381 453,380.6 453.7,380.4 454.3,380.2 454.8,380.2 455.2,380.4 455.6,380.6 456,380.8 456.5,381.2 456.9,381.7 457.5,382.1 458,382.6 458.6,383.1 459.2,383.5 459.8,384 460.5,384.3 461.2,384.5 462,384.7 462.8,384.7 463.7,384.5 464.7,384.3 465.9,383.9 467.1,383.3 468.4,382.5 469.9,381.4 471.4,379.9 473.1,378.5 474.7,377.3 476.3,376.5 477.9,375.8 479.4,375.3 481,375 482.5,374.8 484.1,374.9 485.6,375 487,375.1 488.3,375.2 489.5,375.3 490.7,375.4 492,375.4 493.5,375.3 495.1,375.2 496.7,375 498.3,374.7 499.7,374.5 501.1,374.2 502.5,373.9 504,373.6 505.6,373.3 507.4,373.1 509.1,372.8 510.8,372.6 512.4,372.4 513.9,372.2 515.5,372 517,371.8 518.6,371.7 520.3,371.6 522,371.6 523.4,371.6 524.6,371.6 525.6,371.6 526.5,371.7 527.5,371.8 528.4,372 529.4,372.3 530.3,372.6 531.3,373 532.4,373.5 533.6,374 534.8,374.7 536,375.4 537.2,376.1 538.4,377 539.6,377.9 540.7,378.8 541.7,379.8 542.6,380.9 543.6,382 544.5,383.3 545.5,384.6 546.5,386.1 547.5,387.6 548.6,389.2 549.7,390.7 550.7,392.3 551.9,393.9 553,395.5 554.2,397 555.5,398.6 556.7,400 558,401.3 559.3,402.4 560.5,403.3 561.8,404.1 563,404.9 564.3,405.7 565.6,406.5 566.7,407.1 567.5,407.6" fill="none" stroke="#f07a78" stroke-width="1.0" />
<polyline points="392.2,494.4 393.7,494.4 395.8,494.4 398.1,494.4 400,494.4 401.5,494.4 402.8,494.3 404,494.2 405,494 405.9,493.7 406.7,493.3 407.4,492.8 408,492.3 408.6,491.7 409.1,491.1 409.5,490.4 410,489.6 410.5,488.7 411,487.7 411.4,486.5 411.9,485 412.3,483.1 412.7,481 413.1,478.6 413.5,476 413.9,473.3 414.2,470.5 414.6,467.3 415,463.7 415.4,459.6 415.8,455 416.2,450.1 416.6,444.8 417,439.1 417.4,432.9 417.7,426.5 418.1,419.9 418.4,412.8 418.7,405.2 419,397.9 419.3,391.5 419.6,385.9 419.8,381 420.1,377 420.3,374 420.5,372.3 420.7,371.6 420.8,371.8 421,372.7 421.2,374.2 421.4,376.4 421.6,379.5 421.8,383.6 422,389.4 422.3,396.5 422.6,403.9 422.9,410.5 423.2,416.2 423.6,421.5 424,426.3 424.4,430.3 424.8,433.4 425.2,435.8 425.6,437.6 426,439.2 426.4,440.5 426.7,441.5 427.1,442.2 427.5,442.9 427.9,443.6 428.3,444.2 428.7,444.7 429.1,445.1 429.6,445.3 430,445.3 430.5,445.3 431,445.1 431.5,444.9 432,444.5 432.5,444.1 432.9,443.5 433.3,442.7 433.6,441.8 433.9,440.9 434.2,440.2 434.4,439.7 434.5,439.3 434.6,439.1 434.8,439 435,439.1 435.2,439.4 435.5,439.8 435.8,440.3 436.1,441 436.5,441.9 436.9,442.6 437.3,443.1 437.8,443.3 438.3,443.2 438.9,442.9 439.5,442.4 440.2,441.8 440.9,440.9 441.6,439.9 442.3,438.7 442.9,437.4 443.5,436 444,434.4 444.5,432.5 445,430.5 445.5,428.2 446,425.8 446.4,422.9 446.8,419.6 447.2,415.9 447.6,411.9 448,408 448.4,403.7 448.8,399.2 449.2,394.8 449.6,391.2 449.9,388.5 450.2,386.3 450.4,384.6 450.7,383.1 450.9,381.9 451.2,381 451.4,380.3 451.8,379.7 452.3,379 453,378.5 453.7,378.1 454.3,377.9 454.8,378.1 455.2,378.5 455.6,379.1 456,379.7 456.5,380.3 456.9,381 457.5,381.8 458,382.4 458.6,383 459.2,383.6 459.8,384.1 460.5,384.5 461.2,384.8 462,384.9 462.8,385 463.7,384.9 464.7,384.7 465.9,384.4 467.1,384 468.4,383.3 469.9,382.2 471.4,380.9 473.1,379.5 474.7,378.4 476.3,377.6 477.9,376.9 479.4,376.3 481,375.9 482.5,375.6 484.1,375.6 485.6,375.6 487,375.6 488.3,375.6 489.5,375.6 490.7,375.7 492,375.6 493.5,375.5 495.1,375.3 496.7,375 498.3,374.8 499.7,374.5 501.1,374.2 502.5,373.9 504,373.6 505.6,373.3 507.4,373.1 509.1,372.8 510.8,372.6 512.4,372.4 513.9,372.2 515.5,372 517,371.8 518.6,371.7 520.3,371.6 522,371.6 523.4,371.6 524.6,371.6 525.6,371.6 526.5,371.6 527.5,371.8 528.4,372.1 529.4,372.4 530.3,372.8 531.3,373.3 532.4,373.9 533.6,374.6 534.8,375.3 536,376.1 537.2,377 538.4,378 539.6,379 540.7,380.1 541.7,381.2 542.6,382.3 543.6,383.5 544.5,384.9 545.5,386.3 546.5,387.9 547.5,389.5 548.6,391.2 549.7,392.8 550.7,394.5 551.9,396.3 553,397.9 554.2,399.6 555.5,401.3 556.7,402.8 558,404.2 559.3,405.3 560.5,406.2 561.8,407 563,407.8 564.3,408.6 565.6,409.4 566.7,410 567.5,410.5" fill="none" stroke="#2e9a48" stroke-width="1.0" />
<polyline points="392.2,494.4 393.7,494.4 395.8,494.4 398.1,494.4 400,494.4 401.5,494.4 402.8,494.3 404,494.2 405,494 405.9,493.7 406.7,493.3 407.4,492.8 408,492.3 408.6,491.7 409.1,491.1 409.5,490.4 410,489.6 410.5,488.7 411,487.7 411.4,486.5 411.9,485 412.3,483.1 412.7,481 413.1,478.6 413.5,476 413.9,473.3 414.2,470.5 414.6,467.3 415,463.7 415.4,459.6 415.8,455 416.2,450.1 416.6,444.9 417,439.5 417.4,433.8 417.7,428 418.1,422.2 418.4,416.3 418.7,410.3 419,404.5 419.3,399.6 419.6,395.6 419.8,392.2 420.1,389.4 420.3,387.5 420.5,386.3 420.7,385.9 420.8,386.1 421,386.8 421.2,387.9 421.4,389.5 421.6,391.7 421.8,394.7 422,399.1 422.3,404.5 422.6,410.1 422.9,415.2 423.2,419.6 423.6,423.8 424,427.6 424.4,431 424.8,433.7 425.2,436 425.6,437.9 426,439.6 426.4,441 426.7,442.2 427.1,443.2 427.5,444.1 427.9,445 428.3,445.8 428.7,446.5 429.1,447 429.6,447.3 430,447.5 430.5,447.6 431,447.5 431.5,447.3 432,446.9 432.5,446.5 432.9,445.9 433.3,445.1 433.6,444.2 433.9,443.3 434.2,442.6 434.4,442.1 434.5,441.7 434.6,441.5 434.8,441.4 435,441.5 435.2,441.8 435.5,442.2 435.8,442.7 436.1,443.4 436.5,444.2 436.9,444.9 437.3,445.3 437.8,445.2 438.3,444.9 438.9,444.3 439.5,443.6 440.2,442.7 440.9,441.5 441.6,440.2 442.3,438.8 442.9,437.4 443.5,436 444,434.3 444.5,432.5 445,430.5 445.5,428.2 446,425.7 446.4,422.9 446.8,419.6 447.2,415.9 447.6,412 448,408 448.4,403.7 448.8,399.2 449.2,394.9 449.6,391.3 449.9,388.6 450.2,386.5 450.4,384.8 450.7,383.3 450.9,382.1 451.2,381.3 451.4,380.6 451.8,380 452.3,379.4 453,378.9 453.7,378.6 454.3,378.4 454.8,378.5 455.2,378.9 455.6,379.4 456,379.9 456.5,380.5 456.9,381.2 457.5,381.9 458,382.5 458.6,383.1 459.2,383.6 459.8,384.1 460.5,384.5 461.2,384.7 462,384.9 462.8,385 463.7,384.9 464.7,384.7 465.9,384.4 467.1,383.9 468.4,383.2 469.9,382.1 471.4,380.8 473.1,379.4 474.7,378.3 476.3,377.5 477.9,376.8 479.4,376.2 481,375.8 482.5,375.6 484.1,375.5 485.6,375.5 487,375.5 488.3,375.6 489.5,375.6 490.7,375.6 492,375.6 493.5,375.5 495.1,375.3 496.7,375 498.3,374.8 499.7,374.5 501.1,374.2 502.5,373.9 504,373.6 505.6,373.3 507.4,373.1 509.1,372.8 510.8,372.6 512.4,372.4 513.9,372.2 515.5,372 517,371.8 518.6,371.7 520.3,371.6 522,371.6 523.4,371.6 524.6,371.6 525.6,371.6 526.5,371.7 527.5,371.8 528.4,372 529.4,372.2 530.3,372.5 531.3,372.9 532.4,373.3 533.6,373.8 534.8,374.4 536,375 537.2,375.8 538.4,376.5 539.6,377.4 540.7,378.3 541.7,379.3 542.6,380.3 543.6,381.4 544.5,382.6 545.5,383.9 546.5,385.4 547.5,386.9 548.6,388.3 549.7,389.9 550.7,391.4 551.9,393 553,394.5 554.2,396 555.5,397.5 556.7,398.9 558,400.1 559.3,401.2 560.5,402.1 561.8,402.9 563,403.7 564.3,404.5 565.6,405.3 566.7,405.9 567.5,406.4" fill="none" stroke="#3d49c4" stroke-width="1.1" />
<polyline points="392.2,494.4 393.7,494.4 395.8,494.4 398.1,494.4 400,494.4 401.5,494.4 402.8,494.3 404,494.2 405,494 405.9,493.7 406.7,493.3 407.4,492.8 408,492.3 408.6,491.7 409.1,491.1 409.5,490.4 410,489.6 410.5,488.7 411,487.7 411.4,486.5 411.9,485 412.3,483.1 412.7,481 413.1,478.6 413.5,476 413.9,473.3 414.2,470.5 414.6,467.3 415,463.7 415.4,459.6 415.8,455 416.2,450.1 416.6,445 417,439.7 417.4,434.1 417.7,428.4 418.1,422.9 418.4,417.3 418.7,411.7 419,406.5 419.3,402 419.6,398.4 419.8,395.4 420.1,393.1 420.3,391.4 420.5,390.4 420.7,390.1 420.8,390.3 421,391 421.2,392 421.4,393.3 421.6,395.3 421.8,398 422,401.9 422.3,406.8 422.6,412 422.9,416.6 423.2,420.7 423.6,424.5 424,428 424.4,431 424.8,433.5 425.2,435.5 425.6,437.2 426,438.6 426.4,439.7 426.7,440.4 427.1,440.9 427.5,441.3 427.9,441.7 428.3,442 428.7,442.2 429.1,442.3 429.6,442.3 430,442.2 430.5,442 431,441.8 431.5,441.5 432,441.1 432.5,440.7 432.9,440.1 433.3,439.3 433.6,438.4 433.9,437.5 434.2,436.8 434.4,436.3 434.5,435.9 434.6,435.7 434.8,435.6 435,435.7 435.2,436 435.5,436.5 435.8,437 436.1,437.7 436.5,438.6 436.9,439.5 437.3,440.1 437.8,440.5 438.3,440.8 438.9,440.9 439.5,440.8 440.2,440.5 440.9,440.1 441.6,439.5 442.3,438.6 442.9,437.4 443.5,436 444,434.4 444.5,432.5 445,430.5 445.5,428.2 446,425.8 446.4,422.9 446.8,419.6 447.2,415.9 447.6,412 448,408 448.4,403.8 448.8,399.3 449.2,395 449.6,391.4 449.9,388.7 450.2,386.6 450.4,384.9 450.7,383.5 450.9,382.4 451.2,381.6 451.4,380.9 451.8,380.4 452.3,379.8 453,379.4 453.7,379 454.3,378.9 454.8,379 455.2,379.3 455.6,379.7 456,380.2 456.5,380.7 456.9,381.4 457.5,382 458,382.6 458.6,383.2 459.2,383.7 459.8,384.2 460.5,384.6 461.2,384.9 462,385.1 462.8,385.2 463.7,385.1 464.7,384.9 465.9,384.7 467.1,384.2 468.4,383.6 469.9,382.6 471.4,381.3 473.1,380 474.7,378.9 476.3,378.1 477.9,377.3 479.4,376.8 481,376.3 482.5,376 484.1,375.9 485.6,375.8 487,375.8 488.3,375.8 489.5,375.8 490.7,375.8 492,375.7 493.5,375.5 495.1,375.3 496.7,375.1 498.3,374.8 499.7,374.5 501.1,374.2 502.5,373.9 504,373.6 505.6,373.3 507.4,373.1 509.1,372.8 510.8,372.6 512.4,372.4 513.9,372.2 515.5,372 517,371.8 518.6,371.7 520.3,371.6 522,371.6 523.4,371.6 524.6,371.6 525.6,371.6 526.5,371.7 527.5,371.8 528.4,371.9 529.4,372.1 530.3,372.3 531.3,372.6 532.4,373 533.6,373.4 534.8,373.8 536,374.4 537.2,375 538.4,375.7 539.6,376.5 540.7,377.3 541.7,378.2 542.6,379.1 543.6,380.2 544.5,381.3 545.5,382.5 546.5,383.9 547.5,385.3 548.6,386.7 549.7,388.1 550.7,389.6 551.9,391.1 553,392.5 554.2,393.9 555.5,395.2 556.7,396.5 558,397.7 559.3,398.7 560.5,399.7 561.8,400.5 563,401.3 564.3,402.1 565.6,402.9 566.7,403.5 567.5,404" fill="none" stroke="#0c0c0c" stroke-width="1.4" />
</g>
<rect x="392.2" y="365.6" width="175.3" height="131.59999999999997" fill="none" stroke="#3a3a3a" stroke-width="1.1"/>
<line x1="392.2" y1="497.2" x2="392.2" y2="494.6" stroke="#3a3a3a" stroke-width="0.9" />
<line x1="404.7" y1="497.2" x2="404.7" y2="494.6" stroke="#3a3a3a" stroke-width="0.9" />
<line x1="417.2" y1="497.2" x2="417.2" y2="494.6" stroke="#3a3a3a" stroke-width="0.9" />
<line x1="429.8" y1="497.2" x2="429.8" y2="494.6" stroke="#3a3a3a" stroke-width="0.9" />
<line x1="442.3" y1="497.2" x2="442.3" y2="494.6" stroke="#3a3a3a" stroke-width="0.9" />
<line x1="454.8" y1="497.2" x2="454.8" y2="494.6" stroke="#3a3a3a" stroke-width="0.9" />
<line x1="467.3" y1="497.2" x2="467.3" y2="494.6" stroke="#3a3a3a" stroke-width="0.9" />
<line x1="479.9" y1="497.2" x2="479.9" y2="494.6" stroke="#3a3a3a" stroke-width="0.9" />
<line x1="492.4" y1="497.2" x2="492.4" y2="494.6" stroke="#3a3a3a" stroke-width="0.9" />
<line x1="504.9" y1="497.2" x2="504.9" y2="494.6" stroke="#3a3a3a" stroke-width="0.9" />
<line x1="517.5" y1="497.2" x2="517.5" y2="494.6" stroke="#3a3a3a" stroke-width="0.9" />
<line x1="530" y1="497.2" x2="530" y2="494.6" stroke="#3a3a3a" stroke-width="0.9" />
<line x1="542.5" y1="497.2" x2="542.5" y2="494.6" stroke="#3a3a3a" stroke-width="0.9" />
<line x1="555" y1="497.2" x2="555" y2="494.6" stroke="#3a3a3a" stroke-width="0.9" />
<line x1="567.5" y1="497.2" x2="567.5" y2="494.6" stroke="#3a3a3a" stroke-width="0.9" />
<text x="391.4" y="509.8" font-size="10.7" text-anchor="middle" fill="#111" >280</text>
<text x="417.2" y="509.8" font-size="10.7" text-anchor="middle" fill="#111" >285</text>
<text x="442.3" y="509.8" font-size="10.7" text-anchor="middle" fill="#111" >290</text>
<text x="467.3" y="509.8" font-size="10.7" text-anchor="middle" fill="#111" >295</text>
<text x="492.4" y="509.8" font-size="10.7" text-anchor="middle" fill="#111" >300</text>
<text x="517.5" y="509.8" font-size="10.7" text-anchor="middle" fill="#111" >305</text>
<text x="542.5" y="509.8" font-size="10.7" text-anchor="middle" fill="#111" >310</text>
<text x="567.8" y="509.8" font-size="10.7" text-anchor="middle" fill="#111" >315</text>
<text x="481.8" y="521.2" font-size="11.6" text-anchor="middle" fill="#111" >Photon energy (eV)</text>
<text transform="translate(388.2,431.2) rotate(-90)" font-size="12" text-anchor="middle" fill="#111">Intensity (a.u.)</text>
<text x="369.2" y="378.9" font-size="13" font-weight="bold" text-anchor="start" fill="#111" >(i)</text>
<rect x="415.6" y="370.7" width="10.6" height="29.2" fill="none" stroke="#4a4a4a" stroke-width="1"/>
<text x="405.2" y="383.6" font-size="7" font-weight="bold" text-anchor="start" fill="#111" >π*</text>
<text x="453" y="374.2" font-size="7" font-weight="bold" text-anchor="start" fill="#111" >σ*</text>
<line x1="426.2" y1="383.6" x2="453.5" y2="393.1" stroke="#222" stroke-width="0.9" />
<polygon points="456.1,394 451.2,394.4 452.6,390.6" fill="#111"/>
<rect x="456.1" y="388.6" width="57.299999999999955" height="76.19999999999999" fill="#fff"/>
<clipPath id="ci2"><rect x="456.1" y="388.6" width="57.299999999999955" height="76.19999999999999"/></clipPath><g clip-path="url(#ci2)">
<polyline points="452.5,476.1 454.1,470.1 455.7,464.1 457.3,458.2 458.9,452.4 460.4,446.6 462,440.9 463.6,435.3 465.2,429.8 466.8,424.4 468.4,419.2 470,414.2 471.6,409.5 473.1,405.1 474.7,401 476.3,397.5 477.9,394.6 479.5,392.5 481.1,391.2 482.7,390.9 484.2,391.4 485.8,392.6 487.4,394.5 489,397 490.6,400 492.2,403.3 493.8,407.1 495.4,411.1 496.9,415.3 498.5,419.7 500.1,424.3 501.7,429 503.3,433.9 504.9,438.8 506.5,443.7 508.1,448.8 509.6,453.9 511.2,459 512.8,464.2 514.4,469.4 516,474.7" fill="none" stroke="#52b942" stroke-width="1.2" stroke-dasharray="3 1.6" />
<polygon points="455.7,462.6 454.3,465.2 457.1,465.2" fill="#52b942"/>
<polygon points="460.4,445.1 459,447.7 461.8,447.7" fill="#52b942"/>
<polygon points="465.2,428.3 463.8,430.9 466.6,430.9" fill="#52b942"/>
<polygon points="470,412.7 468.6,415.3 471.4,415.3" fill="#52b942"/>
<polygon points="474.7,399.5 473.3,402.1 476.1,402.1" fill="#52b942"/>
<polygon points="479.5,391 478.1,393.6 480.9,393.6" fill="#52b942"/>
<polygon points="484.2,389.9 482.9,392.5 485.6,392.5" fill="#52b942"/>
<polygon points="489,395.5 487.6,398.1 490.4,398.1" fill="#52b942"/>
<polygon points="493.8,405.6 492.4,408.2 495.2,408.2" fill="#52b942"/>
<polygon points="498.5,418.2 497.1,420.8 499.9,420.8" fill="#52b942"/>
<polygon points="503.3,432.4 501.9,435 504.7,435" fill="#52b942"/>
<polygon points="508.1,447.3 506.7,449.9 509.5,449.9" fill="#52b942"/>
<polygon points="512.8,462.7 511.4,465.3 514.2,465.3" fill="#52b942"/>
<polyline points="457,474.8 458.4,470.2 459.7,465.7 461.1,461.1 462.5,456.7 463.9,452.3 465.2,447.9 466.6,443.6 468,439.4 469.3,435.3 470.7,431.3 472.1,427.5 473.4,423.9 474.8,420.5 476.2,417.5 477.6,414.9 478.9,412.8 480.3,411.3 481.7,410.5 483,410.5 484.4,411 485.8,412 487.1,413.6 488.5,415.5 489.9,417.8 491.2,420.3 492.6,423.2 494,426.2 495.4,429.3 496.7,432.6 498.1,436 499.5,439.5 500.8,443.1 502.2,446.7 503.6,450.4 504.9,454.1 506.3,457.9 507.7,461.7 509.1,465.5 510.4,469.4 511.8,473.3" fill="none" stroke="#e8504c" stroke-width="1.2" stroke-dasharray="3 1.6" />
<polygon points="459.7,464.2 458.3,466.8 461.1,466.8" fill="#e8504c"/>
<polygon points="463.9,450.8 462.5,453.4 465.2,453.4" fill="#e8504c"/>
<polygon points="468,437.9 466.6,440.5 469.4,440.5" fill="#e8504c"/>
<polygon points="472.1,426 470.7,428.6 473.5,428.6" fill="#e8504c"/>
<polygon points="476.2,416 474.8,418.6 477.6,418.6" fill="#e8504c"/>
<polygon points="480.3,409.8 478.9,412.4 481.7,412.4" fill="#e8504c"/>
<polygon points="484.4,409.5 483,412.1 485.8,412.1" fill="#e8504c"/>
<polygon points="488.5,414 487.1,416.6 489.9,416.6" fill="#e8504c"/>
<polygon points="492.6,421.7 491.2,424.3 494,424.3" fill="#e8504c"/>
<polygon points="496.7,431.1 495.3,433.7 498.1,433.7" fill="#e8504c"/>
<polygon points="500.8,441.6 499.4,444.2 502.2,444.2" fill="#e8504c"/>
<polygon points="504.9,452.6 503.6,455.2 506.3,455.2" fill="#e8504c"/>
<polygon points="509.1,464 507.7,466.6 510.5,466.6" fill="#e8504c"/>
<polyline points="457.8,474.9 459.1,470.4 460.4,466 461.8,461.5 463.1,457.2 464.4,452.8 465.8,448.5 467.1,444.3 468.4,440.2 469.7,436.2 471.1,432.2 472.4,428.5 473.7,424.9 475,421.6 476.4,418.7 477.7,416.1 479,414 480.3,412.5 481.7,411.7 483,411.7 484.3,412.2 485.6,413.2 486.9,414.7 488.3,416.6 489.6,418.8 490.9,421.3 492.2,424.1 493.6,427.1 494.9,430.2 496.2,433.4 497.6,436.8 498.9,440.2 500.2,443.7 501.5,447.3 502.9,450.9 504.2,454.6 505.5,458.3 506.8,462 508.2,465.8 509.5,469.6 510.8,473.4" fill="none" stroke="#4a50c8" stroke-width="1.2" stroke-dasharray="3 1.6" />
<rect x="459.3" y="464.9" width="2.2" height="2.2" fill="#4a50c8"/>
<rect x="463.3" y="451.7" width="2.2" height="2.2" fill="#4a50c8"/>
<rect x="467.3" y="439.1" width="2.2" height="2.2" fill="#4a50c8"/>
<rect x="471.3" y="427.4" width="2.2" height="2.2" fill="#4a50c8"/>
<rect x="475.2" y="417.6" width="2.2" height="2.2" fill="#4a50c8"/>
<rect x="479.2" y="411.4" width="2.2" height="2.2" fill="#4a50c8"/>
<rect x="483.2" y="411.1" width="2.2" height="2.2" fill="#4a50c8"/>
<rect x="487.2" y="415.5" width="2.2" height="2.2" fill="#4a50c8"/>
<rect x="491.1" y="423" width="2.2" height="2.2" fill="#4a50c8"/>
<rect x="495.1" y="432.3" width="2.2" height="2.2" fill="#4a50c8"/>
<rect x="499.1" y="442.6" width="2.2" height="2.2" fill="#4a50c8"/>
<rect x="503.1" y="453.5" width="2.2" height="2.2" fill="#4a50c8"/>
<rect x="507.1" y="464.7" width="2.2" height="2.2" fill="#4a50c8"/>
<polyline points="461.7,475.1 463,470.7 464.2,466.4 465.5,462 466.8,457.8 468.1,453.5 469.3,449.4 470.6,445.3 471.9,441.4 473.1,437.5 474.4,433.9 475.7,430.5 476.9,427.4 478.2,424.7 479.5,422.6 480.8,421.1 482,420.4 483.3,420.5 484.6,420.9 485.8,421.7 487.1,422.8 488.4,424.2 489.6,425.8 490.9,427.6 492.2,429.6 493.4,431.8 494.7,434 496,436.4 497.3,438.8 498.5,441.3 499.8,443.9 501.1,446.5 502.3,449.2 503.6,451.9 504.9,454.6 506.1,457.4 507.4,460.2 508.7,463 510,465.8 511.2,468.7 512.5,471.5" fill="none" stroke="#111" stroke-width="1.2" stroke-dasharray="3 1.6" />
<polygon points="464.2,464.9 462.8,467.5 465.6,467.5" fill="#111"/>
<polygon points="468.1,452 466.7,454.6 469.4,454.6" fill="#111"/>
<polygon points="471.9,439.9 470.5,442.5 473.3,442.5" fill="#111"/>
<polygon points="475.7,429 474.3,431.6 477.1,431.6" fill="#111"/>
<polygon points="479.5,421.1 478.1,423.7 480.9,423.7" fill="#111"/>
<polygon points="483.3,419 481.9,421.6 484.7,421.6" fill="#111"/>
<polygon points="487.1,421.3 485.7,423.9 488.5,423.9" fill="#111"/>
<polygon points="490.9,426.1 489.5,428.7 492.3,428.7" fill="#111"/>
<polygon points="494.7,432.5 493.3,435.1 496.1,435.1" fill="#111"/>
<polygon points="498.5,439.8 497.1,442.4 499.9,442.4" fill="#111"/>
<polygon points="502.3,447.7 500.9,450.3 503.7,450.3" fill="#111"/>
<polygon points="506.1,455.9 504.8,458.5 507.5,458.5" fill="#111"/>
<polygon points="510,464.3 508.6,466.9 511.4,466.9" fill="#111"/>
</g>
<line x1="482" y1="390.8" x2="507" y2="390.8" stroke="#52b942" stroke-width="0.9" stroke-dasharray="2.5 1.5" />
<line x1="459" y1="410.6" x2="508" y2="410.6" stroke="#e8504c" stroke-width="0.9" stroke-dasharray="2.5 1.5" />
<line x1="459" y1="420.4" x2="472.5" y2="420.4" stroke="#777" stroke-width="0.9" stroke-dasharray="2.5 1.5" />
<line x1="482.6" y1="409.5" x2="482.6" y2="396.5" stroke="#222" stroke-width="0.9" stroke-dasharray="2 1.2" /><polygon points="482.6,392.5 480.3,397.5 484.9,397.5" fill="#111"/>
<line x1="501.3" y1="392" x2="501.3" y2="406" stroke="#222" stroke-width="0.9" stroke-dasharray="2 1.2" /><polygon points="501.3,410 499,405 503.6,405" fill="#111"/>
<line x1="463.2" y1="420" x2="463.2" y2="415.5" stroke="#222" stroke-width="0.9" stroke-dasharray="2 1.2" /><polygon points="463.2,411.5 460.9,416.5 465.5,416.5" fill="#111"/>
<text x="459.3" y="418.4" font-size="7" font-weight="bold" text-anchor="start" fill="#000" >I</text>
<text x="476.5" y="403.6" font-size="7" font-weight="bold" text-anchor="start" fill="#000" >II</text>
<text x="493.6" y="403.4" font-size="7" font-weight="bold" text-anchor="start" fill="#000" >III</text>
<rect x="456.1" y="388.6" width="57.299999999999955" height="76.19999999999999" fill="none" stroke="#3a3a3a" stroke-width="1"/>
<line x1="476.9" y1="464.8" x2="476.9" y2="462.8" stroke="#3a3a3a" stroke-width="0.8" />
<line x1="500.5" y1="464.8" x2="500.5" y2="462.8" stroke="#3a3a3a" stroke-width="0.8" />
<text x="476.9" y="471.7" font-size="6.3" text-anchor="middle" fill="#111" >285.6</text>
<text x="500.5" y="471.7" font-size="6.3" text-anchor="middle" fill="#111" >286.2</text>
<line x1="415.5" y1="479.2" x2="428.5" y2="479.2" stroke="#0c0c0c" stroke-width="1.1" />
<text x="430.6" y="481.5" font-size="6.6" font-weight="bold" text-anchor="start" fill="#111" >Pristine sample</text>
<line x1="415.5" y1="488.4" x2="428.5" y2="488.4" stroke="#2e9a48" stroke-width="1.1" />
<text x="430.6" y="490.7" font-size="6.6" font-weight="bold" text-anchor="start" fill="#111" >CO<tspan font-size="4.6" dy="1.4">2</tspan><tspan dy="-1.4">RR middle</tspan></text>
<line x1="488.9" y1="479.2" x2="503" y2="479.2" stroke="#f07a78" stroke-width="1.1" />
<text x="506.1" y="481.5" font-size="6.6" font-weight="bold" text-anchor="start" fill="#111" >CO<tspan font-size="4.6" dy="1.4">2</tspan><tspan dy="-1.4">-saturated</tspan></text>
<line x1="488.9" y1="488.4" x2="503" y2="488.4" stroke="#3d49c4" stroke-width="1.1" />
<text x="506.1" y="490.7" font-size="6.6" font-weight="bold" text-anchor="start" fill="#111" >CO<tspan font-size="4.6" dy="1.4">2</tspan><tspan dy="-1.4">RR finished</tspan></text></g>
<g id="j"><line x1="646.3" y1="444.9" x2="667.5" y2="422.6" stroke="#222" stroke-width="0.9" />
<line x1="691" y1="422.6" x2="712.1" y2="385.1" stroke="#222" stroke-width="0.9" stroke-dasharray="2.2 1.5" />
<line x1="691" y1="422.6" x2="712.1" y2="490.8" stroke="#222" stroke-width="0.9" stroke-dasharray="2.2 1.5" />
<line x1="735.1" y1="385.1" x2="757.4" y2="432.6" stroke="#222" stroke-width="0.9" stroke-dasharray="2.2 1.5" />
<line x1="735.1" y1="490.8" x2="757.4" y2="432.6" stroke="#222" stroke-width="0.9" stroke-dasharray="2.2 1.5" />
<line x1="691" y1="423.6" x2="723.5" y2="423.6" stroke="#222" stroke-width="0.9" stroke-dasharray="1.6 1.4" />
<line x1="735.6" y1="490.8" x2="772" y2="490.8" stroke="#222" stroke-width="0.9" stroke-dasharray="1.6 1.4" />
<line x1="623.3" y1="444.9" x2="646.3" y2="444.9" stroke="#7ed957" stroke-width="2" />
<line x1="667.5" y1="423.8" x2="691" y2="423.8" stroke="#f05f58" stroke-width="2" />
<line x1="667.5" y1="421.1" x2="691" y2="421.1" stroke="#7ed957" stroke-width="2" />
<line x1="711.9" y1="385.1" x2="735.1" y2="385.1" stroke="#f05f58" stroke-width="2" />
<line x1="711.9" y1="490.8" x2="735.6" y2="490.8" stroke="#7ed957" stroke-width="2" />
<line x1="757.4" y1="432.6" x2="779.8" y2="432.6" stroke="#7ed957" stroke-width="2" />
<line x1="720.3" y1="389.1" x2="720.3" y2="420.4" stroke="#111" stroke-width="1.1" /><polygon points="720.3,386.1 717.9,391.1 722.7,391.1" fill="#111"/><polygon points="720.3,423.4 717.9,418.4 722.7,418.4" fill="#111"/>
<line x1="767.4" y1="436.6" x2="767.4" y2="487.2" stroke="#111" stroke-width="1.1" /><polygon points="767.4,433.6 765,438.6 769.8,438.6" fill="#111"/><polygon points="767.4,490.2 765,485.2 769.8,485.2" fill="#111"/>
<text transform="translate(715.6,404.7) rotate(-90)" font-size="8.2" font-weight="bold" text-anchor="middle" fill="#111">0.33 eV</text>
<text transform="translate(763.9,462.1) rotate(-90)" font-size="8.2" font-weight="bold" text-anchor="middle" fill="#111">0.50 eV</text>
<rect x="612.7" y="369.1" width="177.5" height="151.69999999999993" fill="none" stroke="#3a3a3a" stroke-width="1.1"/>
<line x1="612.7" y1="374.6" x2="616.9" y2="374.6" stroke="#3a3a3a" stroke-width="1" />
<text x="610.2" y="378.1" font-size="10.9" text-anchor="end" fill="#111" >0.6</text>
<line x1="612.7" y1="398" x2="616.9" y2="398" stroke="#3a3a3a" stroke-width="1" />
<text x="610.2" y="401.5" font-size="10.9" text-anchor="end" fill="#111" >0.4</text>
<line x1="612.7" y1="421.4" x2="616.9" y2="421.4" stroke="#3a3a3a" stroke-width="1" />
<text x="610.2" y="424.9" font-size="10.9" text-anchor="end" fill="#111" >0.2</text>
<line x1="612.7" y1="444.9" x2="616.9" y2="444.9" stroke="#3a3a3a" stroke-width="1" />
<text x="610.2" y="448.4" font-size="10.9" text-anchor="end" fill="#111" >0.0</text>
<line x1="612.7" y1="468.3" x2="616.9" y2="468.3" stroke="#3a3a3a" stroke-width="1" />
<text x="610.2" y="471.8" font-size="10.9" text-anchor="end" fill="#111" >−0.2</text>
<line x1="612.7" y1="491.7" x2="616.9" y2="491.7" stroke="#3a3a3a" stroke-width="1" />
<text x="610.2" y="495.2" font-size="10.9" text-anchor="end" fill="#111" >−0.4</text>
<line x1="612.7" y1="515.1" x2="616.9" y2="515.1" stroke="#3a3a3a" stroke-width="1" />
<text x="610.2" y="518.6" font-size="10.9" text-anchor="end" fill="#111" >−0.6</text>
<text transform="translate(584.3,445.1) rotate(-90)" font-size="11.75" text-anchor="middle" fill="#111">Energy (eV)</text>
<text x="579.8" y="377.9" font-size="13" font-weight="bold" text-anchor="start" fill="#111" >(j)</text>
<line x1="616.1" y1="377.7" x2="632.1" y2="377.7" stroke="#f05f58" stroke-width="1.8" />
<text x="634" y="380.6" font-size="8.2" font-weight="bold" text-anchor="start" fill="#111" >C5+H</text>
<line x1="616.1" y1="388.9" x2="632.1" y2="388.9" stroke="#7ed957" stroke-width="1.8" />
<text x="634" y="391.8" font-size="8.2" font-weight="bold" text-anchor="start" fill="#111" >Pyridinic N</text>
<text x="636.7" y="516" font-size="8.6" font-weight="bold" text-anchor="middle" fill="#111" >CO<tspan font-size="5.8" dy="1.6">2</tspan></text>
<text x="676.9" y="516" font-size="8.6" font-weight="bold" text-anchor="middle" fill="#111" >*COOH</text>
<text x="724.7" y="516" font-size="8.6" font-weight="bold" text-anchor="middle" fill="#111" >*CO</text>
<text x="769.4" y="516" font-size="8.6" font-weight="bold" text-anchor="middle" fill="#111" >CO</text>
<line x1="624.6" y1="413.1" x2="627.3" y2="411.5" stroke="#7b4a3c" stroke-width="0.9" />
<line x1="632.6" y1="427" x2="632.6" y2="430.1" stroke="#7b4a3c" stroke-width="0.9" />
<line x1="643.4" y1="417.7" x2="643.4" y2="420.8" stroke="#7b4a3c" stroke-width="0.9" />
<line x1="638" y1="411.5" x2="640.7" y2="413.1" stroke="#7b4a3c" stroke-width="0.9" />
<line x1="632.6" y1="420.8" x2="629.9" y2="422.4" stroke="#7b4a3c" stroke-width="0.9" />
<line x1="635.3" y1="425.5" x2="632.6" y2="427" stroke="#7b4a3c" stroke-width="0.9" />
<line x1="646.1" y1="416.2" x2="648.7" y2="417.7" stroke="#7b4a3c" stroke-width="0.9" />
<line x1="632.6" y1="411.5" x2="635.3" y2="413.1" stroke="#7b4a3c" stroke-width="0.9" />
<line x1="632.6" y1="420.8" x2="635.3" y2="422.4" stroke="#7b4a3c" stroke-width="0.9" />
<line x1="635.3" y1="425.5" x2="638" y2="427" stroke="#7b4a3c" stroke-width="0.9" />
<line x1="629.9" y1="416.2" x2="629.9" y2="413.1" stroke="#7b4a3c" stroke-width="0.9" />
<line x1="640.7" y1="425.5" x2="643.4" y2="427" stroke="#7b4a3c" stroke-width="0.9" />
<line x1="643.4" y1="420.8" x2="640.7" y2="422.4" stroke="#7b4a3c" stroke-width="0.9" />
<line x1="638" y1="420.8" x2="635.3" y2="422.4" stroke="#7b4a3c" stroke-width="0.9" />
<line x1="646.1" y1="425.5" x2="643.4" y2="427" stroke="#7b4a3c" stroke-width="0.9" />
<line x1="640.7" y1="416.2" x2="643.4" y2="417.7" stroke="#7b4a3c" stroke-width="0.9" />
<line x1="635.3" y1="416.2" x2="638" y2="417.7" stroke="#7b4a3c" stroke-width="0.9" />
<line x1="638" y1="420.8" x2="640.7" y2="422.4" stroke="#7b4a3c" stroke-width="0.9" />
<line x1="627.3" y1="417.7" x2="627.3" y2="420.8" stroke="#7b4a3c" stroke-width="0.9" />
<line x1="632.6" y1="427" x2="629.9" y2="425.5" stroke="#7b4a3c" stroke-width="0.9" />
<line x1="646.1" y1="422.4" x2="646.1" y2="425.5" stroke="#7b4a3c" stroke-width="0.9" />
<line x1="643.4" y1="430.1" x2="640.7" y2="431.7" stroke="#7b4a3c" stroke-width="0.9" />
<line x1="651.4" y1="416.2" x2="648.7" y2="417.7" stroke="#7b4a3c" stroke-width="0.9" />
<line x1="627.3" y1="411.5" x2="629.9" y2="413.1" stroke="#7b4a3c" stroke-width="0.9" />
<line x1="632.6" y1="417.7" x2="632.6" y2="420.8" stroke="#7b4a3c" stroke-width="0.9" />
<line x1="638" y1="427" x2="638" y2="430.1" stroke="#7b4a3c" stroke-width="0.9" />
<line x1="646.1" y1="416.2" x2="643.4" y2="417.7" stroke="#7b4a3c" stroke-width="0.9" />
<line x1="629.9" y1="422.4" x2="627.3" y2="420.8" stroke="#7b4a3c" stroke-width="0.9" />
<line x1="629.9" y1="416.2" x2="627.3" y2="417.7" stroke="#7b4a3c" stroke-width="0.9" />
<line x1="629.9" y1="416.2" x2="632.6" y2="417.7" stroke="#7b4a3c" stroke-width="0.9" />
<line x1="629.9" y1="422.4" x2="629.9" y2="425.5" stroke="#7b4a3c" stroke-width="0.9" />
<line x1="627.3" y1="417.7" x2="624.6" y2="416.2" stroke="#7b4a3c" stroke-width="0.9" />
<line x1="640.7" y1="416.2" x2="638" y2="417.7" stroke="#7b4a3c" stroke-width="0.9" />
<line x1="646.1" y1="413.1" x2="648.7" y2="411.5" stroke="#7b4a3c" stroke-width="0.9" />
<line x1="643.4" y1="420.8" x2="646.1" y2="422.4" stroke="#7b4a3c" stroke-width="0.9" />
<line x1="640.7" y1="413.1" x2="643.4" y2="411.5" stroke="#7b4a3c" stroke-width="0.9" />
<line x1="643.4" y1="427" x2="643.4" y2="430.1" stroke="#7b4a3c" stroke-width="0.9" />
<line x1="648.7" y1="417.7" x2="648.7" y2="420.8" stroke="#7b4a3c" stroke-width="0.9" />
<line x1="635.3" y1="416.2" x2="632.6" y2="417.7" stroke="#7b4a3c" stroke-width="0.9" />
<line x1="638" y1="417.7" x2="638" y2="420.8" stroke="#7b4a3c" stroke-width="0.9" />
<line x1="651.4" y1="416.2" x2="651.4" y2="413.1" stroke="#7b4a3c" stroke-width="0.9" />
<line x1="635.3" y1="422.4" x2="635.3" y2="425.5" stroke="#7b4a3c" stroke-width="0.9" />
<line x1="648.7" y1="411.5" x2="651.4" y2="413.1" stroke="#7b4a3c" stroke-width="0.9" />
<line x1="648.7" y1="420.8" x2="646.1" y2="422.4" stroke="#7b4a3c" stroke-width="0.9" />
<line x1="638" y1="430.1" x2="640.7" y2="431.7" stroke="#7b4a3c" stroke-width="0.9" />
<line x1="638" y1="430.1" x2="635.3" y2="431.7" stroke="#7b4a3c" stroke-width="0.9" />
<line x1="629.9" y1="413.1" x2="632.6" y2="411.5" stroke="#7b4a3c" stroke-width="0.9" />
<line x1="646.1" y1="416.2" x2="646.1" y2="413.1" stroke="#7b4a3c" stroke-width="0.9" />
<line x1="635.3" y1="431.7" x2="632.6" y2="430.1" stroke="#7b4a3c" stroke-width="0.9" />
<line x1="635.3" y1="413.1" x2="638" y2="411.5" stroke="#7b4a3c" stroke-width="0.9" />
<line x1="640.7" y1="425.5" x2="638" y2="427" stroke="#7b4a3c" stroke-width="0.9" />
<line x1="640.7" y1="416.2" x2="640.7" y2="413.1" stroke="#7b4a3c" stroke-width="0.9" />
<line x1="624.6" y1="416.2" x2="624.6" y2="413.1" stroke="#7b4a3c" stroke-width="0.9" />
<line x1="640.7" y1="422.4" x2="640.7" y2="425.5" stroke="#7b4a3c" stroke-width="0.9" />
<line x1="635.3" y1="416.2" x2="635.3" y2="413.1" stroke="#7b4a3c" stroke-width="0.9" />
<line x1="643.4" y1="411.5" x2="646.1" y2="413.1" stroke="#7b4a3c" stroke-width="0.9" />
<circle cx="629.9" cy="416.2" r="1.1" fill="#7b4a3c"/>
<circle cx="627.3" cy="417.7" r="1.1" fill="#7b4a3c"/>
<circle cx="624.6" cy="416.2" r="1.1" fill="#7b4a3c"/>
<circle cx="624.6" cy="413.1" r="1.1" fill="#7b4a3c"/>
<circle cx="627.3" cy="411.5" r="1.1" fill="#7b4a3c"/>
<circle cx="629.9" cy="413.1" r="1.1" fill="#7b4a3c"/>
<circle cx="635.3" cy="416.2" r="1.1" fill="#7b4a3c"/>
<circle cx="632.6" cy="417.7" r="1.1" fill="#7b4a3c"/>
<circle cx="632.6" cy="411.5" r="1.1" fill="#7b4a3c"/>
<circle cx="635.3" cy="413.1" r="1.1" fill="#7b4a3c"/>
<circle cx="640.7" cy="416.2" r="1.1" fill="#7b4a3c"/>
<circle cx="638" cy="417.7" r="1.1" fill="#7b4a3c"/>
<circle cx="638" cy="411.5" r="1.1" fill="#7b4a3c"/>
<circle cx="640.7" cy="413.1" r="1.1" fill="#7b4a3c"/>
<circle cx="646.1" cy="416.2" r="1.1" fill="#7b4a3c"/>
<circle cx="643.4" cy="417.7" r="1.1" fill="#7b4a3c"/>
<circle cx="643.4" cy="411.5" r="1.1" fill="#7b4a3c"/>
<circle cx="646.1" cy="413.1" r="1.1" fill="#7b4a3c"/>
<circle cx="651.4" cy="416.2" r="1.1" fill="#7b4a3c"/>
<circle cx="648.7" cy="417.7" r="1.1" fill="#7b4a3c"/>
<circle cx="648.7" cy="411.5" r="1.1" fill="#7b4a3c"/>
<circle cx="651.4" cy="413.1" r="1.1" fill="#7b4a3c"/>
<circle cx="632.6" cy="420.8" r="1.1" fill="#7b4a3c"/>
<circle cx="629.9" cy="422.4" r="1.1" fill="#7b4a3c"/>
<circle cx="627.3" cy="420.8" r="1.1" fill="#7b4a3c"/>
<circle cx="638" cy="420.8" r="1.1" fill="#7b4a3c"/>
<circle cx="635.3" cy="422.4" r="1.1" fill="#7b4a3c"/>
<circle cx="643.4" cy="420.8" r="1.1" fill="#7b4a3c"/>
<circle cx="640.7" cy="422.4" r="1.1" fill="#7b4a3c"/>
<circle cx="648.7" cy="420.8" r="1.1" fill="#7b4a3c"/>
<circle cx="646.1" cy="422.4" r="1.1" fill="#7b4a3c"/>
<circle cx="635.3" cy="425.5" r="1.1" fill="#7b4a3c"/>
<circle cx="632.6" cy="427" r="1.1" fill="#7b4a3c"/>
<circle cx="629.9" cy="425.5" r="1.1" fill="#7b4a3c"/>
<circle cx="640.7" cy="425.5" r="1.1" fill="#7b4a3c"/>
<circle cx="638" cy="427" r="1.1" fill="#7b4a3c"/>
<circle cx="646.1" cy="425.5" r="1.1" fill="#7b4a3c"/>
<circle cx="643.4" cy="427" r="1.1" fill="#7b4a3c"/>
<circle cx="638" cy="430.1" r="1.1" fill="#7b4a3c"/>
<circle cx="635.3" cy="431.7" r="1.1" fill="#7b4a3c"/>
<circle cx="632.6" cy="430.1" r="1.1" fill="#7b4a3c"/>
<circle cx="643.4" cy="430.1" r="1.1" fill="#7b4a3c"/>
<circle cx="640.7" cy="431.7" r="1.1" fill="#7b4a3c"/>
<line x1="638.9" y1="467.6" x2="641.6" y2="469.2" stroke="#7b4a3c" stroke-width="0.9" />
<line x1="628.1" y1="467.6" x2="630.8" y2="469.2" stroke="#7b4a3c" stroke-width="0.9" />
<line x1="625.5" y1="459.9" x2="628.1" y2="458.3" stroke="#7b4a3c" stroke-width="0.9" />
<line x1="638.9" y1="476.9" x2="641.6" y2="478.5" stroke="#7b4a3c" stroke-width="0.9" />
<line x1="644.3" y1="467.6" x2="641.6" y2="469.2" stroke="#7b4a3c" stroke-width="0.9" />
<line x1="638.9" y1="458.3" x2="641.6" y2="459.9" stroke="#7b4a3c" stroke-width="0.9" />
<line x1="633.5" y1="467.6" x2="630.8" y2="469.2" stroke="#7b4a3c" stroke-width="0.9" />
<line x1="630.8" y1="472.3" x2="628.1" y2="473.8" stroke="#7b4a3c" stroke-width="0.9" />
<line x1="646.9" y1="469.2" x2="646.9" y2="472.3" stroke="#7b4a3c" stroke-width="0.9" />
<line x1="633.5" y1="458.3" x2="636.2" y2="459.9" stroke="#7b4a3c" stroke-width="0.9" />
<line x1="630.8" y1="472.3" x2="633.5" y2="473.8" stroke="#7b4a3c" stroke-width="0.9" />
<line x1="633.5" y1="476.9" x2="636.2" y2="478.5" stroke="#7b4a3c" stroke-width="0.9" />
<line x1="630.8" y1="463" x2="630.8" y2="459.9" stroke="#7b4a3c" stroke-width="0.9" />
<line x1="630.8" y1="469.2" x2="630.8" y2="472.3" stroke="#7b4a3c" stroke-width="0.9" />
<line x1="636.2" y1="472.3" x2="638.9" y2="473.8" stroke="#7b4a3c" stroke-width="0.9" />
<line x1="633.5" y1="476.9" x2="630.8" y2="478.5" stroke="#7b4a3c" stroke-width="0.9" />
<line x1="644.3" y1="473.8" x2="644.3" y2="476.9" stroke="#7b4a3c" stroke-width="0.9" />
<line x1="649.6" y1="467.6" x2="649.6" y2="464.5" stroke="#7b4a3c" stroke-width="0.9" />
<line x1="641.6" y1="472.3" x2="638.9" y2="473.8" stroke="#7b4a3c" stroke-width="0.9" />
<line x1="641.6" y1="463" x2="644.3" y2="464.5" stroke="#7b4a3c" stroke-width="0.9" />
<line x1="628.1" y1="464.5" x2="628.1" y2="467.6" stroke="#7b4a3c" stroke-width="0.9" />
<line x1="644.3" y1="476.9" x2="641.6" y2="478.5" stroke="#7b4a3c" stroke-width="0.9" />
<line x1="625.5" y1="469.2" x2="625.5" y2="472.3" stroke="#7b4a3c" stroke-width="0.9" />
<line x1="636.2" y1="463" x2="638.9" y2="464.5" stroke="#7b4a3c" stroke-width="0.9" />
<line x1="628.1" y1="473.8" x2="625.5" y2="472.3" stroke="#7b4a3c" stroke-width="0.9" />
<line x1="630.8" y1="478.5" x2="628.1" y2="476.9" stroke="#7b4a3c" stroke-width="0.9" />
<line x1="628.1" y1="467.6" x2="625.5" y2="469.2" stroke="#7b4a3c" stroke-width="0.9" />
<line x1="644.3" y1="464.5" x2="644.3" y2="467.6" stroke="#7b4a3c" stroke-width="0.9" />
<line x1="628.1" y1="473.8" x2="628.1" y2="476.9" stroke="#7b4a3c" stroke-width="0.9" />
<line x1="636.2" y1="469.2" x2="636.2" y2="472.3" stroke="#7b4a3c" stroke-width="0.9" />
<line x1="628.1" y1="458.3" x2="630.8" y2="459.9" stroke="#7b4a3c" stroke-width="0.9" />
<line x1="633.5" y1="464.5" x2="633.5" y2="467.6" stroke="#7b4a3c" stroke-width="0.9" />
<line x1="644.3" y1="467.6" x2="646.9" y2="469.2" stroke="#7b4a3c" stroke-width="0.9" />
<line x1="633.5" y1="467.6" x2="636.2" y2="469.2" stroke="#7b4a3c" stroke-width="0.9" />
<line x1="646.9" y1="463" x2="644.3" y2="464.5" stroke="#7b4a3c" stroke-width="0.9" />
<line x1="630.8" y1="463" x2="628.1" y2="464.5" stroke="#7b4a3c" stroke-width="0.9" />
<line x1="630.8" y1="463" x2="633.5" y2="464.5" stroke="#7b4a3c" stroke-width="0.9" />
<line x1="646.9" y1="463" x2="649.6" y2="464.5" stroke="#7b4a3c" stroke-width="0.9" />
<line x1="628.1" y1="464.5" x2="625.5" y2="463" stroke="#7b4a3c" stroke-width="0.9" />
<line x1="641.6" y1="463" x2="638.9" y2="464.5" stroke="#7b4a3c" stroke-width="0.9" />
<line x1="641.6" y1="472.3" x2="644.3" y2="473.8" stroke="#7b4a3c" stroke-width="0.9" />
<line x1="625.5" y1="469.2" x2="622.8" y2="467.6" stroke="#7b4a3c" stroke-width="0.9" />
<line x1="649.6" y1="467.6" x2="646.9" y2="469.2" stroke="#7b4a3c" stroke-width="0.9" />
<line x1="641.6" y1="459.9" x2="644.3" y2="458.3" stroke="#7b4a3c" stroke-width="0.9" />
<line x1="641.6" y1="469.2" x2="641.6" y2="472.3" stroke="#7b4a3c" stroke-width="0.9" />
<line x1="636.2" y1="463" x2="633.5" y2="464.5" stroke="#7b4a3c" stroke-width="0.9" />
<line x1="638.9" y1="467.6" x2="636.2" y2="469.2" stroke="#7b4a3c" stroke-width="0.9" />
<line x1="638.9" y1="473.8" x2="638.9" y2="476.9" stroke="#7b4a3c" stroke-width="0.9" />
<line x1="638.9" y1="476.9" x2="636.2" y2="478.5" stroke="#7b4a3c" stroke-width="0.9" />
<line x1="633.5" y1="473.8" x2="633.5" y2="476.9" stroke="#7b4a3c" stroke-width="0.9" />
<line x1="622.8" y1="467.6" x2="622.8" y2="464.5" stroke="#7b4a3c" stroke-width="0.9" />
<line x1="646.9" y1="472.3" x2="644.3" y2="473.8" stroke="#7b4a3c" stroke-width="0.9" />
<line x1="630.8" y1="459.9" x2="633.5" y2="458.3" stroke="#7b4a3c" stroke-width="0.9" />
<line x1="646.9" y1="463" x2="646.9" y2="459.9" stroke="#7b4a3c" stroke-width="0.9" />
<line x1="636.2" y1="459.9" x2="638.9" y2="458.3" stroke="#7b4a3c" stroke-width="0.9" />
<line x1="636.2" y1="472.3" x2="633.5" y2="473.8" stroke="#7b4a3c" stroke-width="0.9" />
<line x1="641.6" y1="463" x2="641.6" y2="459.9" stroke="#7b4a3c" stroke-width="0.9" />
<line x1="625.5" y1="463" x2="625.5" y2="459.9" stroke="#7b4a3c" stroke-width="0.9" />
<line x1="638.9" y1="464.5" x2="638.9" y2="467.6" stroke="#7b4a3c" stroke-width="0.9" />
<line x1="625.5" y1="463" x2="622.8" y2="464.5" stroke="#7b4a3c" stroke-width="0.9" />
<line x1="636.2" y1="463" x2="636.2" y2="459.9" stroke="#7b4a3c" stroke-width="0.9" />
<line x1="644.3" y1="458.3" x2="646.9" y2="459.9" stroke="#7b4a3c" stroke-width="0.9" />
<circle cx="630.8" cy="463" r="1.1" fill="#7b4a3c"/>
<circle cx="628.1" cy="464.5" r="1.1" fill="#7b4a3c"/>
<circle cx="625.5" cy="463" r="1.1" fill="#7b4a3c"/>
<circle cx="625.5" cy="459.9" r="1.1" fill="#7b4a3c"/>
<circle cx="628.1" cy="458.3" r="1.1" fill="#7b4a3c"/>
<circle cx="630.8" cy="459.9" r="1.1" fill="#7b4a3c"/>
<circle cx="636.2" cy="463" r="1.1" fill="#7b4a3c"/>
<circle cx="633.5" cy="464.5" r="1.1" fill="#7b4a3c"/>
<circle cx="633.5" cy="458.3" r="1.1" fill="#7b4a3c"/>
<circle cx="636.2" cy="459.9" r="1.1" fill="#7b4a3c"/>
<circle cx="641.6" cy="463" r="1.1" fill="#7b4a3c"/>
<circle cx="638.9" cy="464.5" r="1.1" fill="#7b4a3c"/>
<circle cx="638.9" cy="458.3" r="1.1" fill="#7b4a3c"/>
<circle cx="641.6" cy="459.9" r="1.1" fill="#7b4a3c"/>
<circle cx="646.9" cy="463" r="1.1" fill="#7b4a3c"/>
<circle cx="644.3" cy="464.5" r="1.1" fill="#7b4a3c"/>
<circle cx="644.3" cy="458.3" r="1.1" fill="#7b4a3c"/>
<circle cx="646.9" cy="459.9" r="1.1" fill="#7b4a3c"/>
<circle cx="628.1" cy="467.6" r="1.1" fill="#7b4a3c"/>
<circle cx="625.5" cy="469.2" r="1.1" fill="#7b4a3c"/>
<circle cx="622.8" cy="467.6" r="1.1" fill="#7b4a3c"/>
<circle cx="622.8" cy="464.5" r="1.1" fill="#7b4a3c"/>
<circle cx="633.5" cy="467.6" r="1.1" fill="#7b4a3c"/>
<circle cx="630.8" cy="469.2" r="1.1" fill="#7b4a3c"/>
<circle cx="638.9" cy="467.6" r="1.1" fill="#7b4a3c"/>
<circle cx="636.2" cy="469.2" r="1.1" fill="#7b4a3c"/>
<circle cx="644.3" cy="467.6" r="1.1" fill="#7b4a3c"/>
<circle cx="641.6" cy="469.2" r="1.1" fill="#7b4a3c"/>
<circle cx="649.6" cy="467.6" r="1.1" fill="#7b4a3c"/>
<circle cx="646.9" cy="469.2" r="1.1" fill="#7b4a3c"/>
<circle cx="649.6" cy="464.5" r="1.1" fill="#7b4a3c"/>
<circle cx="630.8" cy="472.3" r="1.1" fill="#7b4a3c"/>
<circle cx="628.1" cy="473.8" r="1.1" fill="#7b4a3c"/>
<circle cx="625.5" cy="472.3" r="1.1" fill="#7b4a3c"/>
<circle cx="636.2" cy="472.3" r="1.1" fill="#7b4a3c"/>
<circle cx="633.5" cy="473.8" r="1.1" fill="#7b4a3c"/>
<circle cx="641.6" cy="472.3" r="1.1" fill="#7b4a3c"/>
<circle cx="638.9" cy="473.8" r="1.1" fill="#7b4a3c"/>
<circle cx="646.9" cy="472.3" r="1.1" fill="#7b4a3c"/>
<circle cx="644.3" cy="473.8" r="1.1" fill="#7b4a3c"/>
<circle cx="633.5" cy="476.9" r="1.1" fill="#7b4a3c"/>
<circle cx="630.8" cy="478.5" r="1.1" fill="#7b4a3c"/>
<circle cx="628.1" cy="476.9" r="1.1" fill="#7b4a3c"/>
<circle cx="638.9" cy="476.9" r="1.1" fill="#7b4a3c"/>
<circle cx="636.2" cy="478.5" r="1.1" fill="#7b4a3c"/>
<circle cx="644.3" cy="476.9" r="1.1" fill="#7b4a3c"/>
<circle cx="641.6" cy="478.5" r="1.1" fill="#7b4a3c"/>
<line x1="679.6" y1="407.1" x2="682.3" y2="408.7" stroke="#7b4a3c" stroke-width="0.9" />
<line x1="668.8" y1="407.1" x2="671.5" y2="408.7" stroke="#7b4a3c" stroke-width="0.9" />
<line x1="666.2" y1="399.4" x2="668.8" y2="397.8" stroke="#7b4a3c" stroke-width="0.9" />
<line x1="679.6" y1="416.4" x2="682.3" y2="418" stroke="#7b4a3c" stroke-width="0.9" />
<line x1="685" y1="407.1" x2="682.3" y2="408.7" stroke="#7b4a3c" stroke-width="0.9" />
<line x1="679.6" y1="397.8" x2="682.3" y2="399.4" stroke="#7b4a3c" stroke-width="0.9" />
<line x1="674.2" y1="407.1" x2="671.5" y2="408.7" stroke="#7b4a3c" stroke-width="0.9" />
<line x1="671.5" y1="411.8" x2="668.8" y2="413.3" stroke="#7b4a3c" stroke-width="0.9" />
<line x1="687.6" y1="408.7" x2="687.6" y2="411.8" stroke="#7b4a3c" stroke-width="0.9" />
<line x1="674.2" y1="397.8" x2="676.9" y2="399.4" stroke="#7b4a3c" stroke-width="0.9" />
<line x1="671.5" y1="411.8" x2="674.2" y2="413.3" stroke="#7b4a3c" stroke-width="0.9" />
<line x1="674.2" y1="416.4" x2="676.9" y2="418" stroke="#7b4a3c" stroke-width="0.9" />
<line x1="671.5" y1="402.5" x2="671.5" y2="399.4" stroke="#7b4a3c" stroke-width="0.9" />
<line x1="671.5" y1="408.7" x2="671.5" y2="411.8" stroke="#7b4a3c" stroke-width="0.9" />
<line x1="676.9" y1="411.8" x2="679.6" y2="413.3" stroke="#7b4a3c" stroke-width="0.9" />
<line x1="674.2" y1="416.4" x2="671.5" y2="418" stroke="#7b4a3c" stroke-width="0.9" />
<line x1="685" y1="413.3" x2="685" y2="416.4" stroke="#7b4a3c" stroke-width="0.9" />
<line x1="690.3" y1="407.1" x2="690.3" y2="404" stroke="#7b4a3c" stroke-width="0.9" />
<line x1="682.3" y1="411.8" x2="679.6" y2="413.3" stroke="#7b4a3c" stroke-width="0.9" />
<line x1="682.3" y1="402.5" x2="685" y2="404" stroke="#7b4a3c" stroke-width="0.9" />
<line x1="668.8" y1="404" x2="668.8" y2="407.1" stroke="#7b4a3c" stroke-width="0.9" />
<line x1="685" y1="416.4" x2="682.3" y2="418" stroke="#7b4a3c" stroke-width="0.9" />
<line x1="666.2" y1="408.7" x2="666.2" y2="411.8" stroke="#7b4a3c" stroke-width="0.9" />
<line x1="676.9" y1="402.5" x2="679.6" y2="404" stroke="#7b4a3c" stroke-width="0.9" />
<line x1="668.8" y1="413.3" x2="666.2" y2="411.8" stroke="#7b4a3c" stroke-width="0.9" />
<line x1="671.5" y1="418" x2="668.8" y2="416.4" stroke="#7b4a3c" stroke-width="0.9" />
<line x1="668.8" y1="407.1" x2="666.2" y2="408.7" stroke="#7b4a3c" stroke-width="0.9" />
<line x1="685" y1="404" x2="685" y2="407.1" stroke="#7b4a3c" stroke-width="0.9" />
<line x1="668.8" y1="413.3" x2="668.8" y2="416.4" stroke="#7b4a3c" stroke-width="0.9" />
<line x1="676.9" y1="408.7" x2="676.9" y2="411.8" stroke="#7b4a3c" stroke-width="0.9" />
<line x1="668.8" y1="397.8" x2="671.5" y2="399.4" stroke="#7b4a3c" stroke-width="0.9" />
<line x1="674.2" y1="404" x2="674.2" y2="407.1" stroke="#7b4a3c" stroke-width="0.9" />
<line x1="685" y1="407.1" x2="687.6" y2="408.7" stroke="#7b4a3c" stroke-width="0.9" />
<line x1="674.2" y1="407.1" x2="676.9" y2="408.7" stroke="#7b4a3c" stroke-width="0.9" />
<line x1="687.6" y1="402.5" x2="685" y2="404" stroke="#7b4a3c" stroke-width="0.9" />
<line x1="671.5" y1="402.5" x2="668.8" y2="404" stroke="#7b4a3c" stroke-width="0.9" />
<line x1="671.5" y1="402.5" x2="674.2" y2="404" stroke="#7b4a3c" stroke-width="0.9" />
<line x1="687.6" y1="402.5" x2="690.3" y2="404" stroke="#7b4a3c" stroke-width="0.9" />
<line x1="668.8" y1="404" x2="666.2" y2="402.5" stroke="#7b4a3c" stroke-width="0.9" />
<line x1="682.3" y1="402.5" x2="679.6" y2="404" stroke="#7b4a3c" stroke-width="0.9" />
<line x1="682.3" y1="411.8" x2="685" y2="413.3" stroke="#7b4a3c" stroke-width="0.9" />
<line x1="666.2" y1="408.7" x2="663.5" y2="407.1" stroke="#7b4a3c" stroke-width="0.9" />
<line x1="690.3" y1="407.1" x2="687.6" y2="408.7" stroke="#7b4a3c" stroke-width="0.9" />
<line x1="682.3" y1="399.4" x2="685" y2="397.8" stroke="#7b4a3c" stroke-width="0.9" />
<line x1="682.3" y1="408.7" x2="682.3" y2="411.8" stroke="#7b4a3c" stroke-width="0.9" />
<line x1="676.9" y1="402.5" x2="674.2" y2="404" stroke="#7b4a3c" stroke-width="0.9" />
<line x1="679.6" y1="407.1" x2="676.9" y2="408.7" stroke="#7b4a3c" stroke-width="0.9" />
<line x1="679.6" y1="413.3" x2="679.6" y2="416.4" stroke="#7b4a3c" stroke-width="0.9" />
<line x1="679.6" y1="416.4" x2="676.9" y2="418" stroke="#7b4a3c" stroke-width="0.9" />
<line x1="674.2" y1="413.3" x2="674.2" y2="416.4" stroke="#7b4a3c" stroke-width="0.9" />
<line x1="663.5" y1="407.1" x2="663.5" y2="404" stroke="#7b4a3c" stroke-width="0.9" />
<line x1="687.6" y1="411.8" x2="685" y2="413.3" stroke="#7b4a3c" stroke-width="0.9" />
<line x1="671.5" y1="399.4" x2="674.2" y2="397.8" stroke="#7b4a3c" stroke-width="0.9" />
<line x1="687.6" y1="402.5" x2="687.6" y2="399.4" stroke="#7b4a3c" stroke-width="0.9" />
<line x1="676.9" y1="399.4" x2="679.6" y2="397.8" stroke="#7b4a3c" stroke-width="0.9" />
<line x1="676.9" y1="411.8" x2="674.2" y2="413.3" stroke="#7b4a3c" stroke-width="0.9" />
<line x1="682.3" y1="402.5" x2="682.3" y2="399.4" stroke="#7b4a3c" stroke-width="0.9" />
<line x1="666.2" y1="402.5" x2="666.2" y2="399.4" stroke="#7b4a3c" stroke-width="0.9" />
<line x1="679.6" y1="404" x2="679.6" y2="407.1" stroke="#7b4a3c" stroke-width="0.9" />
<line x1="666.2" y1="402.5" x2="663.5" y2="404" stroke="#7b4a3c" stroke-width="0.9" />
<line x1="676.9" y1="402.5" x2="676.9" y2="399.4" stroke="#7b4a3c" stroke-width="0.9" />
<line x1="685" y1="397.8" x2="687.6" y2="399.4" stroke="#7b4a3c" stroke-width="0.9" />
<circle cx="671.5" cy="402.5" r="1.1" fill="#7b4a3c"/>
<circle cx="668.8" cy="404" r="1.1" fill="#7b4a3c"/>
<circle cx="666.2" cy="402.5" r="1.1" fill="#7b4a3c"/>
<circle cx="666.2" cy="399.4" r="1.1" fill="#7b4a3c"/>
<circle cx="668.8" cy="397.8" r="1.1" fill="#7b4a3c"/>
<circle cx="671.5" cy="399.4" r="1.1" fill="#7b4a3c"/>
<circle cx="676.9" cy="402.5" r="1.1" fill="#7b4a3c"/>
<circle cx="674.2" cy="404" r="1.1" fill="#7b4a3c"/>
<circle cx="674.2" cy="397.8" r="1.1" fill="#7b4a3c"/>
<circle cx="676.9" cy="399.4" r="1.1" fill="#7b4a3c"/>
<circle cx="682.3" cy="402.5" r="1.1" fill="#7b4a3c"/>
<circle cx="679.6" cy="404" r="1.1" fill="#7b4a3c"/>
<circle cx="679.6" cy="397.8" r="1.1" fill="#7b4a3c"/>
<circle cx="682.3" cy="399.4" r="1.1" fill="#7b4a3c"/>
<circle cx="687.6" cy="402.5" r="1.1" fill="#7b4a3c"/>
<circle cx="685" cy="404" r="1.1" fill="#7b4a3c"/>
<circle cx="685" cy="397.8" r="1.1" fill="#7b4a3c"/>
<circle cx="687.6" cy="399.4" r="1.1" fill="#7b4a3c"/>
<circle cx="668.8" cy="407.1" r="1.1" fill="#7b4a3c"/>
<circle cx="666.2" cy="408.7" r="1.1" fill="#7b4a3c"/>
<circle cx="663.5" cy="407.1" r="1.1" fill="#7b4a3c"/>
<circle cx="663.5" cy="404" r="1.1" fill="#7b4a3c"/>
<circle cx="674.2" cy="407.1" r="1.1" fill="#7b4a3c"/>
<circle cx="671.5" cy="408.7" r="1.1" fill="#7b4a3c"/>
<circle cx="679.6" cy="407.1" r="1.1" fill="#7b4a3c"/>
<circle cx="676.9" cy="408.7" r="1.1" fill="#7b4a3c"/>
<circle cx="685" cy="407.1" r="1.1" fill="#7b4a3c"/>
<circle cx="682.3" cy="408.7" r="1.1" fill="#7b4a3c"/>
<circle cx="690.3" cy="407.1" r="1.1" fill="#7b4a3c"/>
<circle cx="687.6" cy="408.7" r="1.1" fill="#7b4a3c"/>
<circle cx="690.3" cy="404" r="1.1" fill="#7b4a3c"/>
<circle cx="671.5" cy="411.8" r="1.1" fill="#7b4a3c"/>
<circle cx="668.8" cy="413.3" r="1.1" fill="#7b4a3c"/>
<circle cx="666.2" cy="411.8" r="1.1" fill="#7b4a3c"/>
<circle cx="676.9" cy="411.8" r="1.1" fill="#7b4a3c"/>
<circle cx="674.2" cy="413.3" r="1.1" fill="#7b4a3c"/>
<circle cx="682.3" cy="411.8" r="1.1" fill="#7b4a3c"/>
<circle cx="679.6" cy="413.3" r="1.1" fill="#7b4a3c"/>
<circle cx="687.6" cy="411.8" r="1.1" fill="#7b4a3c"/>
<circle cx="685" cy="413.3" r="1.1" fill="#7b4a3c"/>
<circle cx="674.2" cy="416.4" r="1.1" fill="#7b4a3c"/>
<circle cx="671.5" cy="418" r="1.1" fill="#7b4a3c"/>
<circle cx="668.8" cy="416.4" r="1.1" fill="#7b4a3c"/>
<circle cx="679.6" cy="416.4" r="1.1" fill="#7b4a3c"/>
<circle cx="676.9" cy="418" r="1.1" fill="#7b4a3c"/>
<circle cx="685" cy="416.4" r="1.1" fill="#7b4a3c"/>
<circle cx="682.3" cy="418" r="1.1" fill="#7b4a3c"/>
<line x1="679.4" y1="452.3" x2="682.1" y2="453.9" stroke="#7b4a3c" stroke-width="0.9" />
<line x1="668.6" y1="452.3" x2="671.3" y2="453.9" stroke="#7b4a3c" stroke-width="0.9" />
<line x1="666" y1="444.6" x2="668.6" y2="443" stroke="#7b4a3c" stroke-width="0.9" />
<line x1="679.4" y1="461.6" x2="682.1" y2="463.2" stroke="#7b4a3c" stroke-width="0.9" />
<line x1="684.8" y1="452.3" x2="682.1" y2="453.9" stroke="#7b4a3c" stroke-width="0.9" />
<line x1="679.4" y1="443" x2="682.1" y2="444.6" stroke="#7b4a3c" stroke-width="0.9" />
<line x1="674" y1="452.3" x2="671.3" y2="453.9" stroke="#7b4a3c" stroke-width="0.9" />
<line x1="671.3" y1="457" x2="668.6" y2="458.5" stroke="#7b4a3c" stroke-width="0.9" />
<line x1="687.4" y1="453.9" x2="687.4" y2="457" stroke="#7b4a3c" stroke-width="0.9" />
<line x1="674" y1="443" x2="676.7" y2="444.6" stroke="#7b4a3c" stroke-width="0.9" />
<line x1="671.3" y1="457" x2="674" y2="458.5" stroke="#7b4a3c" stroke-width="0.9" />
<line x1="674" y1="461.6" x2="676.7" y2="463.2" stroke="#7b4a3c" stroke-width="0.9" />
<line x1="671.3" y1="447.7" x2="671.3" y2="444.6" stroke="#7b4a3c" stroke-width="0.9" />
<line x1="671.3" y1="453.9" x2="671.3" y2="457" stroke="#7b4a3c" stroke-width="0.9" />
<line x1="676.7" y1="457" x2="679.4" y2="458.5" stroke="#7b4a3c" stroke-width="0.9" />
<line x1="674" y1="461.6" x2="671.3" y2="463.2" stroke="#7b4a3c" stroke-width="0.9" />
<line x1="684.8" y1="458.5" x2="684.8" y2="461.6" stroke="#7b4a3c" stroke-width="0.9" />
<line x1="690.1" y1="452.3" x2="690.1" y2="449.2" stroke="#7b4a3c" stroke-width="0.9" />
<line x1="682.1" y1="457" x2="679.4" y2="458.5" stroke="#7b4a3c" stroke-width="0.9" />
<line x1="682.1" y1="447.7" x2="684.8" y2="449.2" stroke="#7b4a3c" stroke-width="0.9" />
<line x1="668.6" y1="449.2" x2="668.6" y2="452.3" stroke="#7b4a3c" stroke-width="0.9" />
<line x1="684.8" y1="461.6" x2="682.1" y2="463.2" stroke="#7b4a3c" stroke-width="0.9" />
<line x1="666" y1="453.9" x2="666" y2="457" stroke="#7b4a3c" stroke-width="0.9" />
<line x1="676.7" y1="447.7" x2="679.4" y2="449.2" stroke="#7b4a3c" stroke-width="0.9" />
<line x1="668.6" y1="458.5" x2="666" y2="457" stroke="#7b4a3c" stroke-width="0.9" />
<line x1="671.3" y1="463.2" x2="668.6" y2="461.6" stroke="#7b4a3c" stroke-width="0.9" />
<line x1="668.6" y1="452.3" x2="666" y2="453.9" stroke="#7b4a3c" stroke-width="0.9" />
<line x1="684.8" y1="449.2" x2="684.8" y2="452.3" stroke="#7b4a3c" stroke-width="0.9" />
<line x1="668.6" y1="458.5" x2="668.6" y2="461.6" stroke="#7b4a3c" stroke-width="0.9" />
<line x1="676.7" y1="453.9" x2="676.7" y2="457" stroke="#7b4a3c" stroke-width="0.9" />
<line x1="668.6" y1="443" x2="671.3" y2="444.6" stroke="#7b4a3c" stroke-width="0.9" />
<line x1="674" y1="449.2" x2="674" y2="452.3" stroke="#7b4a3c" stroke-width="0.9" />
<line x1="684.8" y1="452.3" x2="687.4" y2="453.9" stroke="#7b4a3c" stroke-width="0.9" />
<line x1="674" y1="452.3" x2="676.7" y2="453.9" stroke="#7b4a3c" stroke-width="0.9" />
<line x1="687.4" y1="447.7" x2="684.8" y2="449.2" stroke="#7b4a3c" stroke-width="0.9" />
<line x1="671.3" y1="447.7" x2="668.6" y2="449.2" stroke="#7b4a3c" stroke-width="0.9" />
<line x1="671.3" y1="447.7" x2="674" y2="449.2" stroke="#7b4a3c" stroke-width="0.9" />
<line x1="687.4" y1="447.7" x2="690.1" y2="449.2" stroke="#7b4a3c" stroke-width="0.9" />
<line x1="668.6" y1="449.2" x2="666" y2="447.7" stroke="#7b4a3c" stroke-width="0.9" />
<line x1="682.1" y1="447.7" x2="679.4" y2="449.2" stroke="#7b4a3c" stroke-width="0.9" />
<line x1="682.1" y1="457" x2="684.8" y2="458.5" stroke="#7b4a3c" stroke-width="0.9" />
<line x1="666" y1="453.9" x2="663.3" y2="452.3" stroke="#7b4a3c" stroke-width="0.9" />
<line x1="690.1" y1="452.3" x2="687.4" y2="453.9" stroke="#7b4a3c" stroke-width="0.9" />
<line x1="682.1" y1="444.6" x2="684.8" y2="443" stroke="#7b4a3c" stroke-width="0.9" />
<line x1="682.1" y1="453.9" x2="682.1" y2="457" stroke="#7b4a3c" stroke-width="0.9" />
<line x1="676.7" y1="447.7" x2="674" y2="449.2" stroke="#7b4a3c" stroke-width="0.9" />
<line x1="679.4" y1="452.3" x2="676.7" y2="453.9" stroke="#7b4a3c" stroke-width="0.9" />
<line x1="679.4" y1="458.5" x2="679.4" y2="461.6" stroke="#7b4a3c" stroke-width="0.9" />
<line x1="679.4" y1="461.6" x2="676.7" y2="463.2" stroke="#7b4a3c" stroke-width="0.9" />
<line x1="674" y1="458.5" x2="674" y2="461.6" stroke="#7b4a3c" stroke-width="0.9" />
<line x1="663.3" y1="452.3" x2="663.3" y2="449.2" stroke="#7b4a3c" stroke-width="0.9" />
<line x1="687.4" y1="457" x2="684.8" y2="458.5" stroke="#7b4a3c" stroke-width="0.9" />
<line x1="671.3" y1="444.6" x2="674" y2="443" stroke="#7b4a3c" stroke-width="0.9" />
<line x1="687.4" y1="447.7" x2="687.4" y2="444.6" stroke="#7b4a3c" stroke-width="0.9" />
<line x1="676.7" y1="444.6" x2="679.4" y2="443" stroke="#7b4a3c" stroke-width="0.9" />
<line x1="676.7" y1="457" x2="674" y2="458.5" stroke="#7b4a3c" stroke-width="0.9" />
<line x1="682.1" y1="447.7" x2="682.1" y2="444.6" stroke="#7b4a3c" stroke-width="0.9" />
<line x1="666" y1="447.7" x2="666" y2="444.6" stroke="#7b4a3c" stroke-width="0.9" />
<line x1="679.4" y1="449.2" x2="679.4" y2="452.3" stroke="#7b4a3c" stroke-width="0.9" />
<line x1="666" y1="447.7" x2="663.3" y2="449.2" stroke="#7b4a3c" stroke-width="0.9" />
<line x1="676.7" y1="447.7" x2="676.7" y2="444.6" stroke="#7b4a3c" stroke-width="0.9" />
<line x1="684.8" y1="443" x2="687.4" y2="444.6" stroke="#7b4a3c" stroke-width="0.9" />
<circle cx="671.3" cy="447.7" r="1.1" fill="#7b4a3c"/>
<circle cx="668.6" cy="449.2" r="1.1" fill="#7b4a3c"/>
<circle cx="666" cy="447.7" r="1.1" fill="#7b4a3c"/>
<circle cx="666" cy="444.6" r="1.1" fill="#7b4a3c"/>
<circle cx="668.6" cy="443" r="1.1" fill="#7b4a3c"/>
<circle cx="671.3" cy="444.6" r="1.1" fill="#7b4a3c"/>
<circle cx="676.7" cy="447.7" r="1.1" fill="#7b4a3c"/>
<circle cx="674" cy="449.2" r="1.1" fill="#7b4a3c"/>
<circle cx="674" cy="443" r="1.1" fill="#7b4a3c"/>
<circle cx="676.7" cy="444.6" r="1.1" fill="#7b4a3c"/>
<circle cx="682.1" cy="447.7" r="1.1" fill="#7b4a3c"/>
<circle cx="679.4" cy="449.2" r="1.1" fill="#7b4a3c"/>
<circle cx="679.4" cy="443" r="1.1" fill="#7b4a3c"/>
<circle cx="682.1" cy="444.6" r="1.1" fill="#7b4a3c"/>
<circle cx="687.4" cy="447.7" r="1.1" fill="#7b4a3c"/>
<circle cx="684.8" cy="449.2" r="1.1" fill="#7b4a3c"/>
<circle cx="684.8" cy="443" r="1.1" fill="#7b4a3c"/>
<circle cx="687.4" cy="444.6" r="1.1" fill="#7b4a3c"/>
<circle cx="668.6" cy="452.3" r="1.1" fill="#7b4a3c"/>
<circle cx="666" cy="453.9" r="1.1" fill="#7b4a3c"/>
<circle cx="663.3" cy="452.3" r="1.1" fill="#7b4a3c"/>
<circle cx="663.3" cy="449.2" r="1.1" fill="#7b4a3c"/>
<circle cx="674" cy="452.3" r="1.1" fill="#7b4a3c"/>
<circle cx="671.3" cy="453.9" r="1.1" fill="#7b4a3c"/>
<circle cx="679.4" cy="452.3" r="1.1" fill="#7b4a3c"/>
<circle cx="676.7" cy="453.9" r="1.1" fill="#7b4a3c"/>
<circle cx="684.8" cy="452.3" r="1.1" fill="#7b4a3c"/>
<circle cx="682.1" cy="453.9" r="1.1" fill="#7b4a3c"/>
<circle cx="690.1" cy="452.3" r="1.1" fill="#7b4a3c"/>
<circle cx="687.4" cy="453.9" r="1.1" fill="#7b4a3c"/>
<circle cx="690.1" cy="449.2" r="1.1" fill="#7b4a3c"/>
<circle cx="671.3" cy="457" r="1.1" fill="#7b4a3c"/>
<circle cx="668.6" cy="458.5" r="1.1" fill="#7b4a3c"/>
<circle cx="666" cy="457" r="1.1" fill="#7b4a3c"/>
<circle cx="676.7" cy="457" r="1.1" fill="#7b4a3c"/>
<circle cx="674" cy="458.5" r="1.1" fill="#7b4a3c"/>
<circle cx="682.1" cy="457" r="1.1" fill="#7b4a3c"/>
<circle cx="679.4" cy="458.5" r="1.1" fill="#7b4a3c"/>
<circle cx="687.4" cy="457" r="1.1" fill="#7b4a3c"/>
<circle cx="684.8" cy="458.5" r="1.1" fill="#7b4a3c"/>
<circle cx="674" cy="461.6" r="1.1" fill="#7b4a3c"/>
<circle cx="671.3" cy="463.2" r="1.1" fill="#7b4a3c"/>
<circle cx="668.6" cy="461.6" r="1.1" fill="#7b4a3c"/>
<circle cx="679.4" cy="461.6" r="1.1" fill="#7b4a3c"/>
<circle cx="676.7" cy="463.2" r="1.1" fill="#7b4a3c"/>
<circle cx="684.8" cy="461.6" r="1.1" fill="#7b4a3c"/>
<circle cx="682.1" cy="463.2" r="1.1" fill="#7b4a3c"/>
<line x1="726.2" y1="461.4" x2="728.9" y2="463" stroke="#7b4a3c" stroke-width="0.9" />
<line x1="715.4" y1="461.4" x2="718.1" y2="463" stroke="#7b4a3c" stroke-width="0.9" />
<line x1="712.8" y1="453.7" x2="715.4" y2="452.1" stroke="#7b4a3c" stroke-width="0.9" />
<line x1="726.2" y1="470.7" x2="728.9" y2="472.3" stroke="#7b4a3c" stroke-width="0.9" />
<line x1="731.6" y1="461.4" x2="728.9" y2="463" stroke="#7b4a3c" stroke-width="0.9" />
<line x1="726.2" y1="452.1" x2="728.9" y2="453.7" stroke="#7b4a3c" stroke-width="0.9" />
<line x1="720.8" y1="461.4" x2="718.1" y2="463" stroke="#7b4a3c" stroke-width="0.9" />
<line x1="718.1" y1="466.1" x2="715.4" y2="467.6" stroke="#7b4a3c" stroke-width="0.9" />
<line x1="734.2" y1="463" x2="734.2" y2="466.1" stroke="#7b4a3c" stroke-width="0.9" />
<line x1="720.8" y1="452.1" x2="723.5" y2="453.7" stroke="#7b4a3c" stroke-width="0.9" />
<line x1="718.1" y1="466.1" x2="720.8" y2="467.6" stroke="#7b4a3c" stroke-width="0.9" />
<line x1="720.8" y1="470.7" x2="723.5" y2="472.3" stroke="#7b4a3c" stroke-width="0.9" />
<line x1="718.1" y1="456.8" x2="718.1" y2="453.7" stroke="#7b4a3c" stroke-width="0.9" />
<line x1="718.1" y1="463" x2="718.1" y2="466.1" stroke="#7b4a3c" stroke-width="0.9" />
<line x1="723.5" y1="466.1" x2="726.2" y2="467.6" stroke="#7b4a3c" stroke-width="0.9" />
<line x1="720.8" y1="470.7" x2="718.1" y2="472.3" stroke="#7b4a3c" stroke-width="0.9" />
<line x1="731.6" y1="467.6" x2="731.6" y2="470.7" stroke="#7b4a3c" stroke-width="0.9" />
<line x1="736.9" y1="461.4" x2="736.9" y2="458.3" stroke="#7b4a3c" stroke-width="0.9" />
<line x1="728.9" y1="466.1" x2="726.2" y2="467.6" stroke="#7b4a3c" stroke-width="0.9" />
<line x1="728.9" y1="456.8" x2="731.6" y2="458.3" stroke="#7b4a3c" stroke-width="0.9" />
<line x1="715.4" y1="458.3" x2="715.4" y2="461.4" stroke="#7b4a3c" stroke-width="0.9" />
<line x1="731.6" y1="470.7" x2="728.9" y2="472.3" stroke="#7b4a3c" stroke-width="0.9" />
<line x1="712.8" y1="463" x2="712.8" y2="466.1" stroke="#7b4a3c" stroke-width="0.9" />
<line x1="723.5" y1="456.8" x2="726.2" y2="458.3" stroke="#7b4a3c" stroke-width="0.9" />
<line x1="715.4" y1="467.6" x2="712.8" y2="466.1" stroke="#7b4a3c" stroke-width="0.9" />
<line x1="718.1" y1="472.3" x2="715.4" y2="470.7" stroke="#7b4a3c" stroke-width="0.9" />
<line x1="715.4" y1="461.4" x2="712.8" y2="463" stroke="#7b4a3c" stroke-width="0.9" />
<line x1="731.6" y1="458.3" x2="731.6" y2="461.4" stroke="#7b4a3c" stroke-width="0.9" />
<line x1="715.4" y1="467.6" x2="715.4" y2="470.7" stroke="#7b4a3c" stroke-width="0.9" />
<line x1="723.5" y1="463" x2="723.5" y2="466.1" stroke="#7b4a3c" stroke-width="0.9" />
<line x1="715.4" y1="452.1" x2="718.1" y2="453.7" stroke="#7b4a3c" stroke-width="0.9" />
<line x1="720.8" y1="458.3" x2="720.8" y2="461.4" stroke="#7b4a3c" stroke-width="0.9" />
<line x1="731.6" y1="461.4" x2="734.2" y2="463" stroke="#7b4a3c" stroke-width="0.9" />
<line x1="720.8" y1="461.4" x2="723.5" y2="463" stroke="#7b4a3c" stroke-width="0.9" />
<line x1="734.2" y1="456.8" x2="731.6" y2="458.3" stroke="#7b4a3c" stroke-width="0.9" />
<line x1="718.1" y1="456.8" x2="715.4" y2="458.3" stroke="#7b4a3c" stroke-width="0.9" />
<line x1="718.1" y1="456.8" x2="720.8" y2="458.3" stroke="#7b4a3c" stroke-width="0.9" />
<line x1="734.2" y1="456.8" x2="736.9" y2="458.3" stroke="#7b4a3c" stroke-width="0.9" />
<line x1="715.4" y1="458.3" x2="712.8" y2="456.8" stroke="#7b4a3c" stroke-width="0.9" />
<line x1="728.9" y1="456.8" x2="726.2" y2="458.3" stroke="#7b4a3c" stroke-width="0.9" />
<line x1="728.9" y1="466.1" x2="731.6" y2="467.6" stroke="#7b4a3c" stroke-width="0.9" />
<line x1="712.8" y1="463" x2="710.1" y2="461.4" stroke="#7b4a3c" stroke-width="0.9" />
<line x1="736.9" y1="461.4" x2="734.2" y2="463" stroke="#7b4a3c" stroke-width="0.9" />
<line x1="728.9" y1="453.7" x2="731.6" y2="452.1" stroke="#7b4a3c" stroke-width="0.9" />
<line x1="728.9" y1="463" x2="728.9" y2="466.1" stroke="#7b4a3c" stroke-width="0.9" />
<line x1="723.5" y1="456.8" x2="720.8" y2="458.3" stroke="#7b4a3c" stroke-width="0.9" />
<line x1="726.2" y1="461.4" x2="723.5" y2="463" stroke="#7b4a3c" stroke-width="0.9" />
<line x1="726.2" y1="467.6" x2="726.2" y2="470.7" stroke="#7b4a3c" stroke-width="0.9" />
<line x1="726.2" y1="470.7" x2="723.5" y2="472.3" stroke="#7b4a3c" stroke-width="0.9" />
<line x1="720.8" y1="467.6" x2="720.8" y2="470.7" stroke="#7b4a3c" stroke-width="0.9" />
<line x1="710.1" y1="461.4" x2="710.1" y2="458.3" stroke="#7b4a3c" stroke-width="0.9" />
<line x1="734.2" y1="466.1" x2="731.6" y2="467.6" stroke="#7b4a3c" stroke-width="0.9" />
<line x1="718.1" y1="453.7" x2="720.8" y2="452.1" stroke="#7b4a3c" stroke-width="0.9" />
<line x1="734.2" y1="456.8" x2="734.2" y2="453.7" stroke="#7b4a3c" stroke-width="0.9" />
<line x1="723.5" y1="453.7" x2="726.2" y2="452.1" stroke="#7b4a3c" stroke-width="0.9" />
<line x1="723.5" y1="466.1" x2="720.8" y2="467.6" stroke="#7b4a3c" stroke-width="0.9" />
<line x1="728.9" y1="456.8" x2="728.9" y2="453.7" stroke="#7b4a3c" stroke-width="0.9" />
<line x1="712.8" y1="456.8" x2="712.8" y2="453.7" stroke="#7b4a3c" stroke-width="0.9" />
<line x1="726.2" y1="458.3" x2="726.2" y2="461.4" stroke="#7b4a3c" stroke-width="0.9" />
<line x1="712.8" y1="456.8" x2="710.1" y2="458.3" stroke="#7b4a3c" stroke-width="0.9" />
<line x1="723.5" y1="456.8" x2="723.5" y2="453.7" stroke="#7b4a3c" stroke-width="0.9" />
<line x1="731.6" y1="452.1" x2="734.2" y2="453.7" stroke="#7b4a3c" stroke-width="0.9" />
<circle cx="718.1" cy="456.8" r="1.1" fill="#7b4a3c"/>
<circle cx="715.4" cy="458.3" r="1.1" fill="#7b4a3c"/>
<circle cx="712.8" cy="456.8" r="1.1" fill="#7b4a3c"/>
<circle cx="712.8" cy="453.7" r="1.1" fill="#7b4a3c"/>
<circle cx="715.4" cy="452.1" r="1.1" fill="#7b4a3c"/>
<circle cx="718.1" cy="453.7" r="1.1" fill="#7b4a3c"/>
<circle cx="723.5" cy="456.8" r="1.1" fill="#7b4a3c"/>
<circle cx="720.8" cy="458.3" r="1.1" fill="#7b4a3c"/>
<circle cx="720.8" cy="452.1" r="1.1" fill="#7b4a3c"/>
<circle cx="723.5" cy="453.7" r="1.1" fill="#7b4a3c"/>
<circle cx="728.9" cy="456.8" r="1.1" fill="#7b4a3c"/>
<circle cx="726.2" cy="458.3" r="1.1" fill="#7b4a3c"/>
<circle cx="726.2" cy="452.1" r="1.1" fill="#7b4a3c"/>
<circle cx="728.9" cy="453.7" r="1.1" fill="#7b4a3c"/>
<circle cx="734.2" cy="456.8" r="1.1" fill="#7b4a3c"/>
<circle cx="731.6" cy="458.3" r="1.1" fill="#7b4a3c"/>
<circle cx="731.6" cy="452.1" r="1.1" fill="#7b4a3c"/>
<circle cx="734.2" cy="453.7" r="1.1" fill="#7b4a3c"/>
<circle cx="715.4" cy="461.4" r="1.1" fill="#7b4a3c"/>
<circle cx="712.8" cy="463" r="1.1" fill="#7b4a3c"/>
<circle cx="710.1" cy="461.4" r="1.1" fill="#7b4a3c"/>
<circle cx="710.1" cy="458.3" r="1.1" fill="#7b4a3c"/>
<circle cx="720.8" cy="461.4" r="1.1" fill="#7b4a3c"/>
<circle cx="718.1" cy="463" r="1.1" fill="#7b4a3c"/>
<circle cx="726.2" cy="461.4" r="1.1" fill="#7b4a3c"/>
<circle cx="723.5" cy="463" r="1.1" fill="#7b4a3c"/>
<circle cx="731.6" cy="461.4" r="1.1" fill="#7b4a3c"/>
<circle cx="728.9" cy="463" r="1.1" fill="#7b4a3c"/>
<circle cx="736.9" cy="461.4" r="1.1" fill="#7b4a3c"/>
<circle cx="734.2" cy="463" r="1.1" fill="#7b4a3c"/>
<circle cx="736.9" cy="458.3" r="1.1" fill="#7b4a3c"/>
<circle cx="718.1" cy="466.1" r="1.1" fill="#7b4a3c"/>
<circle cx="715.4" cy="467.6" r="1.1" fill="#7b4a3c"/>
<circle cx="712.8" cy="466.1" r="1.1" fill="#7b4a3c"/>
<circle cx="723.5" cy="466.1" r="1.1" fill="#7b4a3c"/>
<circle cx="720.8" cy="467.6" r="1.1" fill="#7b4a3c"/>
<circle cx="728.9" cy="466.1" r="1.1" fill="#7b4a3c"/>
<circle cx="726.2" cy="467.6" r="1.1" fill="#7b4a3c"/>
<circle cx="734.2" cy="466.1" r="1.1" fill="#7b4a3c"/>
<circle cx="731.6" cy="467.6" r="1.1" fill="#7b4a3c"/>
<circle cx="720.8" cy="470.7" r="1.1" fill="#7b4a3c"/>
<circle cx="718.1" cy="472.3" r="1.1" fill="#7b4a3c"/>
<circle cx="715.4" cy="470.7" r="1.1" fill="#7b4a3c"/>
<circle cx="726.2" cy="470.7" r="1.1" fill="#7b4a3c"/>
<circle cx="723.5" cy="472.3" r="1.1" fill="#7b4a3c"/>
<circle cx="731.6" cy="470.7" r="1.1" fill="#7b4a3c"/>
<circle cx="728.9" cy="472.3" r="1.1" fill="#7b4a3c"/>
<line x1="746" y1="386.8" x2="748.7" y2="385.2" stroke="#7b4a3c" stroke-width="0.9" />
<line x1="754" y1="400.7" x2="754" y2="403.8" stroke="#7b4a3c" stroke-width="0.9" />
<line x1="764.8" y1="391.4" x2="764.8" y2="394.5" stroke="#7b4a3c" stroke-width="0.9" />
<line x1="759.4" y1="385.2" x2="762.1" y2="386.8" stroke="#7b4a3c" stroke-width="0.9" />
<line x1="754" y1="394.5" x2="751.3" y2="396.1" stroke="#7b4a3c" stroke-width="0.9" />
<line x1="756.7" y1="399.2" x2="754" y2="400.7" stroke="#7b4a3c" stroke-width="0.9" />
<line x1="767.5" y1="389.9" x2="770.1" y2="391.4" stroke="#7b4a3c" stroke-width="0.9" />
<line x1="754" y1="385.2" x2="756.7" y2="386.8" stroke="#7b4a3c" stroke-width="0.9" />
<line x1="754" y1="394.5" x2="756.7" y2="396.1" stroke="#7b4a3c" stroke-width="0.9" />
<line x1="756.7" y1="399.2" x2="759.4" y2="400.7" stroke="#7b4a3c" stroke-width="0.9" />
<line x1="751.3" y1="389.9" x2="751.3" y2="386.8" stroke="#7b4a3c" stroke-width="0.9" />
<line x1="762.1" y1="399.2" x2="764.8" y2="400.7" stroke="#7b4a3c" stroke-width="0.9" />
<line x1="764.8" y1="394.5" x2="762.1" y2="396.1" stroke="#7b4a3c" stroke-width="0.9" />
<line x1="759.4" y1="394.5" x2="756.7" y2="396.1" stroke="#7b4a3c" stroke-width="0.9" />
<line x1="767.5" y1="399.2" x2="764.8" y2="400.7" stroke="#7b4a3c" stroke-width="0.9" />
<line x1="762.1" y1="389.9" x2="764.8" y2="391.4" stroke="#7b4a3c" stroke-width="0.9" />
<line x1="756.7" y1="389.9" x2="759.4" y2="391.4" stroke="#7b4a3c" stroke-width="0.9" />
<line x1="759.4" y1="394.5" x2="762.1" y2="396.1" stroke="#7b4a3c" stroke-width="0.9" />
<line x1="748.7" y1="391.4" x2="748.7" y2="394.5" stroke="#7b4a3c" stroke-width="0.9" />
<line x1="754" y1="400.7" x2="751.3" y2="399.2" stroke="#7b4a3c" stroke-width="0.9" />
<line x1="767.5" y1="396.1" x2="767.5" y2="399.2" stroke="#7b4a3c" stroke-width="0.9" />
<line x1="764.8" y1="403.8" x2="762.1" y2="405.4" stroke="#7b4a3c" stroke-width="0.9" />
<line x1="772.8" y1="389.9" x2="770.1" y2="391.4" stroke="#7b4a3c" stroke-width="0.9" />
<line x1="748.7" y1="385.2" x2="751.3" y2="386.8" stroke="#7b4a3c" stroke-width="0.9" />
<line x1="754" y1="391.4" x2="754" y2="394.5" stroke="#7b4a3c" stroke-width="0.9" />
<line x1="759.4" y1="400.7" x2="759.4" y2="403.8" stroke="#7b4a3c" stroke-width="0.9" />
<line x1="767.5" y1="389.9" x2="764.8" y2="391.4" stroke="#7b4a3c" stroke-width="0.9" />
<line x1="751.3" y1="396.1" x2="748.7" y2="394.5" stroke="#7b4a3c" stroke-width="0.9" />
<line x1="751.3" y1="389.9" x2="748.7" y2="391.4" stroke="#7b4a3c" stroke-width="0.9" />
<line x1="751.3" y1="389.9" x2="754" y2="391.4" stroke="#7b4a3c" stroke-width="0.9" />
<line x1="751.3" y1="396.1" x2="751.3" y2="399.2" stroke="#7b4a3c" stroke-width="0.9" />
<line x1="748.7" y1="391.4" x2="746" y2="389.9" stroke="#7b4a3c" stroke-width="0.9" />
<line x1="762.1" y1="389.9" x2="759.4" y2="391.4" stroke="#7b4a3c" stroke-width="0.9" />
<line x1="767.5" y1="386.8" x2="770.1" y2="385.2" stroke="#7b4a3c" stroke-width="0.9" />
<line x1="764.8" y1="394.5" x2="767.5" y2="396.1" stroke="#7b4a3c" stroke-width="0.9" />
<line x1="762.1" y1="386.8" x2="764.8" y2="385.2" stroke="#7b4a3c" stroke-width="0.9" />
<line x1="764.8" y1="400.7" x2="764.8" y2="403.8" stroke="#7b4a3c" stroke-width="0.9" />
<line x1="770.1" y1="391.4" x2="770.1" y2="394.5" stroke="#7b4a3c" stroke-width="0.9" />
<line x1="756.7" y1="389.9" x2="754" y2="391.4" stroke="#7b4a3c" stroke-width="0.9" />
<line x1="759.4" y1="391.4" x2="759.4" y2="394.5" stroke="#7b4a3c" stroke-width="0.9" />
<line x1="772.8" y1="389.9" x2="772.8" y2="386.8" stroke="#7b4a3c" stroke-width="0.9" />
<line x1="756.7" y1="396.1" x2="756.7" y2="399.2" stroke="#7b4a3c" stroke-width="0.9" />
<line x1="770.1" y1="385.2" x2="772.8" y2="386.8" stroke="#7b4a3c" stroke-width="0.9" />
<line x1="770.1" y1="394.5" x2="767.5" y2="396.1" stroke="#7b4a3c" stroke-width="0.9" />
<line x1="759.4" y1="403.8" x2="762.1" y2="405.4" stroke="#7b4a3c" stroke-width="0.9" />
<line x1="759.4" y1="403.8" x2="756.7" y2="405.4" stroke="#7b4a3c" stroke-width="0.9" />
<line x1="751.3" y1="386.8" x2="754" y2="385.2" stroke="#7b4a3c" stroke-width="0.9" />
<line x1="767.5" y1="389.9" x2="767.5" y2="386.8" stroke="#7b4a3c" stroke-width="0.9" />
<line x1="756.7" y1="405.4" x2="754" y2="403.8" stroke="#7b4a3c" stroke-width="0.9" />
<line x1="756.7" y1="386.8" x2="759.4" y2="385.2" stroke="#7b4a3c" stroke-width="0.9" />
<line x1="762.1" y1="399.2" x2="759.4" y2="400.7" stroke="#7b4a3c" stroke-width="0.9" />
<line x1="762.1" y1="389.9" x2="762.1" y2="386.8" stroke="#7b4a3c" stroke-width="0.9" />
<line x1="746" y1="389.9" x2="746" y2="386.8" stroke="#7b4a3c" stroke-width="0.9" />
<line x1="762.1" y1="396.1" x2="762.1" y2="399.2" stroke="#7b4a3c" stroke-width="0.9" />
<line x1="756.7" y1="389.9" x2="756.7" y2="386.8" stroke="#7b4a3c" stroke-width="0.9" />
<line x1="764.8" y1="385.2" x2="767.5" y2="386.8" stroke="#7b4a3c" stroke-width="0.9" />
<circle cx="751.3" cy="389.9" r="1.1" fill="#7b4a3c"/>
<circle cx="748.7" cy="391.4" r="1.1" fill="#7b4a3c"/>
<circle cx="746" cy="389.9" r="1.1" fill="#7b4a3c"/>
<circle cx="746" cy="386.8" r="1.1" fill="#7b4a3c"/>
<circle cx="748.7" cy="385.2" r="1.1" fill="#7b4a3c"/>
<circle cx="751.3" cy="386.8" r="1.1" fill="#7b4a3c"/>
<circle cx="756.7" cy="389.9" r="1.1" fill="#7b4a3c"/>
<circle cx="754" cy="391.4" r="1.1" fill="#7b4a3c"/>
<circle cx="754" cy="385.2" r="1.1" fill="#7b4a3c"/>
<circle cx="756.7" cy="386.8" r="1.1" fill="#7b4a3c"/>
<circle cx="762.1" cy="389.9" r="1.1" fill="#7b4a3c"/>
<circle cx="759.4" cy="391.4" r="1.1" fill="#7b4a3c"/>
<circle cx="759.4" cy="385.2" r="1.1" fill="#7b4a3c"/>
<circle cx="762.1" cy="386.8" r="1.1" fill="#7b4a3c"/>
<circle cx="767.5" cy="389.9" r="1.1" fill="#7b4a3c"/>
<circle cx="764.8" cy="391.4" r="1.1" fill="#7b4a3c"/>
<circle cx="764.8" cy="385.2" r="1.1" fill="#7b4a3c"/>
<circle cx="767.5" cy="386.8" r="1.1" fill="#7b4a3c"/>
<circle cx="772.8" cy="389.9" r="1.1" fill="#7b4a3c"/>
<circle cx="770.1" cy="391.4" r="1.1" fill="#7b4a3c"/>
<circle cx="770.1" cy="385.2" r="1.1" fill="#7b4a3c"/>
<circle cx="772.8" cy="386.8" r="1.1" fill="#7b4a3c"/>
<circle cx="754" cy="394.5" r="1.1" fill="#7b4a3c"/>
<circle cx="751.3" cy="396.1" r="1.1" fill="#7b4a3c"/>
<circle cx="748.7" cy="394.5" r="1.1" fill="#7b4a3c"/>
<circle cx="759.4" cy="394.5" r="1.1" fill="#7b4a3c"/>
<circle cx="756.7" cy="396.1" r="1.1" fill="#7b4a3c"/>
<circle cx="764.8" cy="394.5" r="1.1" fill="#7b4a3c"/>
<circle cx="762.1" cy="396.1" r="1.1" fill="#7b4a3c"/>
<circle cx="770.1" cy="394.5" r="1.1" fill="#7b4a3c"/>
<circle cx="767.5" cy="396.1" r="1.1" fill="#7b4a3c"/>
<circle cx="756.7" cy="399.2" r="1.1" fill="#7b4a3c"/>
<circle cx="754" cy="400.7" r="1.1" fill="#7b4a3c"/>
<circle cx="751.3" cy="399.2" r="1.1" fill="#7b4a3c"/>
<circle cx="762.1" cy="399.2" r="1.1" fill="#7b4a3c"/>
<circle cx="759.4" cy="400.7" r="1.1" fill="#7b4a3c"/>
<circle cx="767.5" cy="399.2" r="1.1" fill="#7b4a3c"/>
<circle cx="764.8" cy="400.7" r="1.1" fill="#7b4a3c"/>
<circle cx="759.4" cy="403.8" r="1.1" fill="#7b4a3c"/>
<circle cx="756.7" cy="405.4" r="1.1" fill="#7b4a3c"/>
<circle cx="754" cy="403.8" r="1.1" fill="#7b4a3c"/>
<circle cx="764.8" cy="403.8" r="1.1" fill="#7b4a3c"/>
<circle cx="762.1" cy="405.4" r="1.1" fill="#7b4a3c"/>
<line x1="678.4" y1="398.6" x2="678.4" y2="395.4" stroke="#7b4a3c" stroke-width="0.9" /><circle cx="678.4" cy="395.2" r="1.15" fill="#7b4a3c"/><circle cx="681" cy="393.8" r="1.15" fill="#d8352f"/><circle cx="675.9" cy="393.4" r="1.15" fill="#d8352f"/>
<line x1="676.7" y1="443.6" x2="676.7" y2="440.6" stroke="#7b4a3c" stroke-width="0.9" /><circle cx="676.7" cy="444.4" r="1.3" fill="#8fa4e0"/><circle cx="676.7" cy="440.4" r="1.15" fill="#7b4a3c"/><circle cx="679.4" cy="438.8" r="1.15" fill="#d8352f"/><circle cx="674.1" cy="438.4" r="1.15" fill="#d8352f"/>
<line x1="723.5" y1="453.4" x2="721.2" y2="450.8" stroke="#7b4a3c" stroke-width="0.8" /><circle cx="723.5" cy="453.4" r="1.3" fill="#8fa4e0"/><circle cx="721.2" cy="450.8" r="1.15" fill="#7b4a3c"/><circle cx="719.4" cy="449.4" r="1.3" fill="#d8352f"/>
<circle cx="636.2" cy="459.4" r="1.3" fill="#8fa4e0"/>
<line x1="759.4" y1="385.6" x2="759.4" y2="382" stroke="#7b4a3c" stroke-width="0.9" /><circle cx="759.5" cy="381.6" r="0.9" fill="#7b4a3c"/>
<line x1="638" y1="412" x2="638" y2="409.2" stroke="#7b4a3c" stroke-width="0.8" /></g>
</svg>
</body></html>
